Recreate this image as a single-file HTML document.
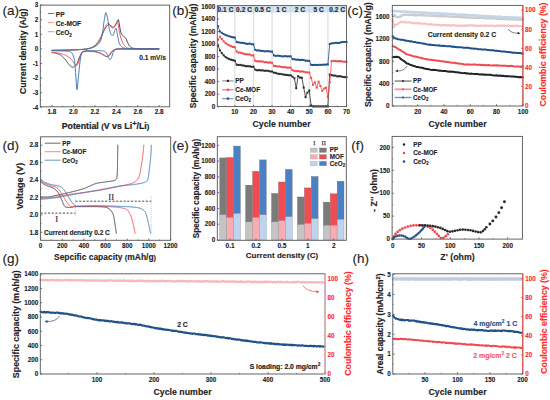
<!DOCTYPE html>
<html><head><meta charset="utf-8"><style>
html,body{margin:0;padding:0;background:#fff;width:550px;height:400px;overflow:hidden}
svg{display:block;font-family:"Liberation Sans", sans-serif}
</style></head><body>
<svg width="550" height="400" viewBox="0 0 550 400">
<rect width="550" height="400" fill="#fefefe"/>
<text x="2.6" y="14.6" font-size="13.5" text-anchor="start" font-weight="normal" fill="#222" stroke="#222" stroke-width="0.12">(a)</text>
<path d="M52,50.36 L52.36,50.36 L52.71,50.36 L53.07,50.36 L53.43,50.36 L53.79,50.36 L54.14,50.36 L54.5,50.35 L54.86,50.35 L55.22,50.35 L55.57,50.35 L55.93,50.34 L56.29,50.34 L56.65,50.34 L57,50.34 L57.36,50.33 L57.72,50.33 L58.07,50.32 L58.43,50.32 L58.79,50.31 L59.15,50.31 L59.5,50.3 L59.86,50.3 L60.22,50.29 L60.58,50.29 L60.93,50.28 L61.29,50.27 L61.65,50.27 L62.01,50.26 L62.36,50.25 L62.72,50.25 L63.08,50.24 L63.43,50.23 L63.79,50.22 L64.15,50.21 L64.51,50.2 L64.86,50.2 L65.22,50.19 L65.58,50.18 L65.94,50.17 L66.29,50.16 L66.65,50.15 L67.01,50.14 L67.37,50.13 L67.72,50.12 L68.08,50.1 L68.44,50.09 L68.79,50.08 L69.15,50.07 L69.51,50.06 L69.87,50.04 L70.22,50.03 L70.58,50.02 L70.94,50 L71.3,49.99 L71.65,49.98 L72.01,49.96 L72.37,49.95 L72.73,49.93 L73.08,49.92 L73.44,49.9 L73.8,49.89 L74.15,49.87 L74.51,49.86 L74.87,49.84 L75.23,49.83 L75.58,49.81 L75.94,49.79 L76.3,49.78 L76.66,49.76 L77.01,49.74 L77.37,49.72 L77.73,49.71 L78.09,49.69 L78.44,49.67 L78.8,49.65 L79.16,49.63 L79.51,49.61 L79.87,49.59 L80.23,49.57 L80.59,49.55 L80.94,49.53 L81.3,49.51 L81.66,49.49 L82.02,49.47 L82.37,49.45 L82.73,49.43 L83.09,49.4 L83.45,49.38 L83.8,49.36 L84.16,49.34 L84.52,49.31 L84.87,49.28 L85.23,49.24 L85.59,49.2 L85.95,49.16 L86.3,49.11 L86.66,49.05 L87.02,48.99 L87.38,48.92 L87.73,48.86 L88.09,48.78 L88.45,48.71 L88.81,48.63 L89.16,48.55 L89.52,48.46 L89.88,48.37 L90.23,48.27 L90.59,48.15 L90.95,48.03 L91.31,47.89 L91.66,47.75 L92.02,47.59 L92.38,47.42 L92.74,47.25 L93.09,47.06 L93.45,46.86 L93.81,46.66 L94.17,46.44 L94.52,46.22 L94.88,45.98 L95.24,45.72 L95.59,45.44 L95.95,45.12 L96.31,44.77 L96.67,44.39 L97.02,43.99 L97.38,43.56 L97.74,43.11 L98.1,42.64 L98.45,42.15 L98.81,41.63 L99.17,41.1 L99.53,40.55 L99.88,39.99 L100.24,39.41 L100.6,38.77 L100.95,38.02 L101.31,37.19 L101.67,36.31 L102.03,35.39 L102.38,34.45 L102.74,33.52 L103.1,32.63 L103.46,31.78 L103.81,31 L104.17,30.31 L104.53,29.62 L104.89,28.95 L105.24,28.3 L105.6,27.69 L105.96,27.14 L106.31,26.66 L106.67,26.27 L107.03,25.92 L107.39,25.58 L107.74,25.26 L108.1,24.98 L108.46,24.75 L108.82,24.59 L109.17,24.52 L109.53,24.58 L109.89,24.78 L110.25,25.09 L110.6,25.46 L110.96,25.83 L111.32,26.14 L111.67,26.39 L112.03,26.63 L112.39,26.88 L112.75,27.1 L113.1,27.29 L113.46,27.41 L113.82,27.43 L114.18,27.25 L114.53,26.86 L114.89,26.32 L115.25,25.67 L115.61,24.99 L115.96,24.33 L116.32,23.67 L116.68,22.79 L117.03,21.82 L117.39,20.9 L117.75,20.15 L118.11,19.74 L118.46,19.98 L118.82,21.45 L119.18,23.62 L119.54,25.87 L119.89,27.68 L120.25,29.51 L120.61,31.3 L120.97,32.78 L121.32,33.71 L121.68,34.31 L122.04,34.79 L122.39,35.2 L122.75,35.55 L123.11,35.88 L123.47,36.22 L123.82,36.5 L124.18,36.74 L124.54,36.98 L124.9,37.23 L125.25,37.53 L125.61,37.91 L125.97,38.45 L126.33,39.22 L126.68,40.12 L127.04,41.06 L127.4,41.94 L127.75,42.71 L128.11,43.49 L128.47,44.27 L128.83,44.99 L129.18,45.59 L129.54,46.01 L129.9,46.34 L130.26,46.65 L130.61,46.94 L130.97,47.2 L131.33,47.44 L131.69,47.65 L132.04,47.84 L132.4,48 L132.76,48.13 L133.11,48.24 L133.47,48.32 L133.83,48.38 L134.19,48.43 L134.54,48.49 L134.9,48.54 L135.26,48.58 L135.62,48.62 L135.97,48.66 L136.33,48.69 L136.69,48.71 L137.05,48.73 L137.4,48.75 L137.76,48.75 L138.12,48.76 L138.47,48.77 L138.83,48.77 L139.19,48.78 L139.55,48.78 L139.9,48.79 L140.26,48.79 L140.62,48.8 L140.98,48.8 L141.33,48.8 L141.69,48.81 L142.05,48.81 L142.41,48.82 L142.76,48.82 L143.12,48.82 L143.48,48.83 L143.83,48.83 L144.19,48.84 L144.55,48.84 L144.91,48.84 L145.26,48.85 L145.62,48.85 L145.98,48.85 L146.34,48.85 L146.69,48.86 L147.05,48.86 L147.41,48.86 L147.77,48.86 L148.12,48.87 L148.48,48.87 L148.84,48.87 L149.19,48.87 L149.55,48.88 L149.91,48.88 L150.27,48.88 L150.62,48.88 L150.98,48.88 L151.34,48.88 L151.7,48.89 L152.05,48.89 L152.41,48.89 L152.77,48.89 L153.13,48.89 L153.48,48.89 L153.84,48.89 L154.2,48.89 L154.55,48.89 L154.91,48.9 L155.27,48.9 L155.63,48.9 L155.98,48.9 L156.34,48.9 L156.7,48.9 L157.06,48.9 L157.41,48.9 L157.77,48.9 L158.13,48.9 L158.49,48.9 L158.84,48.9 L159.2,48.9 L159.2,48.9 L158.84,48.9 L158.49,48.9 L158.13,48.9 L157.77,48.9 L157.41,48.9 L157.06,48.9 L156.7,48.9 L156.34,48.9 L155.98,48.9 L155.63,48.9 L155.27,48.9 L154.91,48.9 L154.55,48.9 L154.2,48.9 L153.84,48.9 L153.48,48.9 L153.13,48.9 L152.77,48.9 L152.41,48.9 L152.05,48.9 L151.7,48.9 L151.34,48.9 L150.98,48.9 L150.62,48.9 L150.27,48.9 L149.91,48.9 L149.55,48.9 L149.19,48.9 L148.84,48.9 L148.48,48.9 L148.12,48.9 L147.77,48.9 L147.41,48.9 L147.05,48.9 L146.69,48.9 L146.34,48.9 L145.98,48.9 L145.62,48.9 L145.26,48.9 L144.91,48.9 L144.55,48.9 L144.19,48.9 L143.83,48.9 L143.48,48.9 L143.12,48.9 L142.76,48.9 L142.41,48.9 L142.05,48.9 L141.69,48.9 L141.33,48.9 L140.98,48.9 L140.62,48.9 L140.26,48.9 L139.9,48.9 L139.55,48.9 L139.19,48.9 L138.83,48.9 L138.47,48.9 L138.12,48.9 L137.76,48.9 L137.4,48.9 L137.05,48.9 L136.69,48.9 L136.33,48.9 L135.97,48.9 L135.62,48.9 L135.26,48.9 L134.9,48.9 L134.54,48.9 L134.19,48.9 L133.83,48.9 L133.47,48.9 L133.11,48.9 L132.76,48.9 L132.4,48.9 L132.04,48.9 L131.69,48.9 L131.33,48.9 L130.97,48.9 L130.61,48.9 L130.26,48.9 L129.9,48.9 L129.54,48.9 L129.18,48.9 L128.83,48.9 L128.47,48.9 L128.11,48.9 L127.75,48.9 L127.4,48.9 L127.04,48.9 L126.68,48.9 L126.33,48.9 L125.97,48.9 L125.61,48.9 L125.25,48.9 L124.9,48.9 L124.54,48.9 L124.18,48.9 L123.82,48.9 L123.47,48.9 L123.11,48.9 L122.75,48.9 L122.39,48.9 L122.04,48.9 L121.68,48.9 L121.32,48.9 L120.97,48.9 L120.61,48.91 L120.25,48.92 L119.89,48.93 L119.54,48.94 L119.18,48.95 L118.82,48.97 L118.46,48.98 L118.11,49 L117.75,49.02 L117.39,49.05 L117.03,49.08 L116.68,49.14 L116.32,49.23 L115.96,49.33 L115.61,49.45 L115.25,49.59 L114.89,49.74 L114.53,49.9 L114.18,50.07 L113.82,50.27 L113.46,50.53 L113.1,50.84 L112.75,51.19 L112.39,51.56 L112.03,51.95 L111.67,52.35 L111.32,52.76 L110.96,53.27 L110.6,53.83 L110.25,54.39 L109.89,54.9 L109.53,55.32 L109.17,55.6 L108.82,55.86 L108.46,56.1 L108.1,56.31 L107.74,56.48 L107.39,56.59 L107.03,56.64 L106.67,56.62 L106.31,56.55 L105.96,56.44 L105.6,56.29 L105.24,56.11 L104.89,55.91 L104.53,55.7 L104.17,55.47 L103.81,55.24 L103.46,55.01 L103.1,54.79 L102.74,54.58 L102.38,54.39 L102.03,54.2 L101.67,54 L101.31,53.79 L100.95,53.58 L100.6,53.38 L100.24,53.19 L99.88,53 L99.53,52.84 L99.17,52.7 L98.81,52.57 L98.45,52.44 L98.1,52.32 L97.74,52.21 L97.38,52.1 L97.02,52 L96.67,51.9 L96.31,51.81 L95.95,51.73 L95.59,51.65 L95.24,51.59 L94.88,51.53 L94.52,51.47 L94.17,51.42 L93.81,51.37 L93.45,51.32 L93.09,51.27 L92.74,51.22 L92.38,51.18 L92.02,51.14 L91.66,51.1 L91.31,51.06 L90.95,51.03 L90.59,51 L90.23,50.98 L89.88,50.96 L89.52,50.95 L89.16,50.94 L88.81,50.94 L88.45,50.95 L88.09,50.96 L87.73,50.97 L87.38,50.98 L87.02,51 L86.66,51.03 L86.3,51.06 L85.95,51.09 L85.59,51.12 L85.23,51.17 L84.87,51.21 L84.52,51.26 L84.16,51.32 L83.8,51.37 L83.45,51.44 L83.09,51.51 L82.73,51.62 L82.37,51.91 L82.02,52.33 L81.66,52.87 L81.3,53.5 L80.94,54.18 L80.59,54.88 L80.23,55.58 L79.87,56.26 L79.51,57.03 L79.16,57.92 L78.8,58.89 L78.44,59.89 L78.09,60.89 L77.73,61.85 L77.37,62.73 L77.01,63.49 L76.66,64.09 L76.3,64.54 L75.94,64.98 L75.58,65.41 L75.23,65.82 L74.87,66.19 L74.51,66.53 L74.15,66.81 L73.8,67.04 L73.44,67.2 L73.08,67.29 L72.73,67.29 L72.37,67.21 L72.01,67.07 L71.65,66.87 L71.3,66.62 L70.94,66.34 L70.58,66.02 L70.22,65.69 L69.87,65.35 L69.51,65 L69.15,64.67 L68.79,64.31 L68.44,63.89 L68.08,63.42 L67.72,62.92 L67.37,62.4 L67.01,61.86 L66.65,61.34 L66.29,60.83 L65.94,60.34 L65.58,59.9 L65.22,59.51 L64.86,59.12 L64.51,58.73 L64.15,58.33 L63.79,57.95 L63.43,57.56 L63.08,57.19 L62.72,56.82 L62.36,56.47 L62.01,56.14 L61.65,55.82 L61.29,55.52 L60.93,55.25 L60.58,55.01 L60.22,54.79 L59.86,54.6 L59.5,54.45 L59.15,54.31 L58.79,54.18 L58.43,54.05 L58.07,53.93 L57.72,53.8 L57.36,53.69 L57,53.57 L56.65,53.46 L56.29,53.36 L55.93,53.26 L55.57,53.17 L55.22,53.09 L54.86,53.01 L54.5,52.94 L54.14,52.88 L53.79,52.82 L53.43,52.78 L53.07,52.74 L52.71,52.72 L52.36,52.7 L52,52.7" fill="none" stroke="#3a3a3a" stroke-width="0.95" stroke-linejoin="round" stroke-linecap="round" />
<path d="M52,50.36 L52.36,50.36 L52.71,50.36 L53.07,50.36 L53.43,50.36 L53.79,50.36 L54.14,50.36 L54.5,50.35 L54.86,50.35 L55.22,50.35 L55.57,50.35 L55.93,50.35 L56.29,50.34 L56.65,50.34 L57,50.34 L57.36,50.33 L57.72,50.33 L58.07,50.33 L58.43,50.32 L58.79,50.32 L59.15,50.31 L59.5,50.31 L59.86,50.3 L60.22,50.3 L60.58,50.29 L60.93,50.28 L61.29,50.28 L61.65,50.27 L62.01,50.27 L62.36,50.26 L62.72,50.25 L63.08,50.24 L63.43,50.24 L63.79,50.23 L64.15,50.22 L64.51,50.21 L64.86,50.2 L65.22,50.19 L65.58,50.18 L65.94,50.18 L66.29,50.17 L66.65,50.16 L67.01,50.15 L67.37,50.13 L67.72,50.12 L68.08,50.11 L68.44,50.1 L68.79,50.09 L69.15,50.08 L69.51,50.07 L69.87,50.05 L70.22,50.04 L70.58,50.03 L70.94,50.02 L71.3,50 L71.65,49.99 L72.01,49.97 L72.37,49.96 L72.73,49.95 L73.08,49.93 L73.44,49.92 L73.8,49.9 L74.15,49.88 L74.51,49.87 L74.87,49.85 L75.23,49.84 L75.58,49.82 L75.94,49.8 L76.3,49.79 L76.66,49.77 L77.01,49.75 L77.37,49.73 L77.73,49.71 L78.09,49.7 L78.44,49.68 L78.8,49.66 L79.16,49.64 L79.51,49.62 L79.87,49.6 L80.23,49.58 L80.59,49.56 L80.94,49.54 L81.3,49.52 L81.66,49.5 L82.02,49.47 L82.37,49.45 L82.73,49.43 L83.09,49.41 L83.45,49.38 L83.8,49.36 L84.16,49.34 L84.52,49.31 L84.87,49.28 L85.23,49.24 L85.59,49.19 L85.95,49.13 L86.3,49.07 L86.66,49.01 L87.02,48.94 L87.38,48.86 L87.73,48.78 L88.09,48.7 L88.45,48.61 L88.81,48.51 L89.16,48.42 L89.52,48.32 L89.88,48.21 L90.23,48.08 L90.59,47.94 L90.95,47.78 L91.31,47.61 L91.66,47.43 L92.02,47.23 L92.38,47.03 L92.74,46.8 L93.09,46.57 L93.45,46.33 L93.81,46.07 L94.17,45.81 L94.52,45.53 L94.88,45.25 L95.24,44.94 L95.59,44.6 L95.95,44.23 L96.31,43.83 L96.67,43.39 L97.02,42.93 L97.38,42.45 L97.74,41.94 L98.1,41.42 L98.45,40.87 L98.81,40.31 L99.17,39.74 L99.53,39.15 L99.88,38.55 L100.24,37.95 L100.6,37.31 L100.95,36.61 L101.31,35.87 L101.67,35.09 L102.03,34.28 L102.38,33.45 L102.74,32.61 L103.1,31.78 L103.46,30.96 L103.81,30.16 L104.17,29.38 L104.53,28.55 L104.89,27.7 L105.24,26.88 L105.6,26.13 L105.96,25.5 L106.31,25.01 L106.67,24.54 L107.03,24.1 L107.39,23.7 L107.74,23.37 L108.1,23.15 L108.46,23.06 L108.82,23.21 L109.17,23.68 L109.53,24.35 L109.89,25.13 L110.25,25.9 L110.6,26.56 L110.96,27 L111.32,27.3 L111.67,27.58 L112.03,27.83 L112.39,28.02 L112.75,28.14 L113.1,28.15 L113.46,27.9 L113.82,27.4 L114.18,26.75 L114.53,26.05 L114.89,25.37 L115.25,24.81 L115.61,24.3 L115.96,23.75 L116.32,23.2 L116.68,22.73 L117.03,22.37 L117.39,22.19 L117.75,22.47 L118.11,23.74 L118.46,25.71 L118.82,28.05 L119.18,30.45 L119.54,32.57 L119.89,34.14 L120.25,35.52 L120.61,36.81 L120.97,38.01 L121.32,39.13 L121.68,40.14 L122.04,41.09 L122.39,42 L122.75,42.83 L123.11,43.57 L123.47,44.18 L123.82,44.69 L124.18,45.18 L124.54,45.65 L124.9,46.09 L125.25,46.5 L125.61,46.87 L125.97,47.19 L126.33,47.47 L126.68,47.68 L127.04,47.84 L127.4,47.95 L127.75,48.05 L128.11,48.15 L128.47,48.23 L128.83,48.32 L129.18,48.39 L129.54,48.46 L129.9,48.52 L130.26,48.58 L130.61,48.63 L130.97,48.67 L131.33,48.7 L131.69,48.73 L132.04,48.75 L132.4,48.75 L132.76,48.76 L133.11,48.76 L133.47,48.77 L133.83,48.77 L134.19,48.78 L134.54,48.78 L134.9,48.79 L135.26,48.79 L135.62,48.79 L135.97,48.8 L136.33,48.8 L136.69,48.8 L137.05,48.81 L137.4,48.81 L137.76,48.81 L138.12,48.82 L138.47,48.82 L138.83,48.82 L139.19,48.83 L139.55,48.83 L139.9,48.83 L140.26,48.84 L140.62,48.84 L140.98,48.84 L141.33,48.84 L141.69,48.85 L142.05,48.85 L142.41,48.85 L142.76,48.85 L143.12,48.86 L143.48,48.86 L143.83,48.86 L144.19,48.86 L144.55,48.87 L144.91,48.87 L145.26,48.87 L145.62,48.87 L145.98,48.87 L146.34,48.87 L146.69,48.88 L147.05,48.88 L147.41,48.88 L147.77,48.88 L148.12,48.88 L148.48,48.88 L148.84,48.88 L149.19,48.89 L149.55,48.89 L149.91,48.89 L150.27,48.89 L150.62,48.89 L150.98,48.89 L151.34,48.89 L151.7,48.89 L152.05,48.89 L152.41,48.89 L152.77,48.89 L153.13,48.9 L153.48,48.9 L153.84,48.9 L154.2,48.9 L154.55,48.9 L154.91,48.9 L155.27,48.9 L155.63,48.9 L155.98,48.9 L156.34,48.9 L156.7,48.9 L157.06,48.9 L157.41,48.9 L157.77,48.9 L158.13,48.9 L158.49,48.9 L158.84,48.9 L159.2,48.9 L159.2,48.9 L158.84,48.9 L158.49,48.9 L158.13,48.9 L157.77,48.9 L157.41,48.9 L157.06,48.9 L156.7,48.9 L156.34,48.9 L155.98,48.9 L155.63,48.9 L155.27,48.9 L154.91,48.9 L154.55,48.9 L154.2,48.9 L153.84,48.9 L153.48,48.9 L153.13,48.9 L152.77,48.9 L152.41,48.9 L152.05,48.9 L151.7,48.9 L151.34,48.9 L150.98,48.9 L150.62,48.9 L150.27,48.9 L149.91,48.9 L149.55,48.9 L149.19,48.9 L148.84,48.9 L148.48,48.9 L148.12,48.9 L147.77,48.9 L147.41,48.9 L147.05,48.9 L146.69,48.9 L146.34,48.9 L145.98,48.9 L145.62,48.9 L145.26,48.9 L144.91,48.9 L144.55,48.9 L144.19,48.9 L143.83,48.9 L143.48,48.9 L143.12,48.9 L142.76,48.9 L142.41,48.9 L142.05,48.9 L141.69,48.9 L141.33,48.9 L140.98,48.9 L140.62,48.9 L140.26,48.9 L139.9,48.9 L139.55,48.9 L139.19,48.9 L138.83,48.9 L138.47,48.9 L138.12,48.9 L137.76,48.9 L137.4,48.9 L137.05,48.9 L136.69,48.9 L136.33,48.9 L135.97,48.9 L135.62,48.9 L135.26,48.9 L134.9,48.9 L134.54,48.9 L134.19,48.9 L133.83,48.9 L133.47,48.9 L133.11,48.9 L132.76,48.9 L132.4,48.9 L132.04,48.9 L131.69,48.9 L131.33,48.9 L130.97,48.9 L130.61,48.9 L130.26,48.9 L129.9,48.9 L129.54,48.9 L129.18,48.9 L128.83,48.9 L128.47,48.9 L128.11,48.9 L127.75,48.9 L127.4,48.9 L127.04,48.9 L126.68,48.9 L126.33,48.9 L125.97,48.9 L125.61,48.9 L125.25,48.9 L124.9,48.9 L124.54,48.9 L124.18,48.9 L123.82,48.9 L123.47,48.9 L123.11,48.9 L122.75,48.9 L122.39,48.9 L122.04,48.9 L121.68,48.9 L121.32,48.9 L120.97,48.9 L120.61,48.9 L120.25,48.9 L119.89,48.9 L119.54,48.9 L119.18,48.9 L118.82,48.9 L118.46,48.9 L118.11,48.9 L117.75,48.9 L117.39,48.9 L117.03,48.91 L116.68,48.95 L116.32,49.01 L115.96,49.08 L115.61,49.17 L115.25,49.27 L114.89,49.39 L114.53,49.51 L114.18,49.63 L113.82,49.78 L113.46,49.96 L113.1,50.18 L112.75,50.44 L112.39,50.72 L112.03,51.03 L111.67,51.36 L111.32,51.72 L110.96,52.22 L110.6,52.8 L110.25,53.42 L109.89,54.02 L109.53,54.53 L109.17,54.93 L108.82,55.33 L108.46,55.71 L108.1,56.07 L107.74,56.36 L107.39,56.55 L107.03,56.64 L106.67,56.61 L106.31,56.51 L105.96,56.35 L105.6,56.16 L105.24,55.94 L104.89,55.71 L104.53,55.48 L104.17,55.27 L103.81,55.09 L103.46,54.9 L103.1,54.71 L102.74,54.51 L102.38,54.31 L102.03,54.12 L101.67,53.93 L101.31,53.75 L100.95,53.57 L100.6,53.42 L100.24,53.28 L99.88,53.15 L99.53,53.02 L99.17,52.9 L98.81,52.77 L98.45,52.65 L98.1,52.53 L97.74,52.42 L97.38,52.32 L97.02,52.22 L96.67,52.13 L96.31,52.05 L95.95,51.97 L95.59,51.91 L95.24,51.86 L94.88,51.82 L94.52,51.79 L94.17,51.76 L93.81,51.73 L93.45,51.7 L93.09,51.67 L92.74,51.64 L92.38,51.62 L92.02,51.59 L91.66,51.57 L91.31,51.54 L90.95,51.52 L90.59,51.5 L90.23,51.49 L89.88,51.47 L89.52,51.45 L89.16,51.44 L88.81,51.43 L88.45,51.41 L88.09,51.4 L87.73,51.4 L87.38,51.39 L87.02,51.39 L86.66,51.38 L86.3,51.38 L85.95,51.39 L85.59,51.43 L85.23,51.48 L84.87,51.56 L84.52,51.65 L84.16,51.77 L83.8,51.9 L83.45,52.05 L83.09,52.22 L82.73,52.41 L82.37,52.61 L82.02,52.88 L81.66,53.4 L81.3,54.13 L80.94,55.02 L80.59,55.99 L80.23,56.98 L79.87,57.96 L79.51,59.13 L79.16,60.44 L78.8,61.72 L78.44,62.8 L78.09,63.57 L77.73,64.29 L77.37,64.94 L77.01,65.43 L76.66,65.67 L76.3,65.65 L75.94,65.46 L75.58,65.17 L75.23,64.84 L74.87,64.48 L74.51,63.99 L74.15,63.4 L73.8,62.76 L73.44,62.13 L73.08,61.56 L72.73,61.08 L72.37,60.64 L72.01,60.21 L71.65,59.8 L71.3,59.41 L70.94,59.05 L70.58,58.71 L70.22,58.39 L69.87,58.09 L69.51,57.8 L69.15,57.52 L68.79,57.24 L68.44,56.98 L68.08,56.72 L67.72,56.48 L67.37,56.24 L67.01,56.02 L66.65,55.81 L66.29,55.61 L65.94,55.43 L65.58,55.26 L65.22,55.1 L64.86,54.95 L64.51,54.8 L64.15,54.66 L63.79,54.52 L63.43,54.39 L63.08,54.26 L62.72,54.14 L62.36,54.02 L62.01,53.91 L61.65,53.8 L61.29,53.7 L60.93,53.6 L60.58,53.52 L60.22,53.43 L59.86,53.35 L59.5,53.28 L59.15,53.21 L58.79,53.14 L58.43,53.07 L58.07,53.01 L57.72,52.94 L57.36,52.88 L57,52.82 L56.65,52.76 L56.29,52.7 L55.93,52.64 L55.57,52.59 L55.22,52.54 L54.86,52.49 L54.5,52.45 L54.14,52.41 L53.79,52.37 L53.43,52.34 L53.07,52.31 L52.71,52.29 L52.36,52.27 L52,52.26" fill="none" stroke="#f04a4f" stroke-width="0.95" stroke-linejoin="round" stroke-linecap="round" />
<path d="M52,50.36 L52.36,50.36 L52.71,50.35 L53.07,50.35 L53.43,50.34 L53.79,50.34 L54.14,50.34 L54.5,50.33 L54.86,50.32 L55.22,50.32 L55.57,50.31 L55.93,50.31 L56.29,50.3 L56.65,50.29 L57,50.29 L57.36,50.28 L57.72,50.27 L58.07,50.26 L58.43,50.26 L58.79,50.25 L59.15,50.24 L59.5,50.23 L59.86,50.22 L60.22,50.21 L60.58,50.2 L60.93,50.19 L61.29,50.19 L61.65,50.18 L62.01,50.17 L62.36,50.16 L62.72,50.14 L63.08,50.13 L63.43,50.12 L63.79,50.11 L64.15,50.1 L64.51,50.09 L64.86,50.08 L65.22,50.07 L65.58,50.06 L65.94,50.04 L66.29,50.03 L66.65,50.02 L67.01,50.01 L67.37,50 L67.72,49.98 L68.08,49.97 L68.44,49.96 L68.79,49.95 L69.15,49.93 L69.51,49.92 L69.87,49.91 L70.22,49.9 L70.58,49.88 L70.94,49.87 L71.3,49.86 L71.65,49.84 L72.01,49.83 L72.37,49.82 L72.73,49.8 L73.08,49.79 L73.44,49.78 L73.8,49.76 L74.15,49.75 L74.51,49.74 L74.87,49.72 L75.23,49.71 L75.58,49.69 L75.94,49.68 L76.3,49.66 L76.66,49.65 L77.01,49.63 L77.37,49.62 L77.73,49.6 L78.09,49.58 L78.44,49.57 L78.8,49.55 L79.16,49.53 L79.51,49.51 L79.87,49.49 L80.23,49.47 L80.59,49.45 L80.94,49.43 L81.3,49.41 L81.66,49.38 L82.02,49.36 L82.37,49.33 L82.73,49.31 L83.09,49.28 L83.45,49.25 L83.8,49.22 L84.16,49.19 L84.52,49.16 L84.87,49.12 L85.23,49.08 L85.59,49.03 L85.95,48.98 L86.3,48.93 L86.66,48.87 L87.02,48.81 L87.38,48.74 L87.73,48.68 L88.09,48.61 L88.45,48.54 L88.81,48.46 L89.16,48.39 L89.52,48.32 L89.88,48.24 L90.23,48.16 L90.59,48.08 L90.95,48 L91.31,47.91 L91.66,47.82 L92.02,47.73 L92.38,47.63 L92.74,47.52 L93.09,47.4 L93.45,47.28 L93.81,47.15 L94.17,47.02 L94.52,46.87 L94.88,46.71 L95.24,46.54 L95.59,46.35 L95.95,46.15 L96.31,45.93 L96.67,45.69 L97.02,45.42 L97.38,45.12 L97.74,44.8 L98.1,44.45 L98.45,44.07 L98.81,43.65 L99.17,43.2 L99.53,42.71 L99.88,42.17 L100.24,41.6 L100.6,40.83 L100.95,39.75 L101.31,38.41 L101.67,36.86 L102.03,35.17 L102.38,33.39 L102.74,31.38 L103.1,28.82 L103.46,25.97 L103.81,23.12 L104.17,20.57 L104.53,18.41 L104.89,16.13 L105.24,14.1 L105.6,12.79 L105.96,12.61 L106.31,13.28 L106.67,14.48 L107.03,16 L107.39,17.62 L107.74,19.29 L108.1,21.48 L108.46,23.95 L108.82,26.37 L109.17,28.41 L109.53,29.87 L109.89,31.19 L110.25,32.43 L110.6,33.5 L110.96,34.35 L111.32,34.89 L111.67,35.12 L112.03,35.27 L112.39,35.38 L112.75,35.45 L113.1,35.43 L113.46,34.81 L113.82,33.67 L114.18,32.34 L114.53,31.12 L114.89,30.22 L115.25,29.3 L115.61,28.53 L115.96,28.17 L116.32,28.73 L116.68,30.32 L117.03,32.37 L117.39,34.3 L117.75,36.17 L118.11,38.24 L118.46,40.23 L118.82,41.87 L119.18,42.97 L119.54,43.85 L119.89,44.59 L120.25,45.2 L120.61,45.69 L120.97,46.09 L121.32,46.45 L121.68,46.77 L122.04,47.04 L122.39,47.26 L122.75,47.44 L123.11,47.59 L123.47,47.74 L123.82,47.88 L124.18,48.01 L124.54,48.13 L124.9,48.24 L125.25,48.34 L125.61,48.43 L125.97,48.5 L126.33,48.55 L126.68,48.59 L127.04,48.61 L127.4,48.62 L127.75,48.62 L128.11,48.63 L128.47,48.64 L128.83,48.65 L129.18,48.65 L129.54,48.66 L129.9,48.67 L130.26,48.68 L130.61,48.68 L130.97,48.69 L131.33,48.7 L131.69,48.7 L132.04,48.71 L132.4,48.72 L132.76,48.72 L133.11,48.73 L133.47,48.73 L133.83,48.74 L134.19,48.74 L134.54,48.75 L134.9,48.76 L135.26,48.76 L135.62,48.77 L135.97,48.77 L136.33,48.78 L136.69,48.78 L137.05,48.78 L137.4,48.79 L137.76,48.79 L138.12,48.8 L138.47,48.8 L138.83,48.81 L139.19,48.81 L139.55,48.81 L139.9,48.82 L140.26,48.82 L140.62,48.82 L140.98,48.83 L141.33,48.83 L141.69,48.83 L142.05,48.84 L142.41,48.84 L142.76,48.84 L143.12,48.85 L143.48,48.85 L143.83,48.85 L144.19,48.85 L144.55,48.86 L144.91,48.86 L145.26,48.86 L145.62,48.86 L145.98,48.87 L146.34,48.87 L146.69,48.87 L147.05,48.87 L147.41,48.87 L147.77,48.88 L148.12,48.88 L148.48,48.88 L148.84,48.88 L149.19,48.88 L149.55,48.88 L149.91,48.89 L150.27,48.89 L150.62,48.89 L150.98,48.89 L151.34,48.89 L151.7,48.89 L152.05,48.89 L152.41,48.89 L152.77,48.89 L153.13,48.89 L153.48,48.89 L153.84,48.9 L154.2,48.9 L154.55,48.9 L154.91,48.9 L155.27,48.9 L155.63,48.9 L155.98,48.9 L156.34,48.9 L156.7,48.9 L157.06,48.9 L157.41,48.9 L157.77,48.9 L158.13,48.9 L158.49,48.9 L158.84,48.9 L159.2,48.9 L159.2,48.9 L158.84,48.9 L158.49,48.9 L158.13,48.9 L157.77,48.9 L157.41,48.9 L157.06,48.9 L156.7,48.9 L156.34,48.9 L155.98,48.9 L155.63,48.9 L155.27,48.9 L154.91,48.9 L154.55,48.9 L154.2,48.9 L153.84,48.9 L153.48,48.9 L153.13,48.9 L152.77,48.9 L152.41,48.9 L152.05,48.9 L151.7,48.9 L151.34,48.9 L150.98,48.9 L150.62,48.9 L150.27,48.9 L149.91,48.9 L149.55,48.9 L149.19,48.9 L148.84,48.9 L148.48,48.9 L148.12,48.9 L147.77,48.9 L147.41,48.9 L147.05,48.9 L146.69,48.9 L146.34,48.9 L145.98,48.9 L145.62,48.9 L145.26,48.9 L144.91,48.9 L144.55,48.9 L144.19,48.9 L143.83,48.9 L143.48,48.9 L143.12,48.9 L142.76,48.9 L142.41,48.9 L142.05,48.9 L141.69,48.9 L141.33,48.9 L140.98,48.9 L140.62,48.9 L140.26,48.9 L139.9,48.9 L139.55,48.9 L139.19,48.9 L138.83,48.9 L138.47,48.9 L138.12,48.9 L137.76,48.9 L137.4,48.9 L137.05,48.9 L136.69,48.9 L136.33,48.9 L135.97,48.9 L135.62,48.9 L135.26,48.9 L134.9,48.9 L134.54,48.9 L134.19,48.9 L133.83,48.9 L133.47,48.9 L133.11,48.9 L132.76,48.9 L132.4,48.9 L132.04,48.9 L131.69,48.9 L131.33,48.9 L130.97,48.9 L130.61,48.9 L130.26,48.9 L129.9,48.9 L129.54,48.9 L129.18,48.9 L128.83,48.9 L128.47,48.9 L128.11,48.9 L127.75,48.9 L127.4,48.9 L127.04,48.9 L126.68,48.9 L126.33,48.9 L125.97,48.9 L125.61,48.9 L125.25,48.9 L124.9,48.9 L124.54,48.9 L124.18,48.9 L123.82,48.9 L123.47,48.9 L123.11,48.9 L122.75,48.9 L122.39,48.9 L122.04,48.9 L121.68,48.9 L121.32,48.9 L120.97,48.9 L120.61,48.9 L120.25,48.91 L119.89,48.91 L119.54,48.92 L119.18,48.92 L118.82,48.93 L118.46,48.94 L118.11,48.95 L117.75,48.96 L117.39,48.97 L117.03,48.99 L116.68,49.01 L116.32,49.03 L115.96,49.05 L115.61,49.2 L115.25,49.5 L114.89,49.87 L114.53,50.27 L114.18,50.76 L113.82,51.34 L113.46,52.01 L113.1,52.75 L112.75,53.65 L112.39,54.86 L112.03,56.15 L111.67,57.26 L111.32,58 L110.96,58.68 L110.6,59.25 L110.25,59.62 L109.89,59.69 L109.53,59.38 L109.17,58.8 L108.82,58.04 L108.46,57.23 L108.1,56.47 L107.74,55.8 L107.39,55.07 L107.03,54.3 L106.67,53.54 L106.31,52.84 L105.96,52.28 L105.6,51.89 L105.24,51.68 L104.89,51.5 L104.53,51.33 L104.17,51.19 L103.81,51.06 L103.46,50.96 L103.1,50.88 L102.74,50.83 L102.38,50.8 L102.03,50.78 L101.67,50.77 L101.31,50.76 L100.95,50.74 L100.6,50.73 L100.24,50.72 L99.88,50.71 L99.53,50.7 L99.17,50.7 L98.81,50.69 L98.45,50.68 L98.1,50.68 L97.74,50.67 L97.38,50.67 L97.02,50.66 L96.67,50.66 L96.31,50.66 L95.95,50.65 L95.59,50.65 L95.24,50.65 L94.88,50.65 L94.52,50.65 L94.17,50.65 L93.81,50.66 L93.45,50.66 L93.09,50.66 L92.74,50.67 L92.38,50.67 L92.02,50.68 L91.66,50.69 L91.31,50.7 L90.95,50.71 L90.59,50.72 L90.23,50.73 L89.88,50.75 L89.52,50.76 L89.16,50.78 L88.81,50.8 L88.45,50.82 L88.09,50.85 L87.73,50.87 L87.38,50.9 L87.02,50.93 L86.66,50.96 L86.3,50.99 L85.95,51.02 L85.59,51.06 L85.23,51.1 L84.87,51.14 L84.52,51.18 L84.16,51.23 L83.8,51.28 L83.45,51.33 L83.09,51.38 L82.73,51.53 L82.37,51.86 L82.02,52.33 L81.66,52.94 L81.3,53.76 L80.94,55.39 L80.59,57.65 L80.23,60.22 L79.87,62.84 L79.51,65.86 L79.16,69.27 L78.8,72.87 L78.44,76.41 L78.09,79.93 L77.73,84.17 L77.37,87.94 L77.01,89.76 L76.66,87.87 L76.3,82.8 L75.94,77.08 L75.58,72.5 L75.23,67.79 L74.87,63.53 L74.51,60.58 L74.15,58.75 L73.8,57.26 L73.44,56.06 L73.08,55.12 L72.73,54.39 L72.37,53.73 L72.01,53.15 L71.65,52.68 L71.3,52.32 L70.94,52.1 L70.58,51.95 L70.22,51.82 L69.87,51.7 L69.51,51.61 L69.15,51.53 L68.79,51.47 L68.44,51.42 L68.08,51.38 L67.72,51.35 L67.37,51.33 L67.01,51.3 L66.65,51.28 L66.29,51.25 L65.94,51.23 L65.58,51.21 L65.22,51.18 L64.86,51.16 L64.51,51.14 L64.15,51.12 L63.79,51.1 L63.43,51.08 L63.08,51.07 L62.72,51.05 L62.36,51.03 L62.01,51.01 L61.65,51 L61.29,50.98 L60.93,50.97 L60.58,50.96 L60.22,50.94 L59.86,50.93 L59.5,50.92 L59.15,50.91 L58.79,50.9 L58.43,50.89 L58.07,50.88 L57.72,50.87 L57.36,50.86 L57,50.85 L56.65,50.84 L56.29,50.84 L55.93,50.83 L55.57,50.82 L55.22,50.82 L54.86,50.81 L54.5,50.81 L54.14,50.81 L53.79,50.8 L53.43,50.8 L53.07,50.8 L52.71,50.8 L52.36,50.8 L52,50.8" fill="none" stroke="#3a78b5" stroke-width="0.95" stroke-linejoin="round" stroke-linecap="round" />
<rect x="40.3" y="5.1" width="129.4" height="101.7" fill="none" stroke="#555" stroke-width="0.9"/>
<line x1="52" y1="106.8" x2="52" y2="105" stroke="#555" stroke-width="0.8"/>
<text x="52" y="113.9" font-size="6.3" text-anchor="middle" font-weight="bold" fill="#222" stroke="#222" stroke-width="0.1" >1.8</text>
<line x1="73.44" y1="106.8" x2="73.44" y2="105" stroke="#555" stroke-width="0.8"/>
<text x="73.44" y="113.9" font-size="6.3" text-anchor="middle" font-weight="bold" fill="#222" stroke="#222" stroke-width="0.1" >2.0</text>
<line x1="94.88" y1="106.8" x2="94.88" y2="105" stroke="#555" stroke-width="0.8"/>
<text x="94.88" y="113.9" font-size="6.3" text-anchor="middle" font-weight="bold" fill="#222" stroke="#222" stroke-width="0.1" >2.2</text>
<line x1="116.32" y1="106.8" x2="116.32" y2="105" stroke="#555" stroke-width="0.8"/>
<text x="116.32" y="113.9" font-size="6.3" text-anchor="middle" font-weight="bold" fill="#222" stroke="#222" stroke-width="0.1" >2.4</text>
<line x1="137.76" y1="106.8" x2="137.76" y2="105" stroke="#555" stroke-width="0.8"/>
<text x="137.76" y="113.9" font-size="6.3" text-anchor="middle" font-weight="bold" fill="#222" stroke="#222" stroke-width="0.1" >2.6</text>
<line x1="159.2" y1="106.8" x2="159.2" y2="105" stroke="#555" stroke-width="0.8"/>
<text x="159.2" y="113.9" font-size="6.3" text-anchor="middle" font-weight="bold" fill="#222" stroke="#222" stroke-width="0.1" >2.8</text>
<line x1="62.72" y1="106.8" x2="62.72" y2="105.7" stroke="#555" stroke-width="0.6"/>
<line x1="84.16" y1="106.8" x2="84.16" y2="105.7" stroke="#555" stroke-width="0.6"/>
<line x1="105.6" y1="106.8" x2="105.6" y2="105.7" stroke="#555" stroke-width="0.6"/>
<line x1="127.04" y1="106.8" x2="127.04" y2="105.7" stroke="#555" stroke-width="0.6"/>
<line x1="148.48" y1="106.8" x2="148.48" y2="105.7" stroke="#555" stroke-width="0.6"/>
<line x1="40.3" y1="5.1" x2="42.1" y2="5.1" stroke="#555" stroke-width="0.8"/>
<text x="38.3" y="7.37" font-size="6.3" text-anchor="end" font-weight="bold" fill="#222" stroke="#222" stroke-width="0.1" >3</text>
<line x1="40.3" y1="19.7" x2="42.1" y2="19.7" stroke="#555" stroke-width="0.8"/>
<text x="38.3" y="21.97" font-size="6.3" text-anchor="end" font-weight="bold" fill="#222" stroke="#222" stroke-width="0.1" >2</text>
<line x1="40.3" y1="34.3" x2="42.1" y2="34.3" stroke="#555" stroke-width="0.8"/>
<text x="38.3" y="36.57" font-size="6.3" text-anchor="end" font-weight="bold" fill="#222" stroke="#222" stroke-width="0.1" >1</text>
<line x1="40.3" y1="48.9" x2="42.1" y2="48.9" stroke="#555" stroke-width="0.8"/>
<text x="38.3" y="51.17" font-size="6.3" text-anchor="end" font-weight="bold" fill="#222" stroke="#222" stroke-width="0.1" >0</text>
<line x1="40.3" y1="63.5" x2="42.1" y2="63.5" stroke="#555" stroke-width="0.8"/>
<text x="38.3" y="65.77" font-size="6.3" text-anchor="end" font-weight="bold" fill="#222" stroke="#222" stroke-width="0.1" >-1</text>
<line x1="40.3" y1="78.1" x2="42.1" y2="78.1" stroke="#555" stroke-width="0.8"/>
<text x="38.3" y="80.37" font-size="6.3" text-anchor="end" font-weight="bold" fill="#222" stroke="#222" stroke-width="0.1" >-2</text>
<line x1="40.3" y1="92.7" x2="42.1" y2="92.7" stroke="#555" stroke-width="0.8"/>
<text x="38.3" y="94.97" font-size="6.3" text-anchor="end" font-weight="bold" fill="#222" stroke="#222" stroke-width="0.1" >-3</text>
<line x1="40.3" y1="107.3" x2="42.1" y2="107.3" stroke="#555" stroke-width="0.8"/>
<text x="38.3" y="109.57" font-size="6.3" text-anchor="end" font-weight="bold" fill="#222" stroke="#222" stroke-width="0.1" >-4</text>
<line x1="40.3" y1="12.4" x2="41.4" y2="12.4" stroke="#555" stroke-width="0.6"/>
<line x1="40.3" y1="27" x2="41.4" y2="27" stroke="#555" stroke-width="0.6"/>
<line x1="40.3" y1="41.6" x2="41.4" y2="41.6" stroke="#555" stroke-width="0.6"/>
<line x1="40.3" y1="56.2" x2="41.4" y2="56.2" stroke="#555" stroke-width="0.6"/>
<line x1="40.3" y1="70.8" x2="41.4" y2="70.8" stroke="#555" stroke-width="0.6"/>
<line x1="40.3" y1="85.4" x2="41.4" y2="85.4" stroke="#555" stroke-width="0.6"/>
<line x1="40.3" y1="100" x2="41.4" y2="100" stroke="#555" stroke-width="0.6"/>
<text transform="translate(25.7,51.3) rotate(-90)" font-size="8.6" text-anchor="middle" font-weight="bold" fill="#222" stroke="#222" stroke-width="0.12">Current density (A/g)</text>
<text x="105.5" y="128.8" font-size="8.8" text-anchor="middle" font-weight="bold" fill="#222" stroke="#222" stroke-width="0.2">Potential <tspan font-size="7.6">(</tspan>V vs Li<tspan font-size="7.5" dy="-3">+</tspan><tspan dy="3">/Li</tspan><tspan font-size="7.6">)</tspan></text>
<path d="M48.3,13.5 L53.8,13.5" fill="none" stroke="#555" stroke-width="0.8" stroke-linejoin="round" stroke-linecap="round" />
<text x="55.8" y="16.8" font-size="6.6" text-anchor="start" font-weight="bold" fill="#222" stroke="#222" stroke-width="0.1" >PP</text>
<path d="M48.3,22.6 L53.8,22.6" fill="none" stroke="#f77" stroke-width="0.8" stroke-linejoin="round" stroke-linecap="round" />
<text x="55.8" y="25.9" font-size="6.6" text-anchor="start" font-weight="bold" fill="#222" stroke="#222" stroke-width="0.1" >Ce-MOF</text>
<path d="M48.3,31.7 L53.8,31.7" fill="none" stroke="#7a9cc0" stroke-width="0.8" stroke-linejoin="round" stroke-linecap="round" />
<text x="55.8" y="35" font-size="6.6" text-anchor="start" font-weight="bold" fill="#222" stroke="#222" stroke-width="0.1" >CeO<tspan font-size="70%" dy="1.5">2</tspan></text>
<text x="166" y="59.8" font-size="6.6" text-anchor="end" font-weight="bold" fill="#222" stroke="#222" stroke-width="0.1" >0.1 mV/s</text>
<text x="172.2" y="14.6" font-size="13.5" text-anchor="start" font-weight="normal" fill="#222" stroke="#222" stroke-width="0.12">(b)</text>
<rect x="217.3" y="5.6" width="129.2" height="7.0" fill="#d3e5f2"/>
<line x1="234.81" y1="5.6" x2="234.81" y2="106.6" stroke="#d0d0d0" stroke-width="0.8"/>
<line x1="253.43" y1="5.6" x2="253.43" y2="106.6" stroke="#d0d0d0" stroke-width="0.8"/>
<line x1="272.04" y1="5.6" x2="272.04" y2="106.6" stroke="#d0d0d0" stroke-width="0.8"/>
<line x1="290.66" y1="5.6" x2="290.66" y2="106.6" stroke="#d0d0d0" stroke-width="0.8"/>
<line x1="309.27" y1="5.6" x2="309.27" y2="106.6" stroke="#d0d0d0" stroke-width="0.8"/>
<line x1="327.89" y1="5.6" x2="327.89" y2="106.6" stroke="#d0d0d0" stroke-width="0.8"/>
<text x="225.51" y="12" font-size="6.4" text-anchor="middle" font-weight="bold" fill="#2a2a2a" stroke="#2a2a2a" stroke-width="0.2" letter-spacing="0.15">0.1 C</text>
<text x="244.12" y="12" font-size="6.4" text-anchor="middle" font-weight="bold" fill="#2a2a2a" stroke="#2a2a2a" stroke-width="0.2" letter-spacing="0.15">0.2 C</text>
<text x="262.74" y="12" font-size="6.4" text-anchor="middle" font-weight="bold" fill="#2a2a2a" stroke="#2a2a2a" stroke-width="0.2" letter-spacing="0.15">0.5 C</text>
<text x="281.35" y="12" font-size="6.4" text-anchor="middle" font-weight="bold" fill="#2a2a2a" stroke="#2a2a2a" stroke-width="0.2" letter-spacing="0.15">1 C</text>
<text x="299.96" y="12" font-size="6.4" text-anchor="middle" font-weight="bold" fill="#2a2a2a" stroke="#2a2a2a" stroke-width="0.2" letter-spacing="0.15">2 C</text>
<text x="318.58" y="12" font-size="6.4" text-anchor="middle" font-weight="bold" fill="#2a2a2a" stroke="#2a2a2a" stroke-width="0.2" letter-spacing="0.15">5 C</text>
<text x="337.19" y="12" font-size="6.4" text-anchor="middle" font-weight="bold" fill="#2a2a2a" stroke="#2a2a2a" stroke-width="0.2" letter-spacing="0.15">0.2 C</text>
<path d="M218.06,45.7 L219.92,50.34 L221.78,53.16 L223.65,55.35 L225.51,56.91 L227.37,58.17 L229.23,59.11 L231.09,59.73 L232.95,60.23 L234.81,60.73 L236.68,64.66 L238.54,65 L240.4,64.87 L242.26,65.41 L244.12,65.64 L245.98,66.21 L247.84,66.17 L249.71,66.28 L251.57,66.84 L253.43,66.67 L255.29,69.67 L257.15,70.29 L259.01,70.12 L260.87,70.4 L262.74,70.42 L264.6,70.78 L266.46,70.71 L268.32,70.83 L270.18,71.42 L272.04,71.53 L273.9,72.65 L275.77,72.92 L277.63,73.7 L279.49,73.88 L281.35,74.07 L283.21,74.51 L285.07,74.74 L286.93,75.03 L288.8,75.23 L290.66,75.33 L292.52,76.64 L294.38,78.21 L296.24,88.23 L298.1,76.2 L299.96,77.58 L301.83,77.7 L303.69,87.54 L305.55,97.18 L307.41,92.67 L309.27,90.48 L311.13,105.51 L312.99,106.39 L314.86,106.39 L316.72,106.39 L318.58,106.39 L320.44,106.39 L322.3,106.39 L324.16,106.39 L326.02,106.39 L327.89,106.39 L329.75,74.51 L331.61,75.2 L333.47,75.55 L335.33,75.61 L337.19,76.34 L339.05,76.25 L340.92,76.39 L342.78,76.88 L344.64,77.16 L346.5,77.01" fill="none" stroke="#2b2b2b" stroke-width="0.8" stroke-linejoin="round" stroke-linecap="round" />
<rect x="217.06" y="44.7" width="2" height="2" fill="#2b2b2b"/>
<rect x="218.92" y="49.34" width="2" height="2" fill="#2b2b2b"/>
<rect x="220.78" y="52.16" width="2" height="2" fill="#2b2b2b"/>
<rect x="222.65" y="54.35" width="2" height="2" fill="#2b2b2b"/>
<rect x="224.51" y="55.91" width="2" height="2" fill="#2b2b2b"/>
<rect x="226.37" y="57.17" width="2" height="2" fill="#2b2b2b"/>
<rect x="228.23" y="58.11" width="2" height="2" fill="#2b2b2b"/>
<rect x="230.09" y="58.73" width="2" height="2" fill="#2b2b2b"/>
<rect x="231.95" y="59.23" width="2" height="2" fill="#2b2b2b"/>
<rect x="233.81" y="59.73" width="2" height="2" fill="#2b2b2b"/>
<rect x="235.68" y="63.66" width="2" height="2" fill="#2b2b2b"/>
<rect x="237.54" y="64" width="2" height="2" fill="#2b2b2b"/>
<rect x="239.4" y="63.87" width="2" height="2" fill="#2b2b2b"/>
<rect x="241.26" y="64.41" width="2" height="2" fill="#2b2b2b"/>
<rect x="243.12" y="64.64" width="2" height="2" fill="#2b2b2b"/>
<rect x="244.98" y="65.21" width="2" height="2" fill="#2b2b2b"/>
<rect x="246.84" y="65.17" width="2" height="2" fill="#2b2b2b"/>
<rect x="248.71" y="65.28" width="2" height="2" fill="#2b2b2b"/>
<rect x="250.57" y="65.84" width="2" height="2" fill="#2b2b2b"/>
<rect x="252.43" y="65.67" width="2" height="2" fill="#2b2b2b"/>
<rect x="254.29" y="68.67" width="2" height="2" fill="#2b2b2b"/>
<rect x="256.15" y="69.29" width="2" height="2" fill="#2b2b2b"/>
<rect x="258.01" y="69.12" width="2" height="2" fill="#2b2b2b"/>
<rect x="259.87" y="69.4" width="2" height="2" fill="#2b2b2b"/>
<rect x="261.74" y="69.42" width="2" height="2" fill="#2b2b2b"/>
<rect x="263.6" y="69.78" width="2" height="2" fill="#2b2b2b"/>
<rect x="265.46" y="69.71" width="2" height="2" fill="#2b2b2b"/>
<rect x="267.32" y="69.83" width="2" height="2" fill="#2b2b2b"/>
<rect x="269.18" y="70.42" width="2" height="2" fill="#2b2b2b"/>
<rect x="271.04" y="70.53" width="2" height="2" fill="#2b2b2b"/>
<rect x="272.9" y="71.65" width="2" height="2" fill="#2b2b2b"/>
<rect x="274.77" y="71.92" width="2" height="2" fill="#2b2b2b"/>
<rect x="276.63" y="72.7" width="2" height="2" fill="#2b2b2b"/>
<rect x="278.49" y="72.88" width="2" height="2" fill="#2b2b2b"/>
<rect x="280.35" y="73.07" width="2" height="2" fill="#2b2b2b"/>
<rect x="282.21" y="73.51" width="2" height="2" fill="#2b2b2b"/>
<rect x="284.07" y="73.74" width="2" height="2" fill="#2b2b2b"/>
<rect x="285.93" y="74.03" width="2" height="2" fill="#2b2b2b"/>
<rect x="287.8" y="74.23" width="2" height="2" fill="#2b2b2b"/>
<rect x="289.66" y="74.33" width="2" height="2" fill="#2b2b2b"/>
<rect x="291.52" y="75.64" width="2" height="2" fill="#2b2b2b"/>
<rect x="293.38" y="77.21" width="2" height="2" fill="#2b2b2b"/>
<rect x="295.24" y="87.23" width="2" height="2" fill="#2b2b2b"/>
<rect x="297.1" y="75.2" width="2" height="2" fill="#2b2b2b"/>
<rect x="298.96" y="76.58" width="2" height="2" fill="#2b2b2b"/>
<rect x="300.83" y="76.7" width="2" height="2" fill="#2b2b2b"/>
<rect x="302.69" y="86.54" width="2" height="2" fill="#2b2b2b"/>
<rect x="304.55" y="96.18" width="2" height="2" fill="#2b2b2b"/>
<rect x="306.41" y="91.67" width="2" height="2" fill="#2b2b2b"/>
<rect x="308.27" y="89.48" width="2" height="2" fill="#2b2b2b"/>
<rect x="310.13" y="104.51" width="2" height="2" fill="#2b2b2b"/>
<rect x="311.99" y="105.39" width="2" height="2" fill="#2b2b2b"/>
<rect x="313.86" y="105.39" width="2" height="2" fill="#2b2b2b"/>
<rect x="315.72" y="105.39" width="2" height="2" fill="#2b2b2b"/>
<rect x="317.58" y="105.39" width="2" height="2" fill="#2b2b2b"/>
<rect x="319.44" y="105.39" width="2" height="2" fill="#2b2b2b"/>
<rect x="321.3" y="105.39" width="2" height="2" fill="#2b2b2b"/>
<rect x="323.16" y="105.39" width="2" height="2" fill="#2b2b2b"/>
<rect x="325.02" y="105.39" width="2" height="2" fill="#2b2b2b"/>
<rect x="326.89" y="105.39" width="2" height="2" fill="#2b2b2b"/>
<rect x="328.75" y="73.51" width="2" height="2" fill="#2b2b2b"/>
<rect x="330.61" y="74.2" width="2" height="2" fill="#2b2b2b"/>
<rect x="332.47" y="74.55" width="2" height="2" fill="#2b2b2b"/>
<rect x="334.33" y="74.61" width="2" height="2" fill="#2b2b2b"/>
<rect x="336.19" y="75.34" width="2" height="2" fill="#2b2b2b"/>
<rect x="338.05" y="75.25" width="2" height="2" fill="#2b2b2b"/>
<rect x="339.92" y="75.39" width="2" height="2" fill="#2b2b2b"/>
<rect x="341.78" y="75.88" width="2" height="2" fill="#2b2b2b"/>
<rect x="343.64" y="76.16" width="2" height="2" fill="#2b2b2b"/>
<rect x="345.5" y="76.01" width="2" height="2" fill="#2b2b2b"/>
<path d="M218.06,39.75 L219.92,36.75 L221.78,39.06 L223.65,41.26 L225.51,43.14 L227.37,44.39 L229.23,45.33 L231.09,46.27 L232.95,46.89 L234.81,47.21 L236.68,51.58 L238.54,52.55 L240.4,52.65 L242.26,53.26 L244.12,53.85 L245.98,54.38 L247.84,54.26 L249.71,54.53 L251.57,55.45 L253.43,55.35 L255.29,60.79 L257.15,61.3 L259.01,61.46 L260.87,61.4 L262.74,61.55 L264.6,62.27 L266.46,62.11 L268.32,62.66 L270.18,62.42 L272.04,62.84 L273.9,65.88 L275.77,66.07 L277.63,66.55 L279.49,66.4 L281.35,66.99 L283.21,67.28 L285.07,67.1 L286.93,67.59 L288.8,67.62 L290.66,67.62 L292.52,70.18 L294.38,70.87 L296.24,71.23 L298.1,70.98 L299.96,71.58 L301.83,71.41 L303.69,71.68 L305.55,72.22 L307.41,72.39 L309.27,72.56 L311.13,77.89 L312.99,84.78 L314.86,82.4 L316.72,87.66 L318.58,81.65 L320.44,86.03 L322.3,90.86 L324.16,88.54 L326.02,87.66 L327.89,97.18 L329.75,82.4 L331.61,61.17 L333.47,60.83 L335.33,61.05 L337.19,61.21 L339.05,61.29 L340.92,61.21 L342.78,61.59 L344.64,61.74 L346.5,61.66" fill="none" stroke="#f04a4f" stroke-width="0.8" stroke-linejoin="round" stroke-linecap="round" />
<rect x="217.06" y="38.75" width="2" height="2" fill="#f04a4f"/>
<rect x="218.92" y="35.75" width="2" height="2" fill="#f04a4f"/>
<rect x="220.78" y="38.06" width="2" height="2" fill="#f04a4f"/>
<rect x="222.65" y="40.26" width="2" height="2" fill="#f04a4f"/>
<rect x="224.51" y="42.14" width="2" height="2" fill="#f04a4f"/>
<rect x="226.37" y="43.39" width="2" height="2" fill="#f04a4f"/>
<rect x="228.23" y="44.33" width="2" height="2" fill="#f04a4f"/>
<rect x="230.09" y="45.27" width="2" height="2" fill="#f04a4f"/>
<rect x="231.95" y="45.89" width="2" height="2" fill="#f04a4f"/>
<rect x="233.81" y="46.21" width="2" height="2" fill="#f04a4f"/>
<rect x="235.68" y="50.58" width="2" height="2" fill="#f04a4f"/>
<rect x="237.54" y="51.55" width="2" height="2" fill="#f04a4f"/>
<rect x="239.4" y="51.65" width="2" height="2" fill="#f04a4f"/>
<rect x="241.26" y="52.26" width="2" height="2" fill="#f04a4f"/>
<rect x="243.12" y="52.85" width="2" height="2" fill="#f04a4f"/>
<rect x="244.98" y="53.38" width="2" height="2" fill="#f04a4f"/>
<rect x="246.84" y="53.26" width="2" height="2" fill="#f04a4f"/>
<rect x="248.71" y="53.53" width="2" height="2" fill="#f04a4f"/>
<rect x="250.57" y="54.45" width="2" height="2" fill="#f04a4f"/>
<rect x="252.43" y="54.35" width="2" height="2" fill="#f04a4f"/>
<rect x="254.29" y="59.79" width="2" height="2" fill="#f04a4f"/>
<rect x="256.15" y="60.3" width="2" height="2" fill="#f04a4f"/>
<rect x="258.01" y="60.46" width="2" height="2" fill="#f04a4f"/>
<rect x="259.87" y="60.4" width="2" height="2" fill="#f04a4f"/>
<rect x="261.74" y="60.55" width="2" height="2" fill="#f04a4f"/>
<rect x="263.6" y="61.27" width="2" height="2" fill="#f04a4f"/>
<rect x="265.46" y="61.11" width="2" height="2" fill="#f04a4f"/>
<rect x="267.32" y="61.66" width="2" height="2" fill="#f04a4f"/>
<rect x="269.18" y="61.42" width="2" height="2" fill="#f04a4f"/>
<rect x="271.04" y="61.84" width="2" height="2" fill="#f04a4f"/>
<rect x="272.9" y="64.88" width="2" height="2" fill="#f04a4f"/>
<rect x="274.77" y="65.07" width="2" height="2" fill="#f04a4f"/>
<rect x="276.63" y="65.55" width="2" height="2" fill="#f04a4f"/>
<rect x="278.49" y="65.4" width="2" height="2" fill="#f04a4f"/>
<rect x="280.35" y="65.99" width="2" height="2" fill="#f04a4f"/>
<rect x="282.21" y="66.28" width="2" height="2" fill="#f04a4f"/>
<rect x="284.07" y="66.1" width="2" height="2" fill="#f04a4f"/>
<rect x="285.93" y="66.59" width="2" height="2" fill="#f04a4f"/>
<rect x="287.8" y="66.62" width="2" height="2" fill="#f04a4f"/>
<rect x="289.66" y="66.62" width="2" height="2" fill="#f04a4f"/>
<rect x="291.52" y="69.18" width="2" height="2" fill="#f04a4f"/>
<rect x="293.38" y="69.87" width="2" height="2" fill="#f04a4f"/>
<rect x="295.24" y="70.23" width="2" height="2" fill="#f04a4f"/>
<rect x="297.1" y="69.98" width="2" height="2" fill="#f04a4f"/>
<rect x="298.96" y="70.58" width="2" height="2" fill="#f04a4f"/>
<rect x="300.83" y="70.41" width="2" height="2" fill="#f04a4f"/>
<rect x="302.69" y="70.68" width="2" height="2" fill="#f04a4f"/>
<rect x="304.55" y="71.22" width="2" height="2" fill="#f04a4f"/>
<rect x="306.41" y="71.39" width="2" height="2" fill="#f04a4f"/>
<rect x="308.27" y="71.56" width="2" height="2" fill="#f04a4f"/>
<rect x="310.13" y="76.89" width="2" height="2" fill="#f04a4f"/>
<rect x="311.99" y="83.78" width="2" height="2" fill="#f04a4f"/>
<rect x="313.86" y="81.4" width="2" height="2" fill="#f04a4f"/>
<rect x="315.72" y="86.66" width="2" height="2" fill="#f04a4f"/>
<rect x="317.58" y="80.65" width="2" height="2" fill="#f04a4f"/>
<rect x="319.44" y="85.03" width="2" height="2" fill="#f04a4f"/>
<rect x="321.3" y="89.86" width="2" height="2" fill="#f04a4f"/>
<rect x="323.16" y="87.54" width="2" height="2" fill="#f04a4f"/>
<rect x="325.02" y="86.66" width="2" height="2" fill="#f04a4f"/>
<rect x="326.89" y="96.18" width="2" height="2" fill="#f04a4f"/>
<rect x="328.75" y="81.4" width="2" height="2" fill="#f04a4f"/>
<rect x="330.61" y="60.17" width="2" height="2" fill="#f04a4f"/>
<rect x="332.47" y="59.83" width="2" height="2" fill="#f04a4f"/>
<rect x="334.33" y="60.05" width="2" height="2" fill="#f04a4f"/>
<rect x="336.19" y="60.21" width="2" height="2" fill="#f04a4f"/>
<rect x="338.05" y="60.29" width="2" height="2" fill="#f04a4f"/>
<rect x="339.92" y="60.21" width="2" height="2" fill="#f04a4f"/>
<rect x="341.78" y="60.59" width="2" height="2" fill="#f04a4f"/>
<rect x="343.64" y="60.74" width="2" height="2" fill="#f04a4f"/>
<rect x="345.5" y="60.66" width="2" height="2" fill="#f04a4f"/>
<path d="M218.06,26.29 L219.92,31.49 L221.78,32.8 L223.65,34.06 L225.51,34.99 L227.37,35.62 L229.23,36.25 L231.09,36.87 L232.95,37.31 L234.81,37.5 L236.68,42.17 L238.54,42.36 L240.4,42.75 L242.26,42.85 L244.12,43.08 L245.98,43.65 L247.84,43.9 L249.71,43.59 L251.57,44.15 L253.43,44.37 L255.29,49.9 L257.15,50.49 L259.01,50.45 L260.87,50.85 L262.74,50.91 L264.6,51.37 L266.46,51.21 L268.32,51.21 L270.18,51.57 L272.04,51.56 L273.9,55.37 L275.77,55.94 L277.63,55.65 L279.49,55.88 L281.35,56.19 L283.21,56.47 L285.07,56.06 L286.93,56.41 L288.8,56.36 L290.66,56.36 L292.52,59.1 L294.38,59.21 L296.24,59.73 L298.1,59.64 L299.96,60.02 L301.83,59.86 L303.69,60.03 L305.55,60.66 L307.41,60.77 L309.27,60.85 L311.13,64.76 L312.99,65.02 L314.86,64.84 L316.72,65 L318.58,64.82 L320.44,64.85 L322.3,64.83 L324.16,64.64 L326.02,64.6 L327.89,64.36 L329.75,43.9 L331.61,43.4 L333.47,43.19 L335.33,42.87 L337.19,42.86 L339.05,42.97 L340.92,42.34 L342.78,42.08 L344.64,41.94 L346.5,41.97" fill="none" stroke="#1f5289" stroke-width="0.8" stroke-linejoin="round" stroke-linecap="round" />
<rect x="217.06" y="25.29" width="2" height="2" fill="#1f5289"/>
<rect x="218.92" y="30.49" width="2" height="2" fill="#1f5289"/>
<rect x="220.78" y="31.8" width="2" height="2" fill="#1f5289"/>
<rect x="222.65" y="33.06" width="2" height="2" fill="#1f5289"/>
<rect x="224.51" y="33.99" width="2" height="2" fill="#1f5289"/>
<rect x="226.37" y="34.62" width="2" height="2" fill="#1f5289"/>
<rect x="228.23" y="35.25" width="2" height="2" fill="#1f5289"/>
<rect x="230.09" y="35.87" width="2" height="2" fill="#1f5289"/>
<rect x="231.95" y="36.31" width="2" height="2" fill="#1f5289"/>
<rect x="233.81" y="36.5" width="2" height="2" fill="#1f5289"/>
<rect x="235.68" y="41.17" width="2" height="2" fill="#1f5289"/>
<rect x="237.54" y="41.36" width="2" height="2" fill="#1f5289"/>
<rect x="239.4" y="41.75" width="2" height="2" fill="#1f5289"/>
<rect x="241.26" y="41.85" width="2" height="2" fill="#1f5289"/>
<rect x="243.12" y="42.08" width="2" height="2" fill="#1f5289"/>
<rect x="244.98" y="42.65" width="2" height="2" fill="#1f5289"/>
<rect x="246.84" y="42.9" width="2" height="2" fill="#1f5289"/>
<rect x="248.71" y="42.59" width="2" height="2" fill="#1f5289"/>
<rect x="250.57" y="43.15" width="2" height="2" fill="#1f5289"/>
<rect x="252.43" y="43.37" width="2" height="2" fill="#1f5289"/>
<rect x="254.29" y="48.9" width="2" height="2" fill="#1f5289"/>
<rect x="256.15" y="49.49" width="2" height="2" fill="#1f5289"/>
<rect x="258.01" y="49.45" width="2" height="2" fill="#1f5289"/>
<rect x="259.87" y="49.85" width="2" height="2" fill="#1f5289"/>
<rect x="261.74" y="49.91" width="2" height="2" fill="#1f5289"/>
<rect x="263.6" y="50.37" width="2" height="2" fill="#1f5289"/>
<rect x="265.46" y="50.21" width="2" height="2" fill="#1f5289"/>
<rect x="267.32" y="50.21" width="2" height="2" fill="#1f5289"/>
<rect x="269.18" y="50.57" width="2" height="2" fill="#1f5289"/>
<rect x="271.04" y="50.56" width="2" height="2" fill="#1f5289"/>
<rect x="272.9" y="54.37" width="2" height="2" fill="#1f5289"/>
<rect x="274.77" y="54.94" width="2" height="2" fill="#1f5289"/>
<rect x="276.63" y="54.65" width="2" height="2" fill="#1f5289"/>
<rect x="278.49" y="54.88" width="2" height="2" fill="#1f5289"/>
<rect x="280.35" y="55.19" width="2" height="2" fill="#1f5289"/>
<rect x="282.21" y="55.47" width="2" height="2" fill="#1f5289"/>
<rect x="284.07" y="55.06" width="2" height="2" fill="#1f5289"/>
<rect x="285.93" y="55.41" width="2" height="2" fill="#1f5289"/>
<rect x="287.8" y="55.36" width="2" height="2" fill="#1f5289"/>
<rect x="289.66" y="55.36" width="2" height="2" fill="#1f5289"/>
<rect x="291.52" y="58.1" width="2" height="2" fill="#1f5289"/>
<rect x="293.38" y="58.21" width="2" height="2" fill="#1f5289"/>
<rect x="295.24" y="58.73" width="2" height="2" fill="#1f5289"/>
<rect x="297.1" y="58.64" width="2" height="2" fill="#1f5289"/>
<rect x="298.96" y="59.02" width="2" height="2" fill="#1f5289"/>
<rect x="300.83" y="58.86" width="2" height="2" fill="#1f5289"/>
<rect x="302.69" y="59.03" width="2" height="2" fill="#1f5289"/>
<rect x="304.55" y="59.66" width="2" height="2" fill="#1f5289"/>
<rect x="306.41" y="59.77" width="2" height="2" fill="#1f5289"/>
<rect x="308.27" y="59.85" width="2" height="2" fill="#1f5289"/>
<rect x="310.13" y="63.76" width="2" height="2" fill="#1f5289"/>
<rect x="311.99" y="64.02" width="2" height="2" fill="#1f5289"/>
<rect x="313.86" y="63.84" width="2" height="2" fill="#1f5289"/>
<rect x="315.72" y="64" width="2" height="2" fill="#1f5289"/>
<rect x="317.58" y="63.82" width="2" height="2" fill="#1f5289"/>
<rect x="319.44" y="63.85" width="2" height="2" fill="#1f5289"/>
<rect x="321.3" y="63.83" width="2" height="2" fill="#1f5289"/>
<rect x="323.16" y="63.64" width="2" height="2" fill="#1f5289"/>
<rect x="325.02" y="63.6" width="2" height="2" fill="#1f5289"/>
<rect x="326.89" y="63.36" width="2" height="2" fill="#1f5289"/>
<rect x="328.75" y="42.9" width="2" height="2" fill="#1f5289"/>
<rect x="330.61" y="42.4" width="2" height="2" fill="#1f5289"/>
<rect x="332.47" y="42.19" width="2" height="2" fill="#1f5289"/>
<rect x="334.33" y="41.87" width="2" height="2" fill="#1f5289"/>
<rect x="336.19" y="41.86" width="2" height="2" fill="#1f5289"/>
<rect x="338.05" y="41.97" width="2" height="2" fill="#1f5289"/>
<rect x="339.92" y="41.34" width="2" height="2" fill="#1f5289"/>
<rect x="341.78" y="41.08" width="2" height="2" fill="#1f5289"/>
<rect x="343.64" y="40.94" width="2" height="2" fill="#1f5289"/>
<rect x="345.5" y="40.97" width="2" height="2" fill="#1f5289"/>
<rect x="217.3" y="5.6" width="129.2" height="101" fill="none" stroke="#555" stroke-width="0.9"/>
<line x1="234.81" y1="106.6" x2="234.81" y2="104.8" stroke="#555" stroke-width="0.8"/>
<text x="234.81" y="114" font-size="6.3" text-anchor="middle" font-weight="bold" fill="#222" stroke="#222" stroke-width="0.1" >10</text>
<line x1="253.43" y1="106.6" x2="253.43" y2="104.8" stroke="#555" stroke-width="0.8"/>
<text x="253.43" y="114" font-size="6.3" text-anchor="middle" font-weight="bold" fill="#222" stroke="#222" stroke-width="0.1" >20</text>
<line x1="272.04" y1="106.6" x2="272.04" y2="104.8" stroke="#555" stroke-width="0.8"/>
<text x="272.04" y="114" font-size="6.3" text-anchor="middle" font-weight="bold" fill="#222" stroke="#222" stroke-width="0.1" >30</text>
<line x1="290.66" y1="106.6" x2="290.66" y2="104.8" stroke="#555" stroke-width="0.8"/>
<text x="290.66" y="114" font-size="6.3" text-anchor="middle" font-weight="bold" fill="#222" stroke="#222" stroke-width="0.1" >40</text>
<line x1="309.27" y1="106.6" x2="309.27" y2="104.8" stroke="#555" stroke-width="0.8"/>
<text x="309.27" y="114" font-size="6.3" text-anchor="middle" font-weight="bold" fill="#222" stroke="#222" stroke-width="0.1" >50</text>
<line x1="327.89" y1="106.6" x2="327.89" y2="104.8" stroke="#555" stroke-width="0.8"/>
<text x="327.89" y="114" font-size="6.3" text-anchor="middle" font-weight="bold" fill="#222" stroke="#222" stroke-width="0.1" >60</text>
<line x1="346.5" y1="106.6" x2="346.5" y2="104.8" stroke="#555" stroke-width="0.8"/>
<text x="346.5" y="114" font-size="6.3" text-anchor="middle" font-weight="bold" fill="#222" stroke="#222" stroke-width="0.1" >70</text>
<line x1="225.51" y1="106.6" x2="225.51" y2="105.5" stroke="#555" stroke-width="0.6"/>
<line x1="244.12" y1="106.6" x2="244.12" y2="105.5" stroke="#555" stroke-width="0.6"/>
<line x1="262.74" y1="106.6" x2="262.74" y2="105.5" stroke="#555" stroke-width="0.6"/>
<line x1="281.35" y1="106.6" x2="281.35" y2="105.5" stroke="#555" stroke-width="0.6"/>
<line x1="299.96" y1="106.6" x2="299.96" y2="105.5" stroke="#555" stroke-width="0.6"/>
<line x1="318.58" y1="106.6" x2="318.58" y2="105.5" stroke="#555" stroke-width="0.6"/>
<line x1="337.19" y1="106.6" x2="337.19" y2="105.5" stroke="#555" stroke-width="0.6"/>
<line x1="217.3" y1="106.7" x2="219.1" y2="106.7" stroke="#555" stroke-width="0.8"/>
<text x="215.3" y="108.97" font-size="6.3" text-anchor="end" font-weight="bold" fill="#222" stroke="#222" stroke-width="0.1" >0</text>
<line x1="217.3" y1="94.17" x2="219.1" y2="94.17" stroke="#555" stroke-width="0.8"/>
<text x="215.3" y="96.44" font-size="6.3" text-anchor="end" font-weight="bold" fill="#222" stroke="#222" stroke-width="0.1" >200</text>
<line x1="217.3" y1="81.65" x2="219.1" y2="81.65" stroke="#555" stroke-width="0.8"/>
<text x="215.3" y="83.92" font-size="6.3" text-anchor="end" font-weight="bold" fill="#222" stroke="#222" stroke-width="0.1" >400</text>
<line x1="217.3" y1="69.12" x2="219.1" y2="69.12" stroke="#555" stroke-width="0.8"/>
<text x="215.3" y="71.39" font-size="6.3" text-anchor="end" font-weight="bold" fill="#222" stroke="#222" stroke-width="0.1" >600</text>
<line x1="217.3" y1="56.6" x2="219.1" y2="56.6" stroke="#555" stroke-width="0.8"/>
<text x="215.3" y="58.87" font-size="6.3" text-anchor="end" font-weight="bold" fill="#222" stroke="#222" stroke-width="0.1" >800</text>
<line x1="217.3" y1="44.08" x2="219.1" y2="44.08" stroke="#555" stroke-width="0.8"/>
<text x="215.3" y="46.34" font-size="6.3" text-anchor="end" font-weight="bold" fill="#222" stroke="#222" stroke-width="0.1" >1000</text>
<line x1="217.3" y1="31.55" x2="219.1" y2="31.55" stroke="#555" stroke-width="0.8"/>
<text x="215.3" y="33.82" font-size="6.3" text-anchor="end" font-weight="bold" fill="#222" stroke="#222" stroke-width="0.1" >1200</text>
<line x1="217.3" y1="19.03" x2="219.1" y2="19.03" stroke="#555" stroke-width="0.8"/>
<text x="215.3" y="21.29" font-size="6.3" text-anchor="end" font-weight="bold" fill="#222" stroke="#222" stroke-width="0.1" >1400</text>
<line x1="217.3" y1="6.5" x2="219.1" y2="6.5" stroke="#555" stroke-width="0.8"/>
<text x="215.3" y="8.77" font-size="6.3" text-anchor="end" font-weight="bold" fill="#222" stroke="#222" stroke-width="0.1" >1600</text>
<text transform="translate(196.3,56) rotate(-90)" font-size="8.6" text-anchor="middle" font-weight="bold" fill="#222" stroke="#222" stroke-width="0.12">Specific capacity (mAh/g)</text>
<text x="281.5" y="127.2" font-size="8.8" text-anchor="middle" font-weight="bold" fill="#222" stroke="#222" stroke-width="0.1" >Cycle number</text>
<path d="M222.6,80.9 L233,80.9" fill="none" stroke="#9a9a9a" stroke-width="1.3" stroke-linejoin="round" stroke-linecap="round" />
<rect x="226.8" y="79.8" width="2.2" height="2.2" fill="#2b2b2b"/>
<text x="235.2" y="83.1" font-size="6.5" text-anchor="start" font-weight="bold" fill="#222" stroke="#222" stroke-width="0.1" >PP</text>
<path d="M222.6,89.75 L233,89.75" fill="none" stroke="#f98a8e" stroke-width="1.3" stroke-linejoin="round" stroke-linecap="round" />
<rect x="226.8" y="88.65" width="2.2" height="2.2" fill="#f04a4f"/>
<text x="235.2" y="91.95" font-size="6.5" text-anchor="start" font-weight="bold" fill="#222" stroke="#222" stroke-width="0.1" >Ce-MOF</text>
<path d="M222.6,98.6 L233,98.6" fill="none" stroke="#7d9fc4" stroke-width="1.3" stroke-linejoin="round" stroke-linecap="round" />
<rect x="226.8" y="97.5" width="2.2" height="2.2" fill="#1f5289"/>
<text x="235.2" y="100.8" font-size="6.5" text-anchor="start" font-weight="bold" fill="#222" stroke="#222" stroke-width="0.1" >CeO<tspan font-size="70%" dy="1.5">2</tspan></text>
<text x="347.3" y="14.6" font-size="13.5" text-anchor="start" font-weight="normal" fill="#222" stroke="#222" stroke-width="0.12">(c)</text>
<path d="M392.71,19.46 L394.03,26.66 L395.34,25.04 L396.66,24.43 L397.97,24 L399.29,22.95 L400.6,22.06 L401.92,21.68 L403.23,22.09 L404.55,21.88 L405.86,22.52 L407.18,22.5 L408.5,22.37 L409.81,22.3 L411.12,22.74 L412.44,23.03 L413.75,23.22 L415.07,23.01 L416.38,23.38 L417.7,23.02 L419.01,23.11 L420.33,23.72 L421.64,23.76 L422.96,23.46 L424.27,23.7 L425.59,23.69 L426.9,24.15 L428.22,24.42 L429.53,24.41 L430.85,24.14 L432.16,24.65 L433.48,24.7 L434.79,24.76 L436.11,24.86 L437.42,24.98 L438.74,24.7 L440.05,25.4 L441.37,25.62 L442.69,25.02 L444,25.17 L445.31,25.1 L446.63,25.53 L447.94,25.14 L449.26,25.17 L450.57,25.72 L451.89,25.32 L453.2,25.26 L454.52,25.4 L455.83,25.52 L457.15,25.7 L458.46,25.67 L459.78,25.77 L461.09,25.9 L462.41,25.51 L463.72,25.75 L465.04,25.35 L466.35,25.95 L467.67,25.3 L468.98,25.47 L470.3,25.3 L471.62,25.33 L472.93,25.33 L474.25,25.59 L475.56,26.03 L476.88,25.48 L478.19,25.92 L479.5,25.83 L480.82,25.56 L482.13,25.68 L483.45,25.77 L484.76,25.38 L486.08,25.63 L487.39,25.85 L488.71,25.92 L490.02,25.47 L491.34,25.77 L492.65,25.54 L493.97,25.88 L495.28,26.01 L496.6,25.76 L497.91,25.55 L499.23,26.05 L500.54,25.58 L501.86,25.49 L503.17,25.59 L504.49,25.58 L505.8,26.21 L507.12,25.75 L508.43,25.58 L509.75,26.2 L511.06,26.04 L512.38,26.05 L513.69,25.86 L515.01,25.95 L516.32,25.92 L517.64,25.7 L518.95,26.3 L520.27,26.26 L521.59,26.22 L522.9,26.23" fill="none" stroke="#f7c0c4" stroke-width="2.2" stroke-linejoin="round" stroke-linecap="round" />
<path d="M392.71,14.76 L394.03,14.96 L395.34,15.85 L396.66,17 L397.97,17.16 L399.29,17.01 L400.6,16.34 L401.92,15.6 L403.23,14.94 L404.55,14.73 L405.86,14.76 L407.18,14.86 L408.5,14.84 L409.81,15 L411.12,14.85 L412.44,14.83 L413.75,15.05 L415.07,15.25 L416.38,15.26 L417.7,15.22 L419.01,15.17 L420.33,15.14 L421.64,15.39 L422.96,15.25 L424.27,15.39 L425.59,15.54 L426.9,15.62 L428.22,15.62 L429.53,15.58 L430.85,15.77 L432.16,15.7 L433.48,15.87 L434.79,16.03 L436.11,15.95 L437.42,15.93 L438.74,16.28 L440.05,16.17 L441.37,16.23 L442.69,16.07 L444,16.1 L445.31,16.42 L446.63,16.23 L447.94,16.34 L449.26,16.65 L450.57,16.61 L451.89,16.83 L453.2,16.56 L454.52,16.69 L455.83,16.64 L457.15,16.74 L458.46,16.86 L459.78,16.88 L461.09,17.02 L462.41,17.3 L463.72,17.12 L465.04,17.46 L466.35,17.45 L467.67,17.21 L468.98,17.61 L470.3,17.65 L471.62,17.7 L472.93,17.38 L474.25,17.78 L475.56,17.91 L476.88,17.57 L478.19,17.97 L479.5,17.69 L480.82,17.83 L482.13,17.81 L483.45,17.81 L484.76,18.04 L486.08,17.99 L487.39,18.42 L488.71,18.12 L490.02,18.3 L491.34,18.26 L492.65,18.61 L493.97,18.36 L495.28,18.33 L496.6,18.8 L497.91,18.74 L499.23,18.68 L500.54,18.61 L501.86,18.95 L503.17,19.03 L504.49,19.06 L505.8,18.94 L507.12,18.93 L508.43,19.16 L509.75,19.23 L511.06,19.27 L512.38,19.35 L513.69,19.38 L515.01,19.6 L516.32,19.45 L517.64,19.29 L518.95,19.61 L520.27,19.51 L521.59,19.84 L522.9,19.65" fill="none" stroke="#cccccc" stroke-width="2.4" stroke-linejoin="round" stroke-linecap="round" />
<path d="M392.71,10.91 L394.03,11.02 L395.34,11.17 L396.66,11.26 L397.97,11.25 L399.29,11.2 L400.6,11.63 L401.92,11.73 L403.23,11.49 L404.55,11.48 L405.86,11.74 L407.18,11.85 L408.5,11.79 L409.81,12.11 L411.12,12.15 L412.44,12.25 L413.75,12.14 L415.07,12.34 L416.38,12.45 L417.7,12.3 L419.01,12.25 L420.33,12.63 L421.64,12.51 L422.96,12.72 L424.27,12.58 L425.59,12.78 L426.9,13.01 L428.22,13.1 L429.53,13.27 L430.85,13.12 L432.16,13.24 L433.48,13.41 L434.79,13.39 L436.11,13.48 L437.42,13.34 L438.74,13.71 L440.05,13.38 L441.37,13.69 L442.69,13.71 L444,13.84 L445.31,13.74 L446.63,13.81 L447.94,14.01 L449.26,14.12 L450.57,14.08 L451.89,14.08 L453.2,14.37 L454.52,14.29 L455.83,14.25 L457.15,14.56 L458.46,14.74 L459.78,14.81 L461.09,14.65 L462.41,14.74 L463.72,14.68 L465.04,14.8 L466.35,15.16 L467.67,15.26 L468.98,15.3 L470.3,15.41 L471.62,15.23 L472.93,15.23 L474.25,15.28 L475.56,15.66 L476.88,15.44 L478.19,15.77 L479.5,15.79 L480.82,15.72 L482.13,16.1 L483.45,16.17 L484.76,15.88 L486.08,16.21 L487.39,16.25 L488.71,16.22 L490.02,16.25 L491.34,16.64 L492.65,16.55 L493.97,16.57 L495.28,16.62 L496.6,16.83 L497.91,16.72 L499.23,16.61 L500.54,16.95 L501.86,16.95 L503.17,17.23 L504.49,17.22 L505.8,17.11 L507.12,17.44 L508.43,17.15 L509.75,17.21 L511.06,17.67 L512.38,17.34 L513.69,17.68 L515.01,17.56 L516.32,17.64 L517.64,17.93 L518.95,17.82 L520.27,17.9 L521.59,17.9 L522.9,18.23" fill="none" stroke="#c3d6e8" stroke-width="2.6" stroke-linejoin="round" stroke-linecap="round" />
<path d="M392.71,36.06 L394.03,37.82 L395.34,38.28 L396.66,38.68 L397.97,39.2 L399.29,39.37 L400.6,39.71 L401.92,39.78 L403.23,40.03 L404.55,40.31 L405.86,40.71 L407.18,40.73 L408.5,40.96 L409.81,41.39 L411.12,41.3 L412.44,41.64 L413.75,42.1 L415.07,41.97 L416.38,42.55 L417.7,42.7 L419.01,42.75 L420.33,43.04 L421.64,43.28 L422.96,43.47 L424.27,43.78 L425.59,44.08 L426.9,44.37 L428.22,44.64 L429.53,44.58 L430.85,44.68 L432.16,44.89 L433.48,44.91 L434.79,45.19 L436.11,45.34 L437.42,45.4 L438.74,45.3 L440.05,45.78 L441.37,45.69 L442.69,45.91 L444,45.79 L445.31,46.09 L446.63,46.21 L447.94,46.29 L449.26,46.34 L450.57,46.35 L451.89,46.65 L453.2,46.54 L454.52,46.98 L455.83,47.02 L457.15,47.21 L458.46,47.32 L459.78,47.13 L461.09,47.26 L462.41,47.62 L463.72,47.73 L465.04,47.74 L466.35,47.72 L467.67,47.82 L468.98,47.99 L470.3,48.19 L471.62,48.52 L472.93,48.54 L474.25,48.76 L475.56,48.75 L476.88,48.86 L478.19,49.16 L479.5,49.27 L480.82,49.16 L482.13,49.63 L483.45,49.42 L484.76,49.51 L486.08,49.62 L487.39,50 L488.71,50.06 L490.02,50.18 L491.34,50.29 L492.65,50.26 L493.97,50.53 L495.28,50.83 L496.6,50.71 L497.91,51.01 L499.23,51.09 L500.54,51.17 L501.86,51.63 L503.17,51.41 L504.49,51.6 L505.8,51.8 L507.12,51.92 L508.43,52.08 L509.75,52.33 L511.06,52.32 L512.38,52.67 L513.69,52.59 L515.01,52.66 L516.32,52.88 L517.64,52.96 L518.95,52.92 L520.27,53.08 L521.59,53.55 L522.9,53.39" fill="none" stroke="#1f5289" stroke-width="2.0" stroke-linejoin="round" stroke-linecap="round" />
<path d="M392.71,45.91 L394.03,46.67 L395.34,47.04 L396.66,47.96 L397.97,48.89 L399.29,49.55 L400.6,50.21 L401.92,51.31 L403.23,51.89 L404.55,52.79 L405.86,53.87 L407.18,54.37 L408.5,54.84 L409.81,55.06 L411.12,55.52 L412.44,55.87 L413.75,56.41 L415.07,56.57 L416.38,56.78 L417.7,57.08 L419.01,57.54 L420.33,57.67 L421.64,58.06 L422.96,58.5 L424.27,58.8 L425.59,59.05 L426.9,59.27 L428.22,59.55 L429.53,59.67 L430.85,59.75 L432.16,59.99 L433.48,60.21 L434.79,60.28 L436.11,60.6 L437.42,60.69 L438.74,60.73 L440.05,61.06 L441.37,61.33 L442.69,61.17 L444,61.42 L445.31,61.75 L446.63,61.91 L447.94,62.01 L449.26,62.15 L450.57,62.48 L451.89,62.75 L453.2,62.82 L454.52,62.73 L455.83,63.19 L457.15,63.21 L458.46,63.5 L459.78,63.66 L461.09,63.85 L462.41,63.91 L463.72,64.18 L465.04,64.41 L466.35,64.43 L467.67,64.46 L468.98,64.37 L470.3,64.61 L471.62,64.68 L472.93,64.55 L474.25,64.62 L475.56,64.54 L476.88,64.88 L478.19,64.78 L479.5,64.84 L480.82,65.06 L482.13,64.69 L483.45,65.08 L484.76,65.19 L486.08,65.07 L487.39,65.26 L488.71,65.11 L490.02,65.29 L491.34,65.44 L492.65,65.52 L493.97,65.28 L495.28,65.53 L496.6,65.36 L497.91,65.55 L499.23,65.4 L500.54,65.73 L501.86,65.81 L503.17,65.86 L504.49,65.66 L505.8,65.8 L507.12,65.98 L508.43,66.15 L509.75,65.94 L511.06,65.86 L512.38,66.08 L513.69,66.4 L515.01,66.44 L516.32,66.47 L517.64,66.49 L518.95,66.6 L520.27,66.65 L521.59,66.43 L522.9,66.37" fill="none" stroke="#f04a4f" stroke-width="2.0" stroke-linejoin="round" stroke-linecap="round" />
<path d="M392.71,57.29 L394.03,56.85 L395.34,56.98 L396.66,56.74 L397.97,57.02 L399.29,57.35 L400.6,58.82 L401.92,59.76 L403.23,60.57 L404.55,61.37 L405.86,62.71 L407.18,63.57 L408.5,63.82 L409.81,64.65 L411.12,65.04 L412.44,65.56 L413.75,65.91 L415.07,66.3 L416.38,66.92 L417.7,66.94 L419.01,67.22 L420.33,67.44 L421.64,67.85 L422.96,67.95 L424.27,68.48 L425.59,68.73 L426.9,69.09 L428.22,69.12 L429.53,69.53 L430.85,69.76 L432.16,69.94 L433.48,69.83 L434.79,70.02 L436.11,70.11 L437.42,70.39 L438.74,70.48 L440.05,70.77 L441.37,70.65 L442.69,71.1 L444,71.04 L445.31,71.04 L446.63,71.22 L447.94,71.61 L449.26,71.69 L450.57,71.55 L451.89,71.78 L453.2,71.81 L454.52,71.95 L455.83,72.27 L457.15,72.21 L458.46,72.42 L459.78,72.74 L461.09,72.86 L462.41,73.13 L463.72,73.12 L465.04,73 L466.35,73.48 L467.67,73.36 L468.98,73.66 L470.3,73.77 L471.62,73.61 L472.93,73.88 L474.25,74.06 L475.56,74.11 L476.88,73.98 L478.19,74.1 L479.5,74.45 L480.82,74.44 L482.13,74.21 L483.45,74.63 L484.76,74.57 L486.08,74.73 L487.39,74.66 L488.71,74.83 L490.02,74.84 L491.34,75.05 L492.65,75.3 L493.97,75.39 L495.28,75.53 L496.6,75.29 L497.91,75.7 L499.23,75.83 L500.54,75.51 L501.86,75.94 L503.17,75.72 L504.49,76.18 L505.8,76.1 L507.12,76.3 L508.43,76.12 L509.75,76.31 L511.06,76.39 L512.38,76.43 L513.69,76.48 L515.01,76.8 L516.32,76.78 L517.64,76.95 L518.95,77.19 L520.27,76.96 L521.59,77.16 L522.9,77.15" fill="none" stroke="#222" stroke-width="2.0" stroke-linejoin="round" stroke-linecap="round" />
<rect x="392.3" y="5.4" width="130.6" height="100.6" fill="none" stroke="#555" stroke-width="0.9"/>
<line x1="522.9" y1="5.4" x2="522.9" y2="106.0" stroke="#ff4a4a" stroke-width="0.9"/>
<line x1="417.7" y1="106" x2="417.7" y2="104.2" stroke="#555" stroke-width="0.8"/>
<text x="417.7" y="113.9" font-size="6.3" text-anchor="middle" font-weight="bold" fill="#222" stroke="#222" stroke-width="0.1" >20</text>
<line x1="444" y1="106" x2="444" y2="104.2" stroke="#555" stroke-width="0.8"/>
<text x="444" y="113.9" font-size="6.3" text-anchor="middle" font-weight="bold" fill="#222" stroke="#222" stroke-width="0.1" >40</text>
<line x1="470.3" y1="106" x2="470.3" y2="104.2" stroke="#555" stroke-width="0.8"/>
<text x="470.3" y="113.9" font-size="6.3" text-anchor="middle" font-weight="bold" fill="#222" stroke="#222" stroke-width="0.1" >60</text>
<line x1="496.6" y1="106" x2="496.6" y2="104.2" stroke="#555" stroke-width="0.8"/>
<text x="496.6" y="113.9" font-size="6.3" text-anchor="middle" font-weight="bold" fill="#222" stroke="#222" stroke-width="0.1" >80</text>
<line x1="522.9" y1="106" x2="522.9" y2="104.2" stroke="#555" stroke-width="0.8"/>
<text x="522.9" y="113.9" font-size="6.3" text-anchor="middle" font-weight="bold" fill="#222" stroke="#222" stroke-width="0.1" >100</text>
<line x1="404.55" y1="106" x2="404.55" y2="104.9" stroke="#555" stroke-width="0.6"/>
<line x1="430.85" y1="106" x2="430.85" y2="104.9" stroke="#555" stroke-width="0.6"/>
<line x1="457.15" y1="106" x2="457.15" y2="104.9" stroke="#555" stroke-width="0.6"/>
<line x1="483.45" y1="106" x2="483.45" y2="104.9" stroke="#555" stroke-width="0.6"/>
<line x1="509.75" y1="106" x2="509.75" y2="104.9" stroke="#555" stroke-width="0.6"/>
<line x1="392.3" y1="106.1" x2="394.1" y2="106.1" stroke="#555" stroke-width="0.8"/>
<text x="389.5" y="108.37" font-size="6.3" text-anchor="end" font-weight="bold" fill="#222" stroke="#222" stroke-width="0.1" >0</text>
<line x1="392.3" y1="83.72" x2="394.1" y2="83.72" stroke="#555" stroke-width="0.8"/>
<text x="389.5" y="85.99" font-size="6.3" text-anchor="end" font-weight="bold" fill="#222" stroke="#222" stroke-width="0.1" >400</text>
<line x1="392.3" y1="61.35" x2="394.1" y2="61.35" stroke="#555" stroke-width="0.8"/>
<text x="389.5" y="63.62" font-size="6.3" text-anchor="end" font-weight="bold" fill="#222" stroke="#222" stroke-width="0.1" >800</text>
<line x1="392.3" y1="38.97" x2="394.1" y2="38.97" stroke="#555" stroke-width="0.8"/>
<text x="389.5" y="41.24" font-size="6.3" text-anchor="end" font-weight="bold" fill="#222" stroke="#222" stroke-width="0.1" >1200</text>
<line x1="392.3" y1="16.6" x2="394.1" y2="16.6" stroke="#555" stroke-width="0.8"/>
<text x="389.5" y="18.87" font-size="6.3" text-anchor="end" font-weight="bold" fill="#222" stroke="#222" stroke-width="0.1" >1600</text>
<line x1="392.3" y1="94.91" x2="393.4" y2="94.91" stroke="#555" stroke-width="0.6"/>
<line x1="392.3" y1="72.54" x2="393.4" y2="72.54" stroke="#555" stroke-width="0.6"/>
<line x1="392.3" y1="50.16" x2="393.4" y2="50.16" stroke="#555" stroke-width="0.6"/>
<line x1="392.3" y1="27.79" x2="393.4" y2="27.79" stroke="#555" stroke-width="0.6"/>
<line x1="522.9" y1="105.6" x2="521.1" y2="105.6" stroke="#ff3030" stroke-width="0.8"/>
<text x="525" y="107.87" font-size="6.3" text-anchor="start" font-weight="bold" fill="#ff2a2a" stroke="#ff2a2a" stroke-width="0.1" >0</text>
<line x1="522.9" y1="86.52" x2="521.1" y2="86.52" stroke="#ff3030" stroke-width="0.8"/>
<text x="525" y="88.79" font-size="6.3" text-anchor="start" font-weight="bold" fill="#ff2a2a" stroke="#ff2a2a" stroke-width="0.1" >20</text>
<line x1="522.9" y1="67.44" x2="521.1" y2="67.44" stroke="#ff3030" stroke-width="0.8"/>
<text x="525" y="69.71" font-size="6.3" text-anchor="start" font-weight="bold" fill="#ff2a2a" stroke="#ff2a2a" stroke-width="0.1" >40</text>
<line x1="522.9" y1="48.36" x2="521.1" y2="48.36" stroke="#ff3030" stroke-width="0.8"/>
<text x="525" y="50.63" font-size="6.3" text-anchor="start" font-weight="bold" fill="#ff2a2a" stroke="#ff2a2a" stroke-width="0.1" >60</text>
<line x1="522.9" y1="29.28" x2="521.1" y2="29.28" stroke="#ff3030" stroke-width="0.8"/>
<text x="525" y="31.55" font-size="6.3" text-anchor="start" font-weight="bold" fill="#ff2a2a" stroke="#ff2a2a" stroke-width="0.1" >80</text>
<line x1="522.9" y1="10.2" x2="521.1" y2="10.2" stroke="#ff3030" stroke-width="0.8"/>
<text x="525" y="12.47" font-size="6.3" text-anchor="start" font-weight="bold" fill="#ff2a2a" stroke="#ff2a2a" stroke-width="0.1" >100</text>
<line x1="522.9" y1="96.06" x2="521.8" y2="96.06" stroke="#ff3030" stroke-width="0.6"/>
<line x1="522.9" y1="76.98" x2="521.8" y2="76.98" stroke="#ff3030" stroke-width="0.6"/>
<line x1="522.9" y1="57.9" x2="521.8" y2="57.9" stroke="#ff3030" stroke-width="0.6"/>
<line x1="522.9" y1="38.82" x2="521.8" y2="38.82" stroke="#ff3030" stroke-width="0.6"/>
<line x1="522.9" y1="19.74" x2="521.8" y2="19.74" stroke="#ff3030" stroke-width="0.6"/>
<text transform="translate(370.8,54.8) rotate(-90)" font-size="8.6" text-anchor="middle" font-weight="bold" fill="#222" stroke="#222" stroke-width="0.12">Specific capacity (mAh/g)</text>
<text transform="translate(546.3,54.5) rotate(-90)" font-size="8.75" text-anchor="middle" font-weight="bold" fill="#ff2a2a" stroke="#ff2a2a" stroke-width="0.12">Coulombic efficiency (%)</text>
<text x="457.5" y="127.2" font-size="8.8" text-anchor="middle" font-weight="bold" fill="#222" stroke="#222" stroke-width="0.1" >Cycle number</text>
<text x="462" y="37.3" font-size="6.8" text-anchor="middle" font-weight="bold" fill="#222" stroke="#222" stroke-width="0.1" >Current density 0.2 C</text>
<path d="M508,29 Q511,33.5 519,33.3" fill="none" stroke="#333" stroke-width="0.6"/><path d="M520.5,33.3 L517.5,31.8 L517.8,34.6 Z" fill="#333"/>
<path d="M407,66 Q404,71.5 396.5,71" fill="none" stroke="#333" stroke-width="0.6"/><path d="M395,71 L398,69.6 L398,72.3 Z" fill="#333"/>
<path d="M395.2,81.1 L410.9,81.1" fill="none" stroke="#cfcfcf" stroke-width="2.0" stroke-linejoin="round" stroke-linecap="round" />
<path d="M395.2,81.1 L410.9,81.1" fill="none" stroke="#222" stroke-width="0.5" stroke-linejoin="round" stroke-linecap="round" />
<circle cx="403" cy="81.1" r="1.0" fill="#222"/>
<text x="413" y="83.4" font-size="6.3" text-anchor="start" font-weight="bold" fill="#222" stroke="#222" stroke-width="0.1" >PP</text>
<path d="M395.2,89.3 L410.9,89.3" fill="none" stroke="#f6c3c6" stroke-width="2.0" stroke-linejoin="round" stroke-linecap="round" />
<path d="M395.2,89.3 L410.9,89.3" fill="none" stroke="#f04a4f" stroke-width="0.5" stroke-linejoin="round" stroke-linecap="round" />
<circle cx="403" cy="89.3" r="1.0" fill="#f04a4f"/>
<text x="413" y="91.6" font-size="6.3" text-anchor="start" font-weight="bold" fill="#222" stroke="#222" stroke-width="0.1" >Ce-MOF</text>
<path d="M395.2,97.5 L410.9,97.5" fill="none" stroke="#c7d7e6" stroke-width="2.0" stroke-linejoin="round" stroke-linecap="round" />
<path d="M395.2,97.5 L410.9,97.5" fill="none" stroke="#1f5289" stroke-width="0.5" stroke-linejoin="round" stroke-linecap="round" />
<circle cx="403" cy="97.5" r="1.0" fill="#1f5289"/>
<text x="413" y="99.8" font-size="6.3" text-anchor="start" font-weight="bold" fill="#222" stroke="#222" stroke-width="0.1" >CeO<tspan font-size="70%" dy="1.5">2</tspan></text>
<text x="2.6" y="149.8" font-size="13.5" text-anchor="start" font-weight="normal" fill="#222" stroke="#222" stroke-width="0.12">(d)</text>
<line x1="40.6" y1="213.14" x2="75.45" y2="213.14" stroke="#333" stroke-width="0.85" stroke-dasharray="2.2,1.5"/>
<line x1="75.45" y1="201.21" x2="151.26" y2="201.21" stroke="#333" stroke-width="0.85" stroke-dasharray="2.2,1.5"/>
<line x1="75.45" y1="197.5" x2="75.45" y2="217" stroke="#9ab" stroke-width="0.7" stroke-dasharray="0.8,1.2"/>
<line x1="151.26" y1="196" x2="151.26" y2="234" stroke="#9ab" stroke-width="0.7" stroke-dasharray="0.8,1.2"/>
<text x="56.64" y="221.5" font-size="8.8" text-anchor="middle" font-weight="normal" fill="#333" font-family="Liberation Serif, serif" stroke="#333" stroke-width="0.2">I</text>
<text x="111.3" y="199.6" font-size="8.8" text-anchor="middle" font-weight="normal" fill="#333" font-family="Liberation Serif, serif" stroke="#333" stroke-width="0.2">II</text>
<path d="M40.6,181.87 L40.82,182.03 L41.04,182.18 L41.26,182.34 L41.48,182.5 L41.7,182.65 L41.92,182.8 L42.14,182.96 L42.36,183.11 L42.59,183.26 L42.81,183.4 L43.04,183.55 L43.26,183.69 L43.49,183.84 L43.72,183.98 L43.95,184.12 L44.18,184.25 L44.41,184.39 L44.64,184.52 L44.87,184.65 L45.1,184.78 L45.33,184.91 L45.57,185.03 L45.81,185.15 L46.05,185.27 L46.29,185.38 L46.53,185.49 L46.78,185.6 L47.03,185.7 L47.28,185.81 L47.54,185.91 L47.79,186.01 L48.05,186.1 L48.3,186.2 L48.56,186.29 L48.82,186.38 L49.08,186.48 L49.34,186.57 L49.6,186.66 L49.85,186.75 L50.11,186.84 L50.37,186.94 L50.63,187.03 L50.88,187.13 L51.13,187.22 L51.39,187.32 L51.64,187.42 L51.88,187.52 L52.13,187.62 L52.37,187.73 L52.61,187.84 L52.85,187.95 L53.09,188.06 L53.32,188.18 L53.54,188.31 L53.77,188.43 L53.99,188.56 L54.2,188.7 L54.41,188.84 L54.63,188.98 L54.84,189.14 L55.04,189.3 L55.25,189.47 L55.46,189.65 L55.66,189.83 L55.86,190.01 L56.06,190.2 L56.26,190.39 L56.45,190.59 L56.64,190.79 L56.83,191 L57.01,191.2 L57.19,191.41 L57.36,191.62 L57.53,191.83 L57.69,192.04 L57.85,192.25 L58,192.46 L58.15,192.67 L58.3,192.89 L58.44,193.11 L58.57,193.33 L58.71,193.55 L58.84,193.78 L58.96,194.01 L59.09,194.25 L59.21,194.48 L59.33,194.72 L59.45,194.96 L59.57,195.2 L59.68,195.45 L59.8,195.69 L59.91,195.94 L60.02,196.18 L60.13,196.43 L60.24,196.68 L60.35,196.93 L60.46,197.18 L60.57,197.43 L60.68,197.68 L60.79,197.93 L60.9,198.18 L61.01,198.42 L61.13,198.67 L61.24,198.92 L61.36,199.16 L61.48,199.4 L61.6,199.64 L61.72,199.88 L61.84,200.12 L61.96,200.37 L62.08,200.63 L62.19,200.9 L62.31,201.17 L62.42,201.45 L62.53,201.73 L62.65,202.02 L62.76,202.31 L62.87,202.6 L62.98,202.89 L63.09,203.18 L63.2,203.47 L63.31,203.75 L63.43,204.03 L63.55,204.31 L63.67,204.57 L63.79,204.83 L63.91,205.08 L64.04,205.32 L64.17,205.55 L64.31,205.76 L64.45,205.97 L64.59,206.15 L64.74,206.32 L64.89,206.47 L65.05,206.61 L65.22,206.72 L65.39,206.82 L65.57,206.89 L65.77,206.95 L65.99,207.02 L66.22,207.08 L66.48,207.14 L66.74,207.2 L67.02,207.25 L67.3,207.3 L67.59,207.35 L67.88,207.38 L68.17,207.42 L68.46,207.44 L68.75,207.46 L69.03,207.47 L69.3,207.48 L69.56,207.47 L69.83,207.46 L70.09,207.44 L70.36,207.41 L70.62,207.38 L70.89,207.34 L71.15,207.3 L71.42,207.26 L71.68,207.21 L71.95,207.16 L72.21,207.11 L72.48,207.06 L72.74,207.01 L73.01,206.95 L73.27,206.9 L73.54,206.85 L73.8,206.81 L74.07,206.76 L74.34,206.72 L74.6,206.69 L74.87,206.66 L75.13,206.64 L75.4,206.62 L75.67,206.61 L75.93,206.61 L76.2,206.61 L76.47,206.61 L76.73,206.61 L77,206.61 L77.27,206.61 L77.53,206.61 L77.8,206.61 L78.07,206.61 L78.33,206.61 L78.6,206.61 L78.87,206.61 L79.14,206.61 L79.4,206.61 L79.67,206.61 L79.94,206.61 L80.21,206.61 L80.47,206.61 L80.74,206.61 L81.01,206.61 L81.28,206.61 L81.54,206.61 L81.81,206.61 L82.08,206.61 L82.35,206.61 L82.62,206.61 L82.88,206.61 L83.15,206.61 L83.42,206.61 L83.69,206.61 L83.96,206.61 L84.22,206.61 L84.49,206.61 L84.76,206.61 L85.03,206.61 L85.3,206.61 L85.56,206.61 L85.83,206.61 L86.1,206.61 L86.37,206.61 L86.64,206.61 L86.91,206.61 L87.17,206.61 L87.44,206.61 L87.71,206.61 L87.98,206.61 L88.25,206.61 L88.51,206.61 L88.78,206.61 L89.05,206.61 L89.32,206.61 L89.59,206.61 L89.86,206.61 L90.12,206.61 L90.39,206.61 L90.66,206.61 L90.93,206.61 L91.2,206.61 L91.46,206.61 L91.73,206.61 L92,206.61 L92.27,206.61 L92.54,206.61 L92.8,206.61 L93.07,206.61 L93.34,206.61 L93.61,206.61 L93.87,206.61 L94.14,206.61 L94.41,206.61 L94.68,206.61 L94.95,206.61 L95.22,206.61 L95.49,206.61 L95.76,206.62 L96.03,206.62 L96.3,206.62 L96.58,206.63 L96.85,206.63 L97.12,206.64 L97.39,206.65 L97.67,206.65 L97.94,206.66 L98.21,206.67 L98.48,206.68 L98.76,206.69 L99.03,206.7 L99.3,206.71 L99.57,206.72 L99.84,206.73 L100.11,206.74 L100.38,206.75 L100.65,206.77 L100.92,206.78 L101.19,206.8 L101.46,206.81 L101.72,206.82 L101.99,206.84 L102.25,206.86 L102.52,206.87 L102.78,206.89 L103.04,206.91 L103.3,206.93 L103.56,206.95 L103.82,206.97 L104.08,206.99 L104.33,207.01 L104.59,207.03 L104.84,207.05 L105.09,207.08 L105.35,207.13 L105.61,207.19 L105.87,207.26 L106.13,207.34 L106.4,207.43 L106.66,207.53 L106.92,207.64 L107.18,207.75 L107.44,207.88 L107.69,208.01 L107.94,208.15 L108.19,208.29 L108.43,208.43 L108.67,208.58 L108.9,208.74 L109.12,208.89 L109.34,209.05 L109.55,209.2 L109.75,209.36 L109.94,209.52 L110.12,209.67 L110.3,209.84 L110.47,210.01 L110.65,210.19 L110.82,210.38 L110.99,210.58 L111.16,210.79 L111.32,211.01 L111.48,211.23 L111.64,211.46 L111.8,211.7 L111.95,211.94 L112.09,212.18 L112.24,212.43 L112.37,212.68 L112.5,212.93 L112.63,213.18 L112.75,213.43 L112.86,213.69 L112.97,213.94 L113.07,214.19 L113.16,214.44 L113.24,214.69 L113.32,214.94 L113.39,215.18 L113.46,215.43 L113.53,215.68 L113.59,215.93 L113.66,216.18 L113.72,216.44 L113.77,216.7 L113.83,216.95 L113.88,217.21 L113.94,217.48 L113.99,217.74 L114.04,218 L114.08,218.27 L114.13,218.53 L114.18,218.8 L114.22,219.07 L114.26,219.34 L114.31,219.6 L114.35,219.87 L114.39,220.14 L114.43,220.41 L114.47,220.68 L114.51,220.95 L114.55,221.22 L114.59,221.49 L114.63,221.76 L114.67,222.03 L114.71,222.3 L114.75,222.57 L114.79,222.83 L114.83,223.1 L114.87,223.37 L114.91,223.63 L114.96,223.9 L115,224.16 L115.04,224.42 L115.08,224.69 L115.13,224.95 L115.17,225.22 L115.21,225.48 L115.25,225.75 L115.29,226.01 L115.33,226.27 L115.37,226.54 L115.41,226.8 L115.45,227.07 L115.49,227.33 L115.53,227.6 L115.57,227.86 L115.61,228.13 L115.65,228.39 L115.69,228.66 L115.73,228.92 L115.76,229.19 L115.8,229.45 L115.84,229.72 L115.88,229.98 L115.91,230.25 L115.95,230.51 L115.99,230.78 L116.02,231.05 L116.06,231.31 L116.09,231.58 L116.13,231.84 L116.16,232.11 L116.2,232.37 L116.23,232.64 L116.26,232.91 L116.3,233.17" fill="none" stroke="#3a3a3a" stroke-width="0.95" stroke-linejoin="round" stroke-linecap="round" />
<path d="M40.6,196.94 L40.88,196.95 L41.17,196.96 L41.45,196.97 L41.73,196.98 L42.01,196.98 L42.3,196.99 L42.58,197 L42.86,197 L43.14,197.01 L43.43,197.01 L43.71,197.01 L43.99,197.02 L44.27,197.02 L44.55,197.02 L44.83,197.02 L45.11,197.02 L45.39,197.02 L45.68,197.02 L45.96,197.02 L46.24,197.02 L46.52,197.02 L46.8,197.02 L47.07,197.02 L47.35,197.02 L47.63,197.01 L47.91,197 L48.19,196.98 L48.47,196.95 L48.75,196.93 L49.03,196.9 L49.3,196.86 L49.58,196.82 L49.86,196.78 L50.14,196.73 L50.41,196.68 L50.69,196.63 L50.97,196.58 L51.25,196.52 L51.52,196.46 L51.8,196.4 L52.08,196.34 L52.35,196.27 L52.63,196.21 L52.91,196.14 L53.18,196.08 L53.46,196.01 L53.73,195.94 L54.01,195.88 L54.29,195.81 L54.56,195.74 L54.84,195.68 L55.11,195.61 L55.39,195.55 L55.67,195.49 L55.94,195.43 L56.22,195.37 L56.49,195.31 L56.77,195.26 L57.05,195.2 L57.32,195.15 L57.6,195.09 L57.87,195.03 L58.15,194.98 L58.43,194.92 L58.7,194.86 L58.98,194.81 L59.25,194.75 L59.53,194.69 L59.8,194.64 L60.08,194.58 L60.36,194.52 L60.63,194.46 L60.91,194.4 L61.18,194.34 L61.46,194.28 L61.73,194.22 L62.01,194.16 L62.28,194.1 L62.56,194.04 L62.83,193.98 L63.11,193.92 L63.38,193.86 L63.66,193.8 L63.93,193.74 L64.21,193.67 L64.48,193.61 L64.76,193.55 L65.03,193.49 L65.31,193.42 L65.58,193.36 L65.85,193.3 L66.13,193.23 L66.4,193.17 L66.68,193.11 L66.95,193.04 L67.23,192.98 L67.5,192.91 L67.77,192.85 L68.05,192.78 L68.32,192.72 L68.6,192.65 L68.87,192.59 L69.14,192.52 L69.42,192.46 L69.69,192.39 L69.96,192.32 L70.24,192.26 L70.51,192.19 L70.79,192.13 L71.06,192.06 L71.33,191.99 L71.61,191.93 L71.88,191.86 L72.16,191.79 L72.43,191.73 L72.7,191.66 L72.98,191.59 L73.25,191.53 L73.52,191.46 L73.8,191.39 L74.07,191.32 L74.35,191.25 L74.62,191.19 L74.89,191.12 L75.17,191.05 L75.44,190.98 L75.71,190.91 L75.99,190.84 L76.26,190.77 L76.53,190.7 L76.81,190.63 L77.08,190.55 L77.35,190.48 L77.62,190.41 L77.9,190.34 L78.17,190.26 L78.44,190.19 L78.71,190.12 L78.98,190.04 L79.26,189.97 L79.53,189.89 L79.8,189.82 L80.07,189.74 L80.34,189.66 L80.61,189.58 L80.88,189.51 L81.15,189.43 L81.42,189.35 L81.69,189.27 L81.96,189.19 L82.22,189.1 L82.49,189.02 L82.76,188.94 L83.03,188.86 L83.3,188.77 L83.56,188.69 L83.83,188.6 L84.09,188.51 L84.36,188.41 L84.62,188.32 L84.89,188.22 L85.15,188.12 L85.41,188.01 L85.68,187.91 L85.94,187.8 L86.2,187.69 L86.46,187.58 L86.72,187.47 L86.98,187.35 L87.24,187.24 L87.5,187.12 L87.76,187 L88.02,186.89 L88.28,186.77 L88.54,186.65 L88.8,186.53 L89.06,186.41 L89.32,186.29 L89.58,186.17 L89.83,186.04 L90.09,185.92 L90.35,185.8 L90.61,185.68 L90.87,185.56 L91.13,185.45 L91.39,185.33 L91.64,185.21 L91.9,185.09 L92.16,184.98 L92.42,184.87 L92.68,184.75 L92.94,184.64 L93.2,184.53 L93.46,184.43 L93.72,184.32 L93.99,184.22 L94.25,184.12 L94.51,184.02 L94.77,183.92 L95.04,183.83 L95.3,183.74 L95.57,183.65 L95.83,183.57 L96.1,183.48 L96.36,183.41 L96.63,183.33 L96.9,183.26 L97.16,183.19 L97.43,183.13 L97.7,183.07 L97.97,183.01 L98.24,182.96 L98.52,182.91 L98.79,182.86 L99.06,182.81 L99.34,182.77 L99.62,182.72 L99.89,182.68 L100.17,182.64 L100.45,182.6 L100.73,182.56 L101.01,182.52 L101.28,182.49 L101.56,182.45 L101.85,182.42 L102.13,182.38 L102.41,182.35 L102.69,182.32 L102.97,182.28 L103.25,182.25 L103.53,182.22 L103.81,182.19 L104.1,182.15 L104.38,182.12 L104.66,182.08 L104.94,182.05 L105.22,182.01 L105.5,181.98 L105.78,181.94 L106.06,181.9 L106.34,181.86 L106.62,181.82 L106.9,181.78 L107.18,181.74 L107.46,181.7 L107.75,181.66 L108.03,181.62 L108.32,181.58 L108.61,181.55 L108.9,181.51 L109.2,181.47 L109.49,181.44 L109.78,181.4 L110.07,181.36 L110.36,181.33 L110.65,181.29 L110.94,181.25 L111.23,181.2 L111.51,181.16 L111.79,181.11 L112.07,181.06 L112.35,181.01 L112.62,180.96 L112.89,180.9 L113.15,180.84 L113.41,180.77 L113.66,180.7 L113.91,180.63 L114.15,180.55 L114.38,180.47 L114.63,180.37 L114.88,180.24 L115.14,180.09 L115.4,179.91 L115.65,179.72 L115.89,179.51 L116.12,179.29 L116.31,179.06 L116.48,178.83 L116.61,178.6 L116.71,178.37 L116.76,178.15 L116.81,177.91 L116.85,177.67 L116.89,177.42 L116.93,177.17 L116.97,176.91 L117.01,176.64 L117.04,176.36 L117.07,176.08 L117.1,175.8 L117.13,175.51 L117.16,175.22 L117.18,174.92 L117.21,174.63 L117.23,174.33 L117.25,174.03 L117.26,173.73 L117.28,173.43 L117.3,173.13 L117.31,172.83 L117.32,172.54 L117.33,172.24 L117.35,171.95 L117.36,171.67 L117.36,171.38 L117.37,171.1 L117.38,170.82 L117.39,170.54 L117.4,170.26 L117.4,169.98 L117.41,169.7 L117.42,169.41 L117.42,169.13 L117.43,168.85 L117.43,168.57 L117.44,168.29 L117.45,168.01 L117.45,167.73 L117.46,167.44 L117.46,167.16 L117.47,166.88 L117.47,166.6 L117.47,166.32 L117.48,166.04 L117.48,165.76 L117.49,165.47 L117.49,165.19 L117.49,164.91 L117.5,164.63 L117.5,164.35 L117.5,164.07 L117.51,163.78 L117.51,163.5 L117.51,163.22 L117.52,162.94 L117.52,162.66 L117.52,162.37 L117.53,162.09 L117.53,161.81 L117.53,161.53 L117.54,161.25 L117.54,160.97 L117.55,160.68 L117.55,160.4 L117.55,160.12 L117.56,159.84 L117.56,159.56 L117.56,159.28 L117.57,158.99 L117.57,158.71 L117.58,158.43 L117.58,158.15 L117.59,157.87 L117.59,157.59 L117.6,157.31 L117.6,157.02 L117.6,156.74 L117.61,156.46 L117.61,156.18 L117.62,155.9 L117.62,155.62 L117.63,155.33 L117.63,155.05 L117.64,154.77 L117.64,154.49 L117.65,154.21 L117.65,153.93 L117.66,153.65 L117.66,153.36 L117.66,153.08 L117.67,152.8 L117.67,152.52 L117.68,152.24 L117.68,151.96 L117.69,151.68 L117.69,151.39 L117.7,151.11 L117.7,150.83 L117.71,150.55 L117.71,150.27 L117.72,149.99 L117.72,149.7 L117.72,149.42 L117.73,149.14 L117.73,148.86 L117.74,148.58 L117.74,148.3 L117.75,148.02 L117.75,147.73 L117.76,147.45 L117.76,147.17 L117.77,146.89 L117.77,146.61 L117.78,146.33 L117.78,146.04 L117.78,145.76 L117.79,145.48 L117.79,145.2" fill="none" stroke="#3a3a3a" stroke-width="0.95" stroke-linejoin="round" stroke-linecap="round" />
<path d="M40.6,181.26 L40.87,181.4 L41.15,181.54 L41.42,181.69 L41.7,181.83 L41.98,181.96 L42.25,182.1 L42.53,182.24 L42.81,182.37 L43.09,182.51 L43.37,182.64 L43.65,182.77 L43.92,182.9 L44.2,183.03 L44.49,183.16 L44.77,183.29 L45.05,183.41 L45.33,183.54 L45.61,183.66 L45.89,183.78 L46.18,183.9 L46.46,184.02 L46.74,184.14 L47.03,184.26 L47.31,184.38 L47.6,184.49 L47.88,184.61 L48.17,184.72 L48.45,184.83 L48.74,184.94 L49.03,185.05 L49.31,185.16 L49.6,185.27 L49.89,185.38 L50.17,185.48 L50.46,185.59 L50.75,185.69 L51.05,185.78 L51.35,185.88 L51.66,185.96 L51.97,186.05 L52.28,186.13 L52.6,186.21 L52.91,186.29 L53.23,186.36 L53.54,186.44 L53.86,186.52 L54.17,186.6 L54.47,186.68 L54.77,186.76 L55.07,186.85 L55.35,186.94 L55.63,187.04 L55.91,187.14 L56.17,187.25 L56.42,187.36 L56.66,187.48 L56.89,187.61 L57.11,187.76 L57.33,187.91 L57.54,188.08 L57.75,188.26 L57.95,188.45 L58.15,188.65 L58.35,188.86 L58.54,189.08 L58.73,189.31 L58.92,189.55 L59.1,189.79 L59.29,190.04 L59.46,190.3 L59.64,190.56 L59.82,190.83 L59.99,191.1 L60.16,191.38 L60.33,191.66 L60.5,191.94 L60.66,192.23 L60.83,192.52 L60.99,192.81 L61.16,193.1 L61.32,193.39 L61.49,193.67 L61.65,193.96 L61.82,194.25 L61.98,194.53 L62.15,194.81 L62.31,195.09 L62.48,195.36 L62.65,195.63 L62.82,195.9 L62.99,196.16 L63.17,196.41 L63.34,196.67 L63.51,196.92 L63.68,197.18 L63.84,197.44 L64.01,197.71 L64.17,197.97 L64.33,198.23 L64.49,198.5 L64.65,198.76 L64.82,199.03 L64.98,199.3 L65.14,199.56 L65.3,199.83 L65.46,200.09 L65.62,200.36 L65.78,200.62 L65.95,200.88 L66.11,201.14 L66.28,201.4 L66.45,201.66 L66.62,201.91 L66.79,202.17 L66.96,202.42 L67.14,202.66 L67.32,202.91 L67.51,203.15 L67.69,203.39 L67.88,203.63 L68.08,203.86 L68.27,204.12 L68.47,204.39 L68.67,204.67 L68.88,204.95 L69.09,205.24 L69.3,205.52 L69.52,205.79 L69.74,206.04 L69.96,206.27 L70.19,206.47 L70.43,206.63 L70.67,206.76 L70.92,206.84 L71.17,206.87 L71.43,206.86 L71.71,206.84 L71.99,206.8 L72.29,206.75 L72.59,206.7 L72.9,206.64 L73.21,206.57 L73.53,206.51 L73.85,206.45 L74.17,206.39 L74.49,206.34 L74.81,206.3 L75.12,206.27 L75.43,206.26 L75.74,206.25 L76.04,206.25 L76.35,206.25 L76.66,206.24 L76.96,206.24 L77.27,206.24 L77.58,206.24 L77.88,206.23 L78.19,206.23 L78.5,206.23 L78.8,206.22 L79.11,206.22 L79.42,206.22 L79.72,206.22 L80.03,206.21 L80.34,206.21 L80.65,206.21 L80.95,206.21 L81.26,206.21 L81.57,206.2 L81.88,206.2 L82.18,206.2 L82.49,206.2 L82.8,206.2 L83.11,206.2 L83.42,206.19 L83.72,206.19 L84.03,206.19 L84.34,206.19 L84.65,206.19 L84.96,206.19 L85.26,206.19 L85.57,206.18 L85.88,206.18 L86.19,206.18 L86.5,206.18 L86.81,206.18 L87.11,206.18 L87.42,206.18 L87.73,206.18 L88.04,206.18 L88.35,206.18 L88.66,206.18 L88.96,206.17 L89.27,206.17 L89.58,206.17 L89.89,206.17 L90.2,206.17 L90.5,206.17 L90.81,206.17 L91.12,206.17 L91.43,206.17 L91.74,206.17 L92.05,206.17 L92.35,206.17 L92.66,206.17 L92.97,206.17 L93.28,206.17 L93.58,206.17 L93.89,206.17 L94.2,206.17 L94.51,206.17 L94.81,206.17 L95.12,206.17 L95.43,206.17 L95.74,206.18 L96.05,206.18 L96.35,206.18 L96.66,206.19 L96.97,206.19 L97.28,206.19 L97.59,206.2 L97.9,206.2 L98.2,206.21 L98.51,206.21 L98.82,206.22 L99.13,206.23 L99.44,206.23 L99.75,206.24 L100.05,206.25 L100.36,206.26 L100.67,206.26 L100.98,206.27 L101.29,206.28 L101.6,206.29 L101.91,206.3 L102.21,206.31 L102.52,206.32 L102.83,206.33 L103.14,206.35 L103.45,206.36 L103.76,206.37 L104.06,206.38 L104.37,206.39 L104.68,206.41 L104.99,206.42 L105.3,206.43 L105.61,206.45 L105.91,206.46 L106.22,206.48 L106.53,206.49 L106.84,206.51 L107.14,206.52 L107.45,206.54 L107.76,206.55 L108.07,206.57 L108.38,206.59 L108.68,206.6 L108.99,206.62 L109.3,206.64 L109.6,206.65 L109.91,206.67 L110.22,206.69 L110.52,206.71 L110.83,206.73 L111.14,206.75 L111.44,206.77 L111.75,206.79 L112.06,206.81 L112.36,206.83 L112.67,206.85 L112.97,206.87 L113.28,206.89 L113.58,206.91 L113.89,206.93 L114.19,206.95 L114.5,206.97 L114.8,206.99 L115.11,207.02 L115.41,207.04 L115.72,207.06 L116.03,207.09 L116.34,207.11 L116.65,207.14 L116.97,207.18 L117.29,207.21 L117.62,207.25 L117.94,207.28 L118.26,207.32 L118.59,207.37 L118.92,207.41 L119.24,207.46 L119.57,207.51 L119.9,207.56 L120.22,207.61 L120.55,207.67 L120.87,207.72 L121.19,207.78 L121.51,207.85 L121.82,207.91 L122.13,207.98 L122.44,208.05 L122.75,208.12 L123.05,208.19 L123.35,208.27 L123.64,208.35 L123.93,208.43 L124.21,208.51 L124.49,208.6 L124.76,208.69 L125.02,208.78 L125.28,208.87 L125.53,208.96 L125.77,209.06 L126,209.16 L126.23,209.27 L126.46,209.39 L126.68,209.53 L126.9,209.7 L127.12,209.88 L127.33,210.08 L127.54,210.29 L127.75,210.52 L127.96,210.76 L128.16,211.02 L128.36,211.28 L128.55,211.55 L128.74,211.83 L128.92,212.11 L129.1,212.4 L129.28,212.69 L129.45,212.99 L129.61,213.28 L129.77,213.58 L129.92,213.87 L130.06,214.15 L130.2,214.44 L130.33,214.71 L130.46,214.98 L130.58,215.25 L130.69,215.52 L130.81,215.8 L130.92,216.08 L131.03,216.36 L131.13,216.64 L131.24,216.93 L131.34,217.22 L131.44,217.51 L131.53,217.8 L131.63,218.1 L131.72,218.39 L131.81,218.69 L131.9,218.99 L131.98,219.29 L132.07,219.59 L132.15,219.89 L132.23,220.2 L132.31,220.5 L132.39,220.8 L132.47,221.11 L132.55,221.41 L132.62,221.71 L132.7,222.02 L132.77,222.32 L132.85,222.62 L132.92,222.92 L132.99,223.22 L133.07,223.52 L133.14,223.82 L133.21,224.12 L133.28,224.41 L133.35,224.71 L133.42,225.01 L133.49,225.31 L133.56,225.61 L133.63,225.91 L133.7,226.21 L133.76,226.51 L133.83,226.81 L133.89,227.11 L133.96,227.41 L134.02,227.71 L134.08,228.01 L134.15,228.31 L134.21,228.62 L134.27,228.92 L134.33,229.22 L134.39,229.52 L134.44,229.83 L134.5,230.13 L134.56,230.43 L134.61,230.73 L134.66,231.04 L134.72,231.34 L134.77,231.65 L134.82,231.95 L134.87,232.26 L134.91,232.56 L134.96,232.87 L135.01,233.17" fill="none" stroke="#f04a4f" stroke-width="0.95" stroke-linejoin="round" stroke-linecap="round" />
<path d="M40.6,198.33 L40.94,198.31 L41.27,198.3 L41.61,198.28 L41.95,198.26 L42.29,198.24 L42.62,198.22 L42.96,198.2 L43.3,198.17 L43.63,198.15 L43.97,198.13 L44.3,198.1 L44.64,198.08 L44.98,198.05 L45.31,198.02 L45.65,198 L45.99,197.97 L46.32,197.94 L46.66,197.91 L46.99,197.88 L47.33,197.85 L47.66,197.82 L48,197.79 L48.33,197.76 L48.67,197.73 L49,197.69 L49.34,197.66 L49.67,197.63 L50.01,197.59 L50.34,197.56 L50.68,197.53 L51.01,197.49 L51.35,197.45 L51.68,197.42 L52.01,197.38 L52.35,197.34 L52.68,197.3 L53.02,197.25 L53.35,197.21 L53.68,197.16 L54.01,197.11 L54.35,197.07 L54.68,197.02 L55.01,196.96 L55.35,196.91 L55.68,196.86 L56.01,196.8 L56.34,196.75 L56.67,196.69 L57.01,196.63 L57.34,196.58 L57.67,196.52 L58,196.46 L58.33,196.4 L58.67,196.34 L59,196.27 L59.33,196.21 L59.66,196.15 L59.99,196.09 L60.32,196.03 L60.65,195.96 L60.99,195.9 L61.32,195.83 L61.65,195.77 L61.98,195.71 L62.31,195.64 L62.64,195.58 L62.98,195.52 L63.31,195.45 L63.64,195.39 L63.97,195.33 L64.3,195.26 L64.63,195.2 L64.96,195.14 L65.3,195.08 L65.63,195.02 L65.96,194.96 L66.29,194.9 L66.62,194.84 L66.96,194.78 L67.29,194.73 L67.62,194.67 L67.95,194.62 L68.29,194.56 L68.62,194.51 L68.95,194.46 L69.29,194.41 L69.62,194.36 L69.95,194.31 L70.28,194.26 L70.62,194.21 L70.95,194.16 L71.28,194.11 L71.62,194.07 L71.95,194.02 L72.29,193.97 L72.62,193.93 L72.95,193.88 L73.29,193.84 L73.62,193.79 L73.96,193.75 L74.29,193.7 L74.62,193.66 L74.96,193.61 L75.29,193.57 L75.63,193.53 L75.96,193.48 L76.3,193.44 L76.63,193.4 L76.96,193.36 L77.3,193.31 L77.63,193.27 L77.97,193.23 L78.3,193.19 L78.64,193.15 L78.97,193.11 L79.31,193.07 L79.64,193.02 L79.98,192.98 L80.31,192.94 L80.65,192.9 L80.98,192.86 L81.32,192.82 L81.65,192.78 L81.98,192.74 L82.32,192.7 L82.65,192.66 L82.99,192.62 L83.32,192.58 L83.66,192.54 L83.99,192.5 L84.33,192.45 L84.66,192.41 L85,192.37 L85.33,192.33 L85.67,192.29 L86,192.25 L86.34,192.21 L86.67,192.17 L87.01,192.13 L87.34,192.08 L87.67,192.04 L88.01,192 L88.34,191.96 L88.68,191.91 L89.01,191.87 L89.35,191.83 L89.68,191.78 L90.01,191.74 L90.35,191.7 L90.68,191.65 L91.02,191.61 L91.35,191.56 L91.68,191.52 L92.02,191.47 L92.35,191.43 L92.68,191.38 L93.02,191.33 L93.35,191.29 L93.68,191.24 L94.02,191.19 L94.35,191.14 L94.68,191.09 L95.02,191.05 L95.35,191 L95.68,190.95 L96.02,190.89 L96.35,190.84 L96.68,190.79 L97.01,190.74 L97.34,190.69 L97.68,190.63 L98.01,190.58 L98.34,190.53 L98.67,190.47 L99,190.41 L99.34,190.36 L99.67,190.3 L100,190.24 L100.33,190.19 L100.66,190.13 L100.99,190.07 L101.33,190.01 L101.66,189.95 L101.99,189.89 L102.32,189.83 L102.65,189.77 L102.98,189.7 L103.31,189.64 L103.64,189.58 L103.97,189.52 L104.31,189.45 L104.64,189.39 L104.97,189.32 L105.3,189.26 L105.63,189.19 L105.96,189.13 L106.29,189.06 L106.62,188.99 L106.95,188.93 L107.28,188.86 L107.61,188.79 L107.94,188.72 L108.27,188.66 L108.6,188.59 L108.93,188.52 L109.26,188.45 L109.59,188.38 L109.92,188.31 L110.25,188.24 L110.58,188.17 L110.91,188.1 L111.24,188.03 L111.57,187.96 L111.9,187.88 L112.23,187.81 L112.56,187.74 L112.89,187.67 L113.22,187.6 L113.55,187.52 L113.88,187.45 L114.21,187.38 L114.54,187.3 L114.87,187.23 L115.19,187.16 L115.52,187.08 L115.85,187.01 L116.18,186.94 L116.51,186.86 L116.84,186.79 L117.17,186.71 L117.5,186.64 L117.82,186.57 L118.15,186.49 L118.48,186.42 L118.81,186.34 L119.14,186.27 L119.47,186.19 L119.8,186.12 L120.13,186.05 L120.46,185.97 L120.79,185.9 L121.13,185.83 L121.47,185.76 L121.81,185.7 L122.15,185.63 L122.49,185.56 L122.83,185.5 L123.18,185.43 L123.52,185.36 L123.87,185.3 L124.21,185.23 L124.56,185.17 L124.9,185.1 L125.25,185.03 L125.59,184.96 L125.94,184.9 L126.28,184.83 L126.62,184.76 L126.96,184.69 L127.3,184.61 L127.64,184.54 L127.98,184.46 L128.31,184.39 L128.65,184.31 L128.98,184.23 L129.3,184.14 L129.63,184.06 L129.95,183.97 L130.27,183.88 L130.59,183.79 L130.9,183.69 L131.21,183.59 L131.52,183.49 L131.82,183.39 L132.12,183.28 L132.41,183.17 L132.7,183.06 L132.98,182.94 L133.26,182.82 L133.54,182.69 L133.81,182.56 L134.09,182.41 L134.37,182.24 L134.65,182.07 L134.93,181.87 L135.21,181.67 L135.49,181.45 L135.77,181.23 L136.05,180.99 L136.32,180.74 L136.58,180.49 L136.84,180.23 L137.09,179.97 L137.33,179.69 L137.56,179.42 L137.77,179.14 L137.98,178.86 L138.17,178.58 L138.34,178.3 L138.5,178.02 L138.64,177.75 L138.77,177.47 L138.88,177.19 L138.99,176.91 L139.1,176.62 L139.2,176.32 L139.3,176.02 L139.39,175.71 L139.48,175.4 L139.57,175.09 L139.66,174.77 L139.74,174.44 L139.82,174.11 L139.9,173.78 L139.97,173.45 L140.04,173.11 L140.11,172.77 L140.18,172.43 L140.25,172.09 L140.31,171.74 L140.38,171.4 L140.44,171.05 L140.5,170.7 L140.56,170.36 L140.61,170.01 L140.67,169.66 L140.73,169.32 L140.78,168.97 L140.84,168.63 L140.89,168.28 L140.95,167.94 L141,167.61 L141.05,167.27 L141.11,166.94 L141.16,166.61 L141.22,166.28 L141.27,165.94 L141.32,165.61 L141.38,165.28 L141.43,164.95 L141.48,164.62 L141.54,164.29 L141.59,163.95 L141.64,163.62 L141.69,163.29 L141.75,162.96 L141.8,162.62 L141.85,162.29 L141.9,161.96 L141.95,161.63 L142,161.29 L142.05,160.96 L142.1,160.63 L142.15,160.3 L142.2,159.96 L142.25,159.63 L142.29,159.3 L142.34,158.96 L142.39,158.63 L142.43,158.3 L142.48,157.96 L142.53,157.63 L142.57,157.29 L142.62,156.96 L142.66,156.63 L142.7,156.29 L142.75,155.96 L142.79,155.62 L142.83,155.29 L142.87,154.95 L142.91,154.62 L142.95,154.29 L142.99,153.95 L143.03,153.62 L143.07,153.28 L143.11,152.94 L143.15,152.61 L143.18,152.27 L143.22,151.94 L143.25,151.6 L143.29,151.27 L143.32,150.93 L143.35,150.59 L143.39,150.26 L143.42,149.92 L143.45,149.59 L143.48,149.25 L143.51,148.91 L143.54,148.58 L143.56,148.24 L143.59,147.9 L143.62,147.56 L143.64,147.23 L143.67,146.89 L143.69,146.55 L143.71,146.21 L143.73,145.88 L143.75,145.54 L143.77,145.2" fill="none" stroke="#f04a4f" stroke-width="0.95" stroke-linejoin="round" stroke-linecap="round" />
<path d="M40.6,180.04 L40.91,180.22 L41.21,180.39 L41.52,180.56 L41.83,180.73 L42.14,180.9 L42.45,181.06 L42.76,181.23 L43.08,181.39 L43.39,181.55 L43.7,181.71 L44.02,181.86 L44.33,182.01 L44.65,182.16 L44.97,182.31 L45.28,182.45 L45.6,182.59 L45.92,182.73 L46.24,182.87 L46.56,183 L46.88,183.13 L47.21,183.26 L47.53,183.39 L47.85,183.51 L48.17,183.63 L48.5,183.74 L48.83,183.86 L49.15,183.97 L49.48,184.07 L49.81,184.18 L50.13,184.28 L50.46,184.37 L50.79,184.46 L51.13,184.55 L51.46,184.63 L51.8,184.71 L52.15,184.78 L52.49,184.85 L52.84,184.91 L53.19,184.97 L53.53,185.03 L53.88,185.09 L54.24,185.15 L54.59,185.2 L54.94,185.26 L55.29,185.32 L55.63,185.38 L55.98,185.44 L56.33,185.5 L56.67,185.56 L57.01,185.63 L57.35,185.7 L57.68,185.78 L58.01,185.86 L58.34,185.95 L58.66,186.05 L58.98,186.15 L59.29,186.25 L59.6,186.38 L59.91,186.52 L60.22,186.68 L60.54,186.85 L60.84,187.03 L61.15,187.22 L61.44,187.43 L61.74,187.64 L62.02,187.86 L62.3,188.08 L62.56,188.3 L62.82,188.53 L63.06,188.75 L63.29,188.98 L63.51,189.22 L63.73,189.47 L63.94,189.73 L64.15,190 L64.35,190.27 L64.55,190.55 L64.74,190.84 L64.93,191.13 L65.12,191.42 L65.3,191.72 L65.48,192.03 L65.66,192.33 L65.84,192.64 L66.01,192.95 L66.19,193.27 L66.36,193.58 L66.54,193.89 L66.72,194.2 L66.9,194.51 L67.07,194.82 L67.26,195.12 L67.44,195.43 L67.63,195.72 L67.82,196.02 L68.01,196.3 L68.21,196.59 L68.4,196.89 L68.59,197.18 L68.78,197.48 L68.97,197.78 L69.16,198.08 L69.35,198.38 L69.54,198.68 L69.72,198.98 L69.91,199.28 L70.1,199.59 L70.29,199.89 L70.47,200.19 L70.66,200.49 L70.86,200.79 L71.05,201.09 L71.24,201.38 L71.44,201.67 L71.64,201.96 L71.84,202.24 L72.05,202.53 L72.25,202.8 L72.46,203.08 L72.68,203.34 L72.9,203.61 L73.12,203.86 L73.34,204.11 L73.57,204.36 L73.81,204.6 L74.05,204.83 L74.29,205.05 L74.55,205.29 L74.83,205.55 L75.11,205.8 L75.41,206.02 L75.72,206.18 L76.02,206.25 L76.33,206.26 L76.64,206.26 L76.96,206.25 L77.27,206.25 L77.59,206.25 L77.92,206.24 L78.24,206.24 L78.57,206.23 L78.9,206.22 L79.23,206.22 L79.57,206.21 L79.9,206.2 L80.24,206.19 L80.58,206.18 L80.92,206.17 L81.27,206.16 L81.61,206.15 L81.96,206.14 L82.31,206.13 L82.66,206.11 L83.01,206.1 L83.36,206.09 L83.72,206.08 L84.07,206.07 L84.43,206.05 L84.79,206.04 L85.14,206.03 L85.5,206.02 L85.86,206 L86.22,205.99 L86.58,205.98 L86.94,205.97 L87.3,205.95 L87.66,205.94 L88.02,205.93 L88.38,205.92 L88.74,205.91 L89.1,205.9 L89.46,205.89 L89.82,205.88 L90.18,205.87 L90.54,205.86 L90.9,205.86 L91.25,205.85 L91.61,205.84 L91.96,205.84 L92.32,205.83 L92.67,205.83 L93.02,205.83 L93.37,205.82 L93.72,205.82 L94.07,205.82 L94.42,205.82 L94.77,205.82 L95.11,205.82 L95.46,205.82 L95.81,205.82 L96.16,205.83 L96.5,205.83 L96.85,205.83 L97.2,205.83 L97.55,205.83 L97.89,205.84 L98.24,205.84 L98.59,205.84 L98.94,205.84 L99.28,205.85 L99.63,205.85 L99.98,205.85 L100.33,205.86 L100.67,205.86 L101.02,205.87 L101.37,205.87 L101.72,205.87 L102.06,205.88 L102.41,205.88 L102.76,205.89 L103.11,205.89 L103.45,205.9 L103.8,205.91 L104.15,205.91 L104.5,205.92 L104.84,205.92 L105.19,205.93 L105.54,205.94 L105.89,205.94 L106.23,205.95 L106.58,205.96 L106.93,205.97 L107.28,205.97 L107.63,205.98 L107.97,205.99 L108.32,206 L108.67,206 L109.02,206.01 L109.36,206.02 L109.71,206.03 L110.06,206.04 L110.41,206.05 L110.75,206.06 L111.1,206.07 L111.45,206.08 L111.8,206.09 L112.14,206.1 L112.49,206.11 L112.84,206.12 L113.19,206.13 L113.53,206.14 L113.88,206.15 L114.23,206.16 L114.57,206.17 L114.92,206.18 L115.27,206.19 L115.62,206.2 L115.96,206.21 L116.31,206.23 L116.66,206.24 L117.01,206.25 L117.35,206.26 L117.7,206.27 L118.05,206.29 L118.39,206.3 L118.74,206.31 L119.09,206.32 L119.44,206.34 L119.78,206.35 L120.13,206.36 L120.48,206.38 L120.82,206.39 L121.17,206.4 L121.52,206.42 L121.86,206.43 L122.21,206.44 L122.56,206.46 L122.9,206.47 L123.25,206.48 L123.6,206.5 L123.94,206.51 L124.29,206.53 L124.64,206.54 L124.98,206.56 L125.33,206.57 L125.68,206.59 L126.02,206.6 L126.37,206.62 L126.72,206.63 L127.07,206.65 L127.42,206.67 L127.77,206.68 L128.12,206.7 L128.47,206.72 L128.82,206.74 L129.18,206.76 L129.53,206.79 L129.89,206.81 L130.24,206.84 L130.6,206.86 L130.95,206.89 L131.31,206.92 L131.66,206.95 L132.01,206.98 L132.37,207.01 L132.72,207.04 L133.07,207.07 L133.42,207.11 L133.77,207.15 L134.12,207.18 L134.47,207.22 L134.81,207.26 L135.16,207.31 L135.5,207.35 L135.84,207.4 L136.18,207.44 L136.52,207.49 L136.86,207.54 L137.19,207.6 L137.52,207.65 L137.85,207.71 L138.18,207.76 L138.5,207.82 L138.82,207.88 L139.14,207.95 L139.47,208.03 L139.8,208.13 L140.14,208.24 L140.48,208.37 L140.83,208.51 L141.17,208.67 L141.51,208.83 L141.85,209.01 L142.19,209.19 L142.51,209.39 L142.83,209.59 L143.13,209.8 L143.43,210.01 L143.71,210.23 L143.97,210.46 L144.21,210.68 L144.44,210.91 L144.64,211.14 L144.82,211.37 L144.99,211.6 L145.14,211.85 L145.29,212.12 L145.43,212.39 L145.57,212.68 L145.7,212.99 L145.83,213.3 L145.95,213.62 L146.07,213.95 L146.18,214.29 L146.29,214.64 L146.4,214.99 L146.5,215.34 L146.6,215.7 L146.7,216.06 L146.79,216.42 L146.88,216.78 L146.98,217.15 L147.07,217.51 L147.16,217.86 L147.25,218.22 L147.34,218.57 L147.43,218.91 L147.52,219.25 L147.61,219.58 L147.7,219.92 L147.79,220.25 L147.87,220.59 L147.95,220.93 L148.03,221.26 L148.11,221.6 L148.19,221.94 L148.27,222.28 L148.35,222.62 L148.42,222.96 L148.5,223.3 L148.57,223.64 L148.65,223.98 L148.72,224.32 L148.79,224.66 L148.86,225 L148.94,225.34 L149.01,225.68 L149.08,226.02 L149.15,226.36 L149.23,226.7 L149.3,227.04 L149.37,227.38 L149.44,227.72 L149.51,228.06 L149.58,228.4 L149.65,228.74 L149.72,229.08 L149.79,229.42 L149.86,229.76 L149.92,230.1 L149.99,230.44 L150.06,230.78 L150.12,231.12 L150.19,231.46 L150.25,231.8 L150.32,232.15 L150.38,232.49 L150.45,232.83 L150.51,233.17" fill="none" stroke="#3a78b5" stroke-width="0.95" stroke-linejoin="round" stroke-linecap="round" />
<path d="M40.6,199.2 L40.96,199.18 L41.32,199.16 L41.69,199.14 L42.05,199.12 L42.41,199.1 L42.77,199.08 L43.13,199.06 L43.49,199.03 L43.85,199.01 L44.21,198.98 L44.58,198.95 L44.94,198.92 L45.3,198.9 L45.66,198.87 L46.02,198.84 L46.38,198.81 L46.74,198.78 L47.1,198.74 L47.46,198.71 L47.82,198.68 L48.18,198.65 L48.54,198.61 L48.9,198.58 L49.26,198.54 L49.62,198.5 L49.98,198.47 L50.34,198.43 L50.69,198.39 L51.05,198.36 L51.41,198.32 L51.77,198.28 L52.13,198.24 L52.49,198.19 L52.85,198.15 L53.2,198.1 L53.56,198.06 L53.92,198.01 L54.28,197.96 L54.63,197.91 L54.99,197.85 L55.35,197.8 L55.71,197.74 L56.06,197.69 L56.42,197.63 L56.78,197.57 L57.13,197.51 L57.49,197.45 L57.85,197.39 L58.2,197.33 L58.56,197.27 L58.92,197.21 L59.27,197.14 L59.63,197.08 L59.98,197.01 L60.34,196.95 L60.7,196.88 L61.05,196.82 L61.41,196.75 L61.76,196.68 L62.12,196.61 L62.48,196.55 L62.83,196.48 L63.19,196.41 L63.54,196.34 L63.9,196.28 L64.26,196.21 L64.61,196.14 L64.97,196.07 L65.32,196 L65.68,195.94 L66.03,195.87 L66.39,195.8 L66.75,195.74 L67.1,195.67 L67.46,195.61 L67.81,195.54 L68.17,195.48 L68.53,195.41 L68.88,195.35 L69.24,195.29 L69.59,195.22 L69.95,195.16 L70.31,195.1 L70.66,195.03 L71.02,194.97 L71.37,194.91 L71.73,194.85 L72.09,194.78 L72.44,194.72 L72.8,194.66 L73.16,194.59 L73.51,194.53 L73.87,194.47 L74.22,194.4 L74.58,194.34 L74.93,194.27 L75.29,194.21 L75.65,194.15 L76,194.08 L76.36,194.02 L76.71,193.95 L77.07,193.89 L77.43,193.82 L77.78,193.76 L78.14,193.7 L78.49,193.63 L78.85,193.57 L79.2,193.5 L79.56,193.44 L79.92,193.37 L80.27,193.31 L80.63,193.24 L80.98,193.18 L81.34,193.11 L81.7,193.05 L82.05,192.98 L82.41,192.92 L82.76,192.85 L83.12,192.79 L83.47,192.72 L83.83,192.66 L84.19,192.59 L84.54,192.52 L84.9,192.46 L85.25,192.39 L85.61,192.33 L85.96,192.26 L86.32,192.2 L86.67,192.13 L87.03,192.07 L87.39,192 L87.74,191.94 L88.1,191.87 L88.45,191.81 L88.81,191.74 L89.16,191.67 L89.52,191.61 L89.88,191.54 L90.23,191.48 L90.59,191.41 L90.94,191.35 L91.3,191.28 L91.65,191.22 L92.01,191.15 L92.37,191.09 L92.72,191.02 L93.08,190.96 L93.43,190.89 L93.79,190.83 L94.14,190.76 L94.5,190.7 L94.86,190.63 L95.21,190.57 L95.57,190.5 L95.92,190.44 L96.28,190.37 L96.63,190.31 L96.99,190.24 L97.35,190.18 L97.7,190.11 L98.06,190.05 L98.41,189.98 L98.77,189.92 L99.13,189.85 L99.48,189.79 L99.84,189.72 L100.19,189.66 L100.55,189.59 L100.9,189.52 L101.26,189.46 L101.61,189.39 L101.97,189.32 L102.33,189.26 L102.68,189.19 L103.04,189.12 L103.39,189.05 L103.75,188.99 L104.1,188.92 L104.46,188.85 L104.81,188.78 L105.17,188.71 L105.52,188.65 L105.88,188.58 L106.23,188.51 L106.59,188.44 L106.95,188.38 L107.3,188.31 L107.66,188.24 L108.01,188.17 L108.37,188.11 L108.72,188.04 L109.08,187.97 L109.43,187.91 L109.79,187.84 L110.15,187.77 L110.5,187.71 L110.86,187.64 L111.21,187.58 L111.57,187.51 L111.92,187.45 L112.28,187.38 L112.64,187.32 L112.99,187.25 L113.35,187.19 L113.7,187.13 L114.06,187.06 L114.42,187 L114.77,186.94 L115.13,186.88 L115.48,186.82 L115.84,186.76 L116.2,186.7 L116.55,186.64 L116.91,186.58 L117.27,186.52 L117.62,186.46 L117.98,186.41 L118.34,186.35 L118.69,186.29 L119.05,186.24 L119.41,186.18 L119.77,186.13 L120.12,186.08 L120.48,186.03 L120.84,185.98 L121.2,185.93 L121.56,185.88 L121.92,185.83 L122.28,185.78 L122.63,185.74 L122.99,185.7 L123.35,185.65 L123.71,185.61 L124.07,185.57 L124.43,185.53 L124.8,185.48 L125.16,185.44 L125.52,185.4 L125.88,185.36 L126.24,185.33 L126.6,185.29 L126.96,185.25 L127.32,185.21 L127.68,185.17 L128.04,185.13 L128.41,185.1 L128.77,185.06 L129.13,185.02 L129.49,184.98 L129.85,184.94 L130.21,184.9 L130.57,184.86 L130.93,184.82 L131.29,184.78 L131.65,184.74 L132.01,184.7 L132.37,184.66 L132.73,184.62 L133.09,184.58 L133.45,184.53 L133.81,184.49 L134.17,184.44 L134.53,184.4 L134.88,184.35 L135.24,184.3 L135.6,184.25 L135.96,184.2 L136.31,184.15 L136.67,184.1 L137.02,184.04 L137.38,183.99 L137.74,183.93 L138.09,183.87 L138.44,183.81 L138.8,183.75 L139.15,183.69 L139.5,183.62 L139.86,183.56 L140.21,183.49 L140.57,183.42 L140.93,183.35 L141.29,183.27 L141.66,183.19 L142.03,183.11 L142.4,183.03 L142.77,182.94 L143.13,182.84 L143.49,182.74 L143.84,182.64 L144.19,182.52 L144.53,182.41 L144.86,182.28 L145.18,182.15 L145.49,182 L145.78,181.85 L146.07,181.69 L146.36,181.48 L146.65,181.23 L146.92,180.95 L147.16,180.65 L147.37,180.34 L147.52,180.04 L147.63,179.74 L147.74,179.43 L147.84,179.11 L147.93,178.79 L148.02,178.46 L148.11,178.12 L148.19,177.77 L148.26,177.42 L148.33,177.06 L148.4,176.7 L148.47,176.34 L148.53,175.97 L148.58,175.6 L148.64,175.22 L148.69,174.85 L148.74,174.48 L148.79,174.1 L148.84,173.72 L148.88,173.35 L148.93,172.98 L148.97,172.61 L149.01,172.24 L149.06,171.87 L149.1,171.51 L149.14,171.15 L149.19,170.79 L149.23,170.44 L149.27,170.08 L149.32,169.72 L149.36,169.36 L149.4,169 L149.44,168.65 L149.49,168.29 L149.53,167.93 L149.57,167.57 L149.61,167.21 L149.66,166.86 L149.7,166.5 L149.74,166.14 L149.78,165.78 L149.82,165.42 L149.86,165.06 L149.9,164.7 L149.94,164.35 L149.98,163.99 L150.02,163.63 L150.06,163.27 L150.1,162.91 L150.14,162.55 L150.18,162.19 L150.22,161.83 L150.25,161.47 L150.29,161.11 L150.33,160.75 L150.36,160.39 L150.4,160.03 L150.43,159.67 L150.47,159.31 L150.5,158.95 L150.53,158.59 L150.57,158.23 L150.6,157.87 L150.63,157.51 L150.66,157.15 L150.69,156.79 L150.72,156.43 L150.75,156.07 L150.78,155.71 L150.81,155.35 L150.84,154.99 L150.86,154.63 L150.89,154.26 L150.91,153.9 L150.94,153.54 L150.96,153.18 L150.98,152.82 L151.01,152.46 L151.03,152.1 L151.05,151.73 L151.07,151.37 L151.09,151.01 L151.1,150.65 L151.12,150.28 L151.14,149.92 L151.15,149.56 L151.17,149.2 L151.18,148.83 L151.19,148.47 L151.2,148.11 L151.21,147.75 L151.22,147.38 L151.23,147.02 L151.24,146.66 L151.25,146.29 L151.25,145.93 L151.26,145.56 L151.26,145.2" fill="none" stroke="#3a78b5" stroke-width="0.95" stroke-linejoin="round" stroke-linecap="round" />
<rect x="40.6" y="136.8" width="130.1" height="103.5" fill="none" stroke="#555" stroke-width="0.9"/>
<line x1="40.6" y1="240.3" x2="40.6" y2="238.5" stroke="#555" stroke-width="0.8"/>
<text x="40.6" y="247.8" font-size="6.3" text-anchor="middle" font-weight="bold" fill="#222" stroke="#222" stroke-width="0.1" >0</text>
<line x1="62.25" y1="240.3" x2="62.25" y2="238.5" stroke="#555" stroke-width="0.8"/>
<text x="62.25" y="247.8" font-size="6.3" text-anchor="middle" font-weight="bold" fill="#222" stroke="#222" stroke-width="0.1" >200</text>
<line x1="83.9" y1="240.3" x2="83.9" y2="238.5" stroke="#555" stroke-width="0.8"/>
<text x="83.9" y="247.8" font-size="6.3" text-anchor="middle" font-weight="bold" fill="#222" stroke="#222" stroke-width="0.1" >400</text>
<line x1="105.55" y1="240.3" x2="105.55" y2="238.5" stroke="#555" stroke-width="0.8"/>
<text x="105.55" y="247.8" font-size="6.3" text-anchor="middle" font-weight="bold" fill="#222" stroke="#222" stroke-width="0.1" >600</text>
<line x1="127.2" y1="240.3" x2="127.2" y2="238.5" stroke="#555" stroke-width="0.8"/>
<text x="127.2" y="247.8" font-size="6.3" text-anchor="middle" font-weight="bold" fill="#222" stroke="#222" stroke-width="0.1" >800</text>
<line x1="148.85" y1="240.3" x2="148.85" y2="238.5" stroke="#555" stroke-width="0.8"/>
<text x="148.85" y="247.8" font-size="6.3" text-anchor="middle" font-weight="bold" fill="#222" stroke="#222" stroke-width="0.1" >1000</text>
<line x1="170.5" y1="240.3" x2="170.5" y2="238.5" stroke="#555" stroke-width="0.8"/>
<text x="170.5" y="247.8" font-size="6.3" text-anchor="middle" font-weight="bold" fill="#222" stroke="#222" stroke-width="0.1" >1200</text>
<line x1="51.42" y1="240.3" x2="51.42" y2="239.2" stroke="#555" stroke-width="0.6"/>
<line x1="73.08" y1="240.3" x2="73.08" y2="239.2" stroke="#555" stroke-width="0.6"/>
<line x1="94.73" y1="240.3" x2="94.73" y2="239.2" stroke="#555" stroke-width="0.6"/>
<line x1="116.38" y1="240.3" x2="116.38" y2="239.2" stroke="#555" stroke-width="0.6"/>
<line x1="138.03" y1="240.3" x2="138.03" y2="239.2" stroke="#555" stroke-width="0.6"/>
<line x1="159.68" y1="240.3" x2="159.68" y2="239.2" stroke="#555" stroke-width="0.6"/>
<line x1="40.6" y1="232.3" x2="42.4" y2="232.3" stroke="#555" stroke-width="0.8"/>
<text x="38.3" y="234.57" font-size="6.3" text-anchor="end" font-weight="bold" fill="#222" stroke="#222" stroke-width="0.1" >1.8</text>
<line x1="40.6" y1="214.88" x2="42.4" y2="214.88" stroke="#555" stroke-width="0.8"/>
<text x="38.3" y="217.15" font-size="6.3" text-anchor="end" font-weight="bold" fill="#222" stroke="#222" stroke-width="0.1" >2.0</text>
<line x1="40.6" y1="197.46" x2="42.4" y2="197.46" stroke="#555" stroke-width="0.8"/>
<text x="38.3" y="199.73" font-size="6.3" text-anchor="end" font-weight="bold" fill="#222" stroke="#222" stroke-width="0.1" >2.2</text>
<line x1="40.6" y1="180.04" x2="42.4" y2="180.04" stroke="#555" stroke-width="0.8"/>
<text x="38.3" y="182.31" font-size="6.3" text-anchor="end" font-weight="bold" fill="#222" stroke="#222" stroke-width="0.1" >2.4</text>
<line x1="40.6" y1="162.62" x2="42.4" y2="162.62" stroke="#555" stroke-width="0.8"/>
<text x="38.3" y="164.89" font-size="6.3" text-anchor="end" font-weight="bold" fill="#222" stroke="#222" stroke-width="0.1" >2.6</text>
<line x1="40.6" y1="145.2" x2="42.4" y2="145.2" stroke="#555" stroke-width="0.8"/>
<text x="38.3" y="147.47" font-size="6.3" text-anchor="end" font-weight="bold" fill="#222" stroke="#222" stroke-width="0.1" >2.8</text>
<line x1="40.6" y1="223.59" x2="41.7" y2="223.59" stroke="#555" stroke-width="0.6"/>
<line x1="40.6" y1="206.17" x2="41.7" y2="206.17" stroke="#555" stroke-width="0.6"/>
<line x1="40.6" y1="188.75" x2="41.7" y2="188.75" stroke="#555" stroke-width="0.6"/>
<line x1="40.6" y1="171.33" x2="41.7" y2="171.33" stroke="#555" stroke-width="0.6"/>
<line x1="40.6" y1="153.91" x2="41.7" y2="153.91" stroke="#555" stroke-width="0.6"/>
<text transform="translate(23,186.2) rotate(-90)" font-size="9.1" text-anchor="middle" font-weight="bold" fill="#222" stroke="#222" stroke-width="0.12">Voltage (V)</text>
<text x="105" y="260.3" font-size="8.45" text-anchor="middle" font-weight="bold" fill="#222" stroke="#222" stroke-width="0.1" >Sepcific capacity <tspan font-size="7.3">(</tspan>mAh/g<tspan font-size="7.3">)</tspan></text>
<text x="44" y="235" font-size="6.55" text-anchor="start" font-weight="bold" fill="#222" stroke="#222" stroke-width="0.1" >Current density 0.2 C</text>
<path d="M45.2,143.2 L60.2,143.2" fill="none" stroke="#444" stroke-width="0.8" stroke-linejoin="round" stroke-linecap="round" />
<text x="62.2" y="145.5" font-size="6.3" text-anchor="start" font-weight="bold" fill="#222" stroke="#222" stroke-width="0.1" >PP</text>
<path d="M45.2,151.7 L60.2,151.7" fill="none" stroke="#f9a0a5" stroke-width="1.3" stroke-linejoin="round" stroke-linecap="round" />
<text x="62.2" y="154" font-size="6.3" text-anchor="start" font-weight="bold" fill="#222" stroke="#222" stroke-width="0.1" >Ce-MOF</text>
<path d="M45.2,160.2 L60.2,160.2" fill="none" stroke="#6f95bd" stroke-width="1.0" stroke-linejoin="round" stroke-linecap="round" />
<text x="62.2" y="162.5" font-size="6.3" text-anchor="start" font-weight="bold" fill="#222" stroke="#222" stroke-width="0.1" >CeO<tspan font-size="70%" dy="1.5">2</tspan></text>
<text x="172.2" y="149.8" font-size="13.5" text-anchor="start" font-weight="normal" fill="#222" stroke="#222" stroke-width="0.12">(e)</text>
<rect x="219.7" y="157.93" width="6.8" height="56.82" fill="#7b7b7b" stroke="#666" stroke-width="0.3"/>
<rect x="219.7" y="214.75" width="6.8" height="25.25" fill="#c4c4c4" stroke="#777" stroke-width="0.3"/>
<rect x="226.65" y="157.53" width="6.8" height="59.98" fill="#f04c52" stroke="#666" stroke-width="0.3"/>
<rect x="226.65" y="217.51" width="6.8" height="22.49" fill="#f7adb3" stroke="#777" stroke-width="0.3"/>
<rect x="233.6" y="146.09" width="6.8" height="67.47" fill="#4a80c4" stroke="#666" stroke-width="0.3"/>
<rect x="233.6" y="213.56" width="6.8" height="26.44" fill="#bdd3ee" stroke="#777" stroke-width="0.3"/>
<rect x="245.6" y="185.15" width="6.8" height="36.7" fill="#7b7b7b" stroke="#666" stroke-width="0.3"/>
<rect x="245.6" y="221.85" width="6.8" height="18.15" fill="#c4c4c4" stroke="#777" stroke-width="0.3"/>
<rect x="252.55" y="171.34" width="6.8" height="46.17" fill="#f04c52" stroke="#666" stroke-width="0.3"/>
<rect x="252.55" y="217.51" width="6.8" height="22.49" fill="#f7adb3" stroke="#777" stroke-width="0.3"/>
<rect x="259.5" y="159.9" width="6.8" height="54.85" fill="#4a80c4" stroke="#666" stroke-width="0.3"/>
<rect x="259.5" y="214.75" width="6.8" height="25.25" fill="#bdd3ee" stroke="#777" stroke-width="0.3"/>
<rect x="271.5" y="193.44" width="6.8" height="28.41" fill="#7b7b7b" stroke="#666" stroke-width="0.3"/>
<rect x="271.5" y="221.85" width="6.8" height="18.15" fill="#c4c4c4" stroke="#777" stroke-width="0.3"/>
<rect x="278.45" y="182" width="6.8" height="38.67" fill="#f04c52" stroke="#666" stroke-width="0.3"/>
<rect x="278.45" y="220.67" width="6.8" height="19.33" fill="#f7adb3" stroke="#777" stroke-width="0.3"/>
<rect x="285.4" y="169.37" width="6.8" height="47.35" fill="#4a80c4" stroke="#666" stroke-width="0.3"/>
<rect x="285.4" y="216.72" width="6.8" height="23.28" fill="#bdd3ee" stroke="#777" stroke-width="0.3"/>
<rect x="297.4" y="196.99" width="6.8" height="27.62" fill="#7b7b7b" stroke="#666" stroke-width="0.3"/>
<rect x="297.4" y="224.61" width="6.8" height="15.39" fill="#c4c4c4" stroke="#777" stroke-width="0.3"/>
<rect x="304.35" y="187.91" width="6.8" height="35.51" fill="#f04c52" stroke="#666" stroke-width="0.3"/>
<rect x="304.35" y="223.43" width="6.8" height="16.57" fill="#f7adb3" stroke="#777" stroke-width="0.3"/>
<rect x="311.3" y="176.47" width="6.8" height="42.22" fill="#4a80c4" stroke="#666" stroke-width="0.3"/>
<rect x="311.3" y="218.69" width="6.8" height="21.31" fill="#bdd3ee" stroke="#777" stroke-width="0.3"/>
<rect x="323.3" y="202.12" width="6.8" height="23.28" fill="#7b7b7b" stroke="#666" stroke-width="0.3"/>
<rect x="323.3" y="225.4" width="6.8" height="14.6" fill="#c4c4c4" stroke="#777" stroke-width="0.3"/>
<rect x="330.25" y="193.83" width="6.8" height="31.57" fill="#f04c52" stroke="#666" stroke-width="0.3"/>
<rect x="330.25" y="225.4" width="6.8" height="14.6" fill="#f7adb3" stroke="#777" stroke-width="0.3"/>
<rect x="337.2" y="181.21" width="6.8" height="38.27" fill="#4a80c4" stroke="#666" stroke-width="0.3"/>
<rect x="337.2" y="219.48" width="6.8" height="20.52" fill="#bdd3ee" stroke="#777" stroke-width="0.3"/>
<rect x="217.3" y="136.7" width="129" height="103.6" fill="none" stroke="#555" stroke-width="0.9"/>
<line x1="230.1" y1="240.3" x2="230.1" y2="238.5" stroke="#555" stroke-width="0.8"/>
<text x="230.1" y="248.3" font-size="6.5" text-anchor="middle" font-weight="bold" fill="#222" stroke="#222" stroke-width="0.1" >0.1</text>
<line x1="256" y1="240.3" x2="256" y2="238.5" stroke="#555" stroke-width="0.8"/>
<text x="256" y="248.3" font-size="6.5" text-anchor="middle" font-weight="bold" fill="#222" stroke="#222" stroke-width="0.1" >0.2</text>
<line x1="281.9" y1="240.3" x2="281.9" y2="238.5" stroke="#555" stroke-width="0.8"/>
<text x="281.9" y="248.3" font-size="6.5" text-anchor="middle" font-weight="bold" fill="#222" stroke="#222" stroke-width="0.1" >0.5</text>
<line x1="307.8" y1="240.3" x2="307.8" y2="238.5" stroke="#555" stroke-width="0.8"/>
<text x="307.8" y="248.3" font-size="6.5" text-anchor="middle" font-weight="bold" fill="#222" stroke="#222" stroke-width="0.1" >1</text>
<line x1="333.7" y1="240.3" x2="333.7" y2="238.5" stroke="#555" stroke-width="0.8"/>
<text x="333.7" y="248.3" font-size="6.5" text-anchor="middle" font-weight="bold" fill="#222" stroke="#222" stroke-width="0.1" >2</text>
<line x1="217.3" y1="240" x2="219.1" y2="240" stroke="#555" stroke-width="0.8"/>
<text x="215.2" y="242.27" font-size="6.3" text-anchor="end" font-weight="bold" fill="#222" stroke="#222" stroke-width="0.1" >0</text>
<line x1="217.3" y1="224.22" x2="219.1" y2="224.22" stroke="#555" stroke-width="0.8"/>
<text x="215.2" y="226.48" font-size="6.3" text-anchor="end" font-weight="bold" fill="#222" stroke="#222" stroke-width="0.1" >200</text>
<line x1="217.3" y1="208.43" x2="219.1" y2="208.43" stroke="#555" stroke-width="0.8"/>
<text x="215.2" y="210.7" font-size="6.3" text-anchor="end" font-weight="bold" fill="#222" stroke="#222" stroke-width="0.1" >400</text>
<line x1="217.3" y1="192.65" x2="219.1" y2="192.65" stroke="#555" stroke-width="0.8"/>
<text x="215.2" y="194.92" font-size="6.3" text-anchor="end" font-weight="bold" fill="#222" stroke="#222" stroke-width="0.1" >600</text>
<line x1="217.3" y1="176.87" x2="219.1" y2="176.87" stroke="#555" stroke-width="0.8"/>
<text x="215.2" y="179.13" font-size="6.3" text-anchor="end" font-weight="bold" fill="#222" stroke="#222" stroke-width="0.1" >800</text>
<line x1="217.3" y1="161.08" x2="219.1" y2="161.08" stroke="#555" stroke-width="0.8"/>
<text x="215.2" y="163.35" font-size="6.3" text-anchor="end" font-weight="bold" fill="#222" stroke="#222" stroke-width="0.1" >1000</text>
<line x1="217.3" y1="145.3" x2="219.1" y2="145.3" stroke="#555" stroke-width="0.8"/>
<text x="215.2" y="147.57" font-size="6.3" text-anchor="end" font-weight="bold" fill="#222" stroke="#222" stroke-width="0.1" >1200</text>
<text transform="translate(199.3,188.5) rotate(-90)" font-size="8.2" text-anchor="middle" font-weight="bold" fill="#222" stroke="#222" stroke-width="0.12">Specific capacity (mAh/g)</text>
<text x="282" y="258" font-size="8.0" text-anchor="middle" font-weight="bold" fill="#222" stroke="#222" stroke-width="0.1" >Current density (C)</text>
<text x="314.4" y="144.5" font-size="6.3" text-anchor="middle" font-weight="normal" fill="#444" font-family="Liberation Serif, serif" stroke="#444" stroke-width="0.25">I</text>
<text x="323.7" y="144.5" font-size="6.3" text-anchor="middle" font-weight="normal" fill="#444" font-family="Liberation Serif, serif" stroke="#444" stroke-width="0.25">II</text>
<rect x="310.3" y="148" width="6.9" height="4.3" fill="#c4c4c4" stroke="#999" stroke-width="0.3"/>
<rect x="319.5" y="148" width="6.9" height="4.3" fill="#7b7b7b" stroke="#666" stroke-width="0.3"/>
<text x="329.8" y="152.1" font-size="6.3" text-anchor="start" font-weight="bold" fill="#222" stroke="#222" stroke-width="0.1" >PP</text>
<rect x="310.3" y="154.7" width="6.9" height="4.3" fill="#f7adb3" stroke="#999" stroke-width="0.3"/>
<rect x="319.5" y="154.7" width="6.9" height="4.3" fill="#f04c52" stroke="#666" stroke-width="0.3"/>
<text x="329.8" y="158.8" font-size="6.3" text-anchor="start" font-weight="bold" fill="#222" stroke="#222" stroke-width="0.1" >MOF</text>
<rect x="310.3" y="161.4" width="6.9" height="4.3" fill="#bdd3ee" stroke="#999" stroke-width="0.3"/>
<rect x="319.5" y="161.4" width="6.9" height="4.3" fill="#4a80c4" stroke="#666" stroke-width="0.3"/>
<text x="329.8" y="165.5" font-size="6.3" text-anchor="start" font-weight="bold" fill="#222" stroke="#222" stroke-width="0.1" >CeO<tspan font-size="70%" dy="1.5">2</tspan></text>
<text x="351.2" y="149.8" font-size="13.5" text-anchor="start" font-weight="normal" fill="#222" stroke="#222" stroke-width="0.12">(f)</text>
<circle cx="392.8" cy="239" r="1.35" fill="#f04a4f"/>
<circle cx="393.93" cy="236.33" r="1.35" fill="#f04a4f"/>
<circle cx="395.56" cy="233.94" r="1.35" fill="#f04a4f"/>
<circle cx="397.59" cy="231.88" r="1.35" fill="#f04a4f"/>
<circle cx="399.92" cy="230.15" r="1.35" fill="#f04a4f"/>
<circle cx="402.42" cy="228.69" r="1.35" fill="#f04a4f"/>
<circle cx="405.07" cy="227.51" r="1.35" fill="#f04a4f"/>
<circle cx="407.81" cy="226.56" r="1.35" fill="#f04a4f"/>
<circle cx="410.61" cy="225.81" r="1.35" fill="#f04a4f"/>
<circle cx="413.48" cy="225.45" r="1.35" fill="#f04a4f"/>
<circle cx="416.38" cy="225.31" r="1.35" fill="#f04a4f"/>
<circle cx="419.28" cy="225.26" r="1.35" fill="#f04a4f"/>
<circle cx="422.17" cy="225.48" r="1.35" fill="#f04a4f"/>
<circle cx="425.03" cy="225.96" r="1.35" fill="#f04a4f"/>
<circle cx="427.81" cy="226.76" r="1.35" fill="#f04a4f"/>
<circle cx="430.45" cy="227.96" r="1.35" fill="#f04a4f"/>
<circle cx="432.8" cy="229.64" r="1.35" fill="#f04a4f"/>
<circle cx="434.83" cy="231.71" r="1.35" fill="#f04a4f"/>
<circle cx="436.85" cy="233.79" r="1.35" fill="#f04a4f"/>
<circle cx="438.8" cy="235.94" r="1.35" fill="#f04a4f"/>
<circle cx="440.8" cy="238.02" r="1.35" fill="#f04a4f"/>
<circle cx="443.44" cy="237.96" r="1.35" fill="#f04a4f"/>
<circle cx="445.74" cy="236.21" r="1.35" fill="#f04a4f"/>
<circle cx="447.9" cy="234.27" r="1.35" fill="#f04a4f"/>
<circle cx="419.8" cy="225.26" r="1.3" fill="#2a2a2a"/>
<circle cx="422.4" cy="225.26" r="1.3" fill="#2a2a2a"/>
<circle cx="425" cy="225.27" r="1.3" fill="#2a2a2a"/>
<circle cx="427.6" cy="225.44" r="1.3" fill="#2a2a2a"/>
<circle cx="430.18" cy="225.72" r="1.3" fill="#2a2a2a"/>
<circle cx="432.75" cy="226.13" r="1.3" fill="#2a2a2a"/>
<circle cx="435.3" cy="226.62" r="1.3" fill="#2a2a2a"/>
<circle cx="437.83" cy="227.21" r="1.3" fill="#2a2a2a"/>
<circle cx="440.33" cy="227.92" r="1.3" fill="#2a2a2a"/>
<circle cx="442.74" cy="228.89" r="1.3" fill="#2a2a2a"/>
<circle cx="445.07" cy="230.05" r="1.3" fill="#2a2a2a"/>
<circle cx="447.43" cy="231.13" r="1.3" fill="#2a2a2a"/>
<circle cx="449.93" cy="231.76" r="1.3" fill="#2a2a2a"/>
<circle cx="452.49" cy="231.35" r="1.3" fill="#2a2a2a"/>
<circle cx="455.01" cy="230.72" r="1.3" fill="#2a2a2a"/>
<circle cx="457.57" cy="230.25" r="1.3" fill="#2a2a2a"/>
<circle cx="460.13" cy="229.82" r="1.3" fill="#2a2a2a"/>
<circle cx="462.72" cy="229.61" r="1.3" fill="#2a2a2a"/>
<circle cx="465.32" cy="229.72" r="1.3" fill="#2a2a2a"/>
<circle cx="467.9" cy="229.98" r="1.3" fill="#2a2a2a"/>
<circle cx="470.48" cy="230.32" r="1.3" fill="#2a2a2a"/>
<circle cx="473.02" cy="230.88" r="1.3" fill="#2a2a2a"/>
<circle cx="475.53" cy="231.55" r="1.3" fill="#2a2a2a"/>
<circle cx="478.07" cy="232.11" r="1.3" fill="#2a2a2a"/>
<circle cx="480.64" cy="232.37" r="1.3" fill="#2a2a2a"/>
<circle cx="482.9" cy="231.11" r="1.3" fill="#2a2a2a"/>
<circle cx="484.74" cy="229.27" r="1.3" fill="#2a2a2a"/>
<circle cx="486.37" cy="227.25" r="1.3" fill="#2a2a2a"/>
<circle cx="489.89" cy="223.98" r="1.45" fill="#2a2a2a"/>
<circle cx="492.76" cy="220.91" r="1.45" fill="#2a2a2a"/>
<circle cx="495.98" cy="217.02" r="1.45" fill="#2a2a2a"/>
<circle cx="498.85" cy="212.66" r="1.45" fill="#2a2a2a"/>
<circle cx="501.61" cy="207.72" r="1.45" fill="#2a2a2a"/>
<circle cx="504.43" cy="201.81" r="1.45" fill="#2a2a2a"/>
<circle cx="392.8" cy="239" r="1.2" fill="#1f5289"/>
<circle cx="394.06" cy="237.45" r="1.2" fill="#1f5289"/>
<circle cx="395.76" cy="236.42" r="1.2" fill="#1f5289"/>
<circle cx="397.66" cy="235.8" r="1.2" fill="#1f5289"/>
<circle cx="399.62" cy="235.45" r="1.2" fill="#1f5289"/>
<circle cx="401.62" cy="235.55" r="1.2" fill="#1f5289"/>
<circle cx="403.56" cy="236.03" r="1.2" fill="#1f5289"/>
<circle cx="405.38" cy="236.82" r="1.2" fill="#1f5289"/>
<circle cx="407.01" cy="237.98" r="1.2" fill="#1f5289"/>
<circle cx="408.89" cy="238.64" r="1.2" fill="#1f5289"/>
<circle cx="410.86" cy="238.78" r="1.2" fill="#1f5289"/>
<circle cx="412.51" cy="237.67" r="1.2" fill="#1f5289"/>
<circle cx="414.22" cy="236.63" r="1.2" fill="#1f5289"/>
<circle cx="415.87" cy="235.5" r="1.2" fill="#1f5289"/>
<circle cx="417.36" cy="234.17" r="1.2" fill="#1f5289"/>
<circle cx="418.84" cy="232.83" r="1.2" fill="#1f5289"/>
<circle cx="420.32" cy="231.48" r="1.2" fill="#1f5289"/>
<circle cx="421.71" cy="230.04" r="1.2" fill="#1f5289"/>
<circle cx="423.01" cy="228.52" r="1.2" fill="#1f5289"/>
<circle cx="424.2" cy="226.92" r="1.2" fill="#1f5289"/>
<rect x="392.1" y="136.4" width="130.3" height="102.7" fill="none" stroke="#555" stroke-width="0.9"/>
<line x1="392.8" y1="239.1" x2="392.8" y2="237.3" stroke="#555" stroke-width="0.8"/>
<text x="392.8" y="247.6" font-size="6.3" text-anchor="middle" font-weight="bold" fill="#222" stroke="#222" stroke-width="0.1" >0</text>
<line x1="421.52" y1="239.1" x2="421.52" y2="237.3" stroke="#555" stroke-width="0.8"/>
<text x="421.52" y="247.6" font-size="6.3" text-anchor="middle" font-weight="bold" fill="#222" stroke="#222" stroke-width="0.1" >50</text>
<line x1="450.25" y1="239.1" x2="450.25" y2="237.3" stroke="#555" stroke-width="0.8"/>
<text x="450.25" y="247.6" font-size="6.3" text-anchor="middle" font-weight="bold" fill="#222" stroke="#222" stroke-width="0.1" >100</text>
<line x1="478.98" y1="239.1" x2="478.98" y2="237.3" stroke="#555" stroke-width="0.8"/>
<text x="478.98" y="247.6" font-size="6.3" text-anchor="middle" font-weight="bold" fill="#222" stroke="#222" stroke-width="0.1" >150</text>
<line x1="507.7" y1="239.1" x2="507.7" y2="237.3" stroke="#555" stroke-width="0.8"/>
<text x="507.7" y="247.6" font-size="6.3" text-anchor="middle" font-weight="bold" fill="#222" stroke="#222" stroke-width="0.1" >200</text>
<line x1="407.16" y1="239.1" x2="407.16" y2="238" stroke="#555" stroke-width="0.6"/>
<line x1="435.89" y1="239.1" x2="435.89" y2="238" stroke="#555" stroke-width="0.6"/>
<line x1="464.61" y1="239.1" x2="464.61" y2="238" stroke="#555" stroke-width="0.6"/>
<line x1="493.34" y1="239.1" x2="493.34" y2="238" stroke="#555" stroke-width="0.6"/>
<line x1="392.1" y1="239" x2="393.9" y2="239" stroke="#555" stroke-width="0.8"/>
<text x="390" y="241.27" font-size="6.3" text-anchor="end" font-weight="bold" fill="#222" stroke="#222" stroke-width="0.1" >0</text>
<line x1="392.1" y1="216.1" x2="393.9" y2="216.1" stroke="#555" stroke-width="0.8"/>
<text x="390" y="218.37" font-size="6.3" text-anchor="end" font-weight="bold" fill="#222" stroke="#222" stroke-width="0.1" >50</text>
<line x1="392.1" y1="193.2" x2="393.9" y2="193.2" stroke="#555" stroke-width="0.8"/>
<text x="390" y="195.47" font-size="6.3" text-anchor="end" font-weight="bold" fill="#222" stroke="#222" stroke-width="0.1" >100</text>
<line x1="392.1" y1="170.3" x2="393.9" y2="170.3" stroke="#555" stroke-width="0.8"/>
<text x="390" y="172.57" font-size="6.3" text-anchor="end" font-weight="bold" fill="#222" stroke="#222" stroke-width="0.1" >150</text>
<line x1="392.1" y1="147.4" x2="393.9" y2="147.4" stroke="#555" stroke-width="0.8"/>
<text x="390" y="149.67" font-size="6.3" text-anchor="end" font-weight="bold" fill="#222" stroke="#222" stroke-width="0.1" >200</text>
<line x1="392.1" y1="227.55" x2="393.2" y2="227.55" stroke="#555" stroke-width="0.6"/>
<line x1="392.1" y1="204.65" x2="393.2" y2="204.65" stroke="#555" stroke-width="0.6"/>
<line x1="392.1" y1="181.75" x2="393.2" y2="181.75" stroke="#555" stroke-width="0.6"/>
<line x1="392.1" y1="158.85" x2="393.2" y2="158.85" stroke="#555" stroke-width="0.6"/>
<text transform="translate(377,190.5) rotate(-90)" font-size="9" text-anchor="middle" font-weight="bold" fill="#222" stroke="#222" stroke-width="0.12">- Z'' (ohm)</text>
<text x="457.5" y="259.8" font-size="8.8" text-anchor="middle" font-weight="bold" fill="#222" stroke="#222" stroke-width="0.1" >Z' (ohm)</text>
<circle cx="404" cy="144.6" r="1.25" fill="#2a2a2a"/>
<text x="413.3" y="146.9" font-size="6.3" text-anchor="start" font-weight="bold" fill="#222" stroke="#222" stroke-width="0.1" >PP</text>
<circle cx="404" cy="153.05" r="1.25" fill="#f04a4f"/>
<text x="413.3" y="155.35" font-size="6.3" text-anchor="start" font-weight="bold" fill="#222" stroke="#222" stroke-width="0.1" >Ce-MOF</text>
<circle cx="404" cy="161.5" r="1.25" fill="#1f5289"/>
<text x="413.3" y="163.8" font-size="6.3" text-anchor="start" font-weight="bold" fill="#222" stroke="#222" stroke-width="0.1" >CeO<tspan font-size="70%" dy="1.5">2</tspan></text>
<text x="2.6" y="263.2" font-size="13.5" text-anchor="start" font-weight="normal" fill="#222" stroke="#222" stroke-width="0.12">(g)</text>
<path d="M40.57,280.2 L41.71,280.01 L42.85,280.07 L43.99,279.93 L45.13,280.31 L46.27,280.16 L47.41,280.09 L48.55,280.34 L49.69,280.07 L50.83,279.98 L51.97,280.17 L53.11,280.05 L54.25,280.08 L55.39,280.32 L56.53,280.25 L57.67,279.89 L58.81,280.28 L59.95,280.23 L61.09,280.44 L62.23,280.37 L63.37,280.41 L64.51,279.98 L65.65,280.11 L66.79,280.03 L67.93,279.98 L69.07,280.2 L70.21,280.03 L71.35,280.27 L72.49,280.34 L73.63,280.05 L74.77,280.08 L75.91,280.07 L77.05,280.34 L78.19,280.19 L79.33,280.41 L80.47,280.08 L81.61,280.13 L82.75,280.5 L83.89,280.14 L85.03,280.58 L86.17,280.64 L87.31,280.29 L88.45,280.55 L89.59,280.43 L90.73,280.37 L91.87,280.72 L93.01,280.33 L94.15,280.61 L95.29,280.53 L96.43,280.59 L97.57,280.37 L98.71,280.37 L99.85,280.65 L100.99,280.76 L102.13,280.66 L103.27,280.6 L104.41,280.81 L105.55,280.77 L106.69,280.43 L107.83,280.48 L108.97,280.33 L110.11,280.34 L111.25,280.4 L112.39,280.7 L113.53,280.83 L114.67,280.76 L115.81,280.68 L116.95,280.65 L118.09,280.65 L119.23,280.77 L120.37,280.49 L121.51,280.83 L122.65,280.74 L123.79,280.5 L124.93,280.56 L126.07,280.86 L127.21,280.9 L128.35,280.59 L129.49,281.06 L130.63,281 L131.77,280.78 L132.91,280.78 L134.05,281 L135.19,281.08 L136.33,281 L137.47,280.69 L138.61,280.87 L139.75,280.58 L140.89,280.71 L142.03,280.6 L143.17,281.16 L144.31,281.08 L145.45,281.19 L146.59,280.96 L147.73,281.02 L148.87,281.19 L150.01,280.92 L151.15,281.19 L152.29,281.07 L153.43,281.12 L154.57,280.81 L155.71,281.04 L156.85,281.14 L157.99,281.27 L159.13,281.06 L160.27,280.96 L161.41,280.94 L162.55,280.81 L163.69,280.88 L164.83,281.22 L165.97,281.29 L167.11,280.94 L168.25,280.93 L169.39,281.1 L170.53,280.93 L171.67,281.1 L172.81,281.26 L173.95,281.34 L175.09,281.43 L176.23,281.08 L177.37,280.95 L178.51,280.95 L179.65,281.21 L180.79,281.11 L181.93,280.97 L183.07,281.04 L184.21,281.17 L185.35,281.29 L186.49,281.24 L187.63,281.45 L188.77,281.45 L189.91,281.18 L191.05,281.01 L192.19,281.27 L193.33,281.36 L194.47,281.4 L195.61,281.35 L196.75,281.16 L197.89,281.38 L199.03,281.09 L200.17,281.57 L201.31,281.48 L202.45,281.37 L203.59,281.45 L204.73,281.2 L205.87,281.23 L207.01,281.18 L208.15,281.37 L209.29,281.71 L210.43,281.41 L211.57,281.43 L212.71,281.48 L213.85,281.61 L214.99,281.37 L216.13,281.26 L217.27,281.74 L218.41,281.42 L219.55,281.6 L220.69,281.53 L221.83,281.32 L222.97,281.29 L224.11,281.49 L225.25,281.75 L226.39,281.35 L227.53,281.78 L228.67,281.67 L229.81,281.43 L230.95,281.73 L232.09,281.77 L233.23,281.39 L234.37,281.4 L235.51,281.77 L236.65,281.74 L237.79,281.81 L238.93,281.9 L240.07,281.85 L241.21,281.44 L242.35,281.96 L243.49,281.89 L244.63,281.91 L245.77,281.99 L246.91,281.74 L248.05,281.63 L249.19,281.58 L250.33,281.71 L251.47,281.62 L252.61,282.09 L253.75,281.94 L254.89,281.56 L256.03,282.08 L257.17,281.98 L258.31,281.87 L259.45,282 L260.59,281.85 L261.73,282.14 L262.87,282.05 L264.01,281.64 L265.15,282.12 L266.29,281.69 L267.43,282.12 L268.57,281.66 L269.71,281.85 L270.85,281.88 L271.99,282.18 L273.13,282.24 L274.27,281.84 L275.41,282.18 L276.55,282.19 L277.69,281.83 L278.83,281.81 L279.97,282.3 L281.11,281.78 L282.25,282.04 L283.39,282.13 L284.53,282.3 L285.67,282.15 L286.81,281.81 L287.95,282.23 L289.09,282.33 L290.23,282.33 L291.37,282.35 L292.51,282.23 L293.65,281.91 L294.79,282.4 L295.93,282.35 L297.07,281.93 L298.21,281.9 L299.35,281.92 L300.49,282.36 L301.63,282.3 L302.77,281.97 L303.91,282.25 L305.05,282.13 L306.19,282.36 L307.33,282.54 L308.47,282.37 L309.61,282.14 L310.75,282.13 L311.89,282.27 L313.03,282.34 L314.17,282.3 L315.31,282.37 L316.45,282.32 L317.59,282.16 L318.73,282.53 L319.87,282.32 L321.01,282.13 L322.15,282.19 L323.29,282.58" fill="none" stroke="#f6b9bd" stroke-width="2.4" stroke-linejoin="round" stroke-linecap="round" />
<path d="M40.57,311.65 L41.14,311.77 L41.71,312.28 L42.28,312.24 L42.85,312.31 L43.42,312.45 L43.99,311.82 L44.56,312.26 L45.13,311.96 L45.7,312.53 L46.27,312.63 L46.84,312.05 L47.41,312.13 L47.98,312.02 L48.55,312.27 L49.12,312.41 L49.69,312.27 L50.26,312.78 L50.83,312.49 L51.4,312.59 L51.97,312.84 L52.54,312.55 L53.11,312.78 L53.68,312.69 L54.25,312.82 L54.82,312.9 L55.39,312.9 L55.96,312.76 L56.53,312.53 L57.1,312.6 L57.67,312.69 L58.24,312.74 L58.81,313.17 L59.38,312.71 L59.95,313.28 L60.52,313.45 L61.09,313.25 L61.66,313.15 L62.23,313.5 L62.8,313.35 L63.37,313.67 L63.94,313.25 L64.51,313.69 L65.08,313.73 L65.65,313.76 L66.22,313.59 L66.79,313.57 L67.36,313.97 L67.93,314.09 L68.5,314.04 L69.07,314.54 L69.64,314.41 L70.21,314.22 L70.78,314.39 L71.35,315.02 L71.92,314.56 L72.49,315.02 L73.06,314.71 L73.63,315.26 L74.2,315.49 L74.77,315.36 L75.34,315.24 L75.91,315.68 L76.48,315.49 L77.05,315.71 L77.62,316.08 L78.19,316.24 L78.76,316.21 L79.33,316.4 L79.9,316.54 L80.47,316.45 L81.04,316.41 L81.61,316.73 L82.18,317.16 L82.75,317.23 L83.32,317.23 L83.89,317.18 L84.46,317.63 L85.03,317.79 L85.6,317.73 L86.17,317.88 L86.74,318.17 L87.31,317.93 L87.88,317.77 L88.45,318.16 L89.02,318.13 L89.59,318.19 L90.16,318.3 L90.73,318.36 L91.3,318.81 L91.87,318.76 L92.44,319.27 L93.01,318.85 L93.58,319.32 L94.15,319.37 L94.72,319.19 L95.29,319.69 L95.86,319.82 L96.43,319.44 L97,319.66 L97.57,320.1 L98.14,320.2 L98.71,320.04 L99.28,320.35 L99.85,319.83 L100.42,320.36 L100.99,320.36 L101.56,320.35 L102.13,320.33 L102.7,320.45 L103.27,320.38 L103.84,320.42 L104.41,320.65 L104.98,320.96 L105.55,320.39 L106.12,320.67 L106.69,321.17 L107.26,320.98 L107.83,320.82 L108.4,320.72 L108.97,321.45 L109.54,321.55 L110.11,321.29 L110.68,321.39 L111.25,321.12 L111.82,321.24 L112.39,321.66 L112.96,321.66 L113.53,321.61 L114.1,321.46 L114.67,322.02 L115.24,321.95 L115.81,322.23 L116.38,321.91 L116.95,322.41 L117.52,321.83 L118.09,322.19 L118.66,322.22 L119.23,322.64 L119.8,322.6 L120.37,322.5 L120.94,322.29 L121.51,322.58 L122.08,322.83 L122.65,322.4 L123.22,322.69 L123.79,322.85 L124.36,323.15 L124.93,323.15 L125.5,322.79 L126.07,323.4 L126.64,323.19 L127.21,323.19 L127.78,323.45 L128.35,323.22 L128.92,323.18 L129.49,323.29 L130.06,323.44 L130.63,323.89 L131.2,324.06 L131.77,323.86 L132.34,324.01 L132.91,324.16 L133.48,323.75 L134.05,324.28 L134.62,323.91 L135.19,323.9 L135.76,324.55 L136.33,324.05 L136.9,324.49 L137.47,324.68 L138.04,324.77 L138.61,324.94 L139.18,324.68 L139.75,324.83 L140.32,324.56 L140.89,324.7 L141.46,325.37 L142.03,325.25 L142.6,325.38 L143.17,325.66 L143.74,325.73 L144.31,325.84 L144.88,325.66 L145.45,326.03 L146.02,326.32 L146.59,326.36 L147.16,326.33 L147.73,326.36 L148.3,326.71 L148.87,326.51 L149.44,326.98 L150.01,326.78 L150.58,326.95 L151.15,327.38 L151.72,327.09 L152.29,327.47 L152.86,327.49 L153.43,327.57 L154,327.67 L154.57,327.93 L155.14,328.32 L155.71,327.93 L156.28,328 L156.85,328.38 L157.42,328.4 L157.99,328.71 L158.56,328.34 L159.13,328.58 L159.7,328.99 L160.27,328.65 L160.84,328.62 L161.41,329.16 L161.98,328.78 L162.55,329.22 L163.12,329.53 L163.69,329.23 L164.26,329.58 L164.83,329.38 L165.4,329.57 L165.97,329.99 L166.54,329.78 L167.11,329.63 L167.68,329.98 L168.25,330.02 L168.82,329.87 L169.39,330.25 L169.96,330.3 L170.53,330.32 L171.1,330.24 L171.67,330.76 L172.24,330.92 L172.81,330.53 L173.38,330.76 L173.95,331.03 L174.52,330.69 L175.09,330.78 L175.66,331.11 L176.23,330.87 L176.8,331.06 L177.37,331.21 L177.94,331.62 L178.51,331.9 L179.08,331.51 L179.65,331.55 L180.22,331.91 L180.79,331.9 L181.36,331.92 L181.93,332.23 L182.5,332 L183.07,332.18 L183.64,332.39 L184.21,332.67 L184.78,332.43 L185.35,332.68 L185.92,332.48 L186.49,332.96 L187.06,332.88 L187.63,333.11 L188.2,333.04 L188.77,333 L189.34,333.42 L189.91,333.54 L190.48,333.31 L191.05,333.58 L191.62,333.43 L192.19,333.74 L192.76,333.85 L193.33,333.61 L193.9,333.41 L194.47,333.51 L195.04,333.84 L195.61,333.99 L196.18,334.29 L196.75,334.21 L197.32,334.26 L197.89,333.88 L198.46,334.53 L199.03,334.01 L199.6,334.42 L200.17,334.52 L200.74,334.71 L201.31,334.28 L201.88,334.9 L202.45,334.69 L203.02,334.81 L203.59,335.1 L204.16,335.15 L204.73,334.68 L205.3,334.88 L205.87,334.99 L206.44,334.94 L207.01,335.58 L207.58,335.22 L208.15,335.26 L208.72,335.7 L209.29,335.62 L209.86,335.33 L210.43,335.87 L211,335.64 L211.57,336.14 L212.14,335.87 L212.71,336.23 L213.28,336.14 L213.85,336.32 L214.42,336.04 L214.99,336.21 L215.56,336.46 L216.13,336.41 L216.7,336.68 L217.27,336.49 L217.84,336.96 L218.41,336.83 L218.98,336.88 L219.55,337.1 L220.12,337.43 L220.69,337.42 L221.26,337.16 L221.83,337.55 L222.4,337.24 L222.97,337.5 L223.54,337.26 L224.11,337.42 L224.68,337.58 L225.25,337.91 L225.82,338.23 L226.39,337.94 L226.96,337.89 L227.53,337.84 L228.1,338.44 L228.67,338.55 L229.24,338.04 L229.81,338.29 L230.38,338.55 L230.95,338.45 L231.52,338.95 L232.09,338.75 L232.66,338.74 L233.23,338.87 L233.8,339.26 L234.37,339.36 L234.94,339.09 L235.51,338.99 L236.08,339.6 L236.65,339.77 L237.22,339.8 L237.79,339.38 L238.36,339.74 L238.93,339.77 L239.5,339.47 L240.07,339.82 L240.64,340.15 L241.21,339.92 L241.78,340.5 L242.35,340.38 L242.92,340.16 L243.49,340.62 L244.06,340.79 L244.63,340.53 L245.2,340.74 L245.77,340.37 L246.34,341.06 L246.91,340.63 L247.48,341 L248.05,340.77 L248.62,341.1 L249.19,341.01 L249.76,341.32 L250.33,341.46 L250.9,341.37 L251.47,341.19 L252.04,341.58 L252.61,341.73 L253.18,341.67 L253.75,341.97 L254.32,341.88 L254.89,341.77 L255.46,341.85 L256.03,341.89 L256.6,342.17 L257.17,342.43 L257.74,342.5 L258.31,342.35 L258.88,342.52 L259.45,342.32 L260.02,342.61 L260.59,342.32 L261.16,342.51 L261.73,342.53 L262.3,342.55 L262.87,342.77 L263.44,342.91 L264.01,343.06 L264.58,343.3 L265.15,342.85 L265.72,343.11 L266.29,343.44 L266.86,342.9 L267.43,343.19 L268,343.21 L268.57,343.39 L269.14,343.66 L269.71,343.08 L270.28,343.72 L270.85,343.63 L271.42,343.22 L271.99,343.89 L272.56,343.67 L273.13,343.73 L273.7,343.94 L274.27,343.51 L274.84,343.92 L275.41,344.25 L275.98,343.97 L276.55,344.35 L277.12,343.9 L277.69,343.83 L278.26,343.85 L278.83,344.51 L279.4,344.11 L279.97,344.42 L280.54,344.35 L281.11,344.52 L281.68,344.56 L282.25,344.73 L282.82,344.42 L283.39,344.85 L283.96,344.28 L284.53,344.98 L285.1,344.37 L285.67,344.95 L286.24,345.06 L286.81,344.61 L287.38,344.79 L287.95,344.65 L288.52,344.87 L289.09,344.81 L289.66,345.23 L290.23,344.83 L290.8,344.98 L291.37,344.69 L291.94,345.4 L292.51,345.38 L293.08,344.98 L293.65,344.83 L294.22,345.21 L294.79,345.04 L295.36,345.17 L295.93,345.32 L296.5,345.3 L297.07,345.23 L297.64,345.66 L298.21,345.5 L298.78,345.22 L299.35,345.59 L299.92,345.46 L300.49,345.64 L301.06,345.6 L301.63,345.42 L302.2,345.38 L302.77,345.26 L303.34,345.63 L303.91,345.85 L304.48,345.79 L305.05,346.01 L305.62,345.91 L306.19,345.7 L306.76,345.71 L307.33,346 L307.9,346.07 L308.47,346.15 L309.04,346.11 L309.61,345.91 L310.18,346.1 L310.75,345.68 L311.32,345.92 L311.89,346.11 L312.46,346.06 L313.03,346.36 L313.6,345.89 L314.17,345.9 L314.74,346.2 L315.31,345.96 L315.88,346.3 L316.45,346.36 L317.02,346.38 L317.59,346.42 L318.16,346.15 L318.73,346.15 L319.3,346.11 L319.87,346.57 L320.44,346.12 L321.01,346.35 L321.58,346.44 L322.15,346.37 L322.72,346.45 L323.29,346.63 L323.86,346.52 L324.43,346.36" fill="none" stroke="#1f5289" stroke-width="2.1" stroke-linejoin="round" stroke-linecap="round" />
<rect x="40.3" y="273.8" width="284.7" height="100.2" fill="none" stroke="#555" stroke-width="0.9"/>
<line x1="325.0" y1="273.8" x2="325.0" y2="374.0" stroke="#f8b4b8" stroke-width="1"/>
<line x1="97" y1="374" x2="97" y2="372.2" stroke="#555" stroke-width="0.8"/>
<text x="97" y="381.5" font-size="6.3" text-anchor="middle" font-weight="bold" fill="#222" stroke="#222" stroke-width="0.1" >100</text>
<line x1="154" y1="374" x2="154" y2="372.2" stroke="#555" stroke-width="0.8"/>
<text x="154" y="381.5" font-size="6.3" text-anchor="middle" font-weight="bold" fill="#222" stroke="#222" stroke-width="0.1" >200</text>
<line x1="211" y1="374" x2="211" y2="372.2" stroke="#555" stroke-width="0.8"/>
<text x="211" y="381.5" font-size="6.3" text-anchor="middle" font-weight="bold" fill="#222" stroke="#222" stroke-width="0.1" >300</text>
<line x1="268" y1="374" x2="268" y2="372.2" stroke="#555" stroke-width="0.8"/>
<text x="268" y="381.5" font-size="6.3" text-anchor="middle" font-weight="bold" fill="#222" stroke="#222" stroke-width="0.1" >400</text>
<line x1="325" y1="374" x2="325" y2="372.2" stroke="#555" stroke-width="0.8"/>
<text x="325" y="381.5" font-size="6.3" text-anchor="middle" font-weight="bold" fill="#222" stroke="#222" stroke-width="0.1" >500</text>
<line x1="68.5" y1="374" x2="68.5" y2="372.9" stroke="#555" stroke-width="0.6"/>
<line x1="125.5" y1="374" x2="125.5" y2="372.9" stroke="#555" stroke-width="0.6"/>
<line x1="182.5" y1="374" x2="182.5" y2="372.9" stroke="#555" stroke-width="0.6"/>
<line x1="239.5" y1="374" x2="239.5" y2="372.9" stroke="#555" stroke-width="0.6"/>
<line x1="296.5" y1="374" x2="296.5" y2="372.9" stroke="#555" stroke-width="0.6"/>
<line x1="40.3" y1="374" x2="42.1" y2="374" stroke="#555" stroke-width="0.8"/>
<text x="38.3" y="376.27" font-size="6.3" text-anchor="end" font-weight="bold" fill="#222" stroke="#222" stroke-width="0.1" >0</text>
<line x1="40.3" y1="359.74" x2="42.1" y2="359.74" stroke="#555" stroke-width="0.8"/>
<text x="38.3" y="362.01" font-size="6.3" text-anchor="end" font-weight="bold" fill="#222" stroke="#222" stroke-width="0.1" >200</text>
<line x1="40.3" y1="345.49" x2="42.1" y2="345.49" stroke="#555" stroke-width="0.8"/>
<text x="38.3" y="347.75" font-size="6.3" text-anchor="end" font-weight="bold" fill="#222" stroke="#222" stroke-width="0.1" >400</text>
<line x1="40.3" y1="331.23" x2="42.1" y2="331.23" stroke="#555" stroke-width="0.8"/>
<text x="38.3" y="333.5" font-size="6.3" text-anchor="end" font-weight="bold" fill="#222" stroke="#222" stroke-width="0.1" >600</text>
<line x1="40.3" y1="316.97" x2="42.1" y2="316.97" stroke="#555" stroke-width="0.8"/>
<text x="38.3" y="319.24" font-size="6.3" text-anchor="end" font-weight="bold" fill="#222" stroke="#222" stroke-width="0.1" >800</text>
<line x1="40.3" y1="302.71" x2="42.1" y2="302.71" stroke="#555" stroke-width="0.8"/>
<text x="38.3" y="304.98" font-size="6.3" text-anchor="end" font-weight="bold" fill="#222" stroke="#222" stroke-width="0.1" >1000</text>
<line x1="40.3" y1="288.46" x2="42.1" y2="288.46" stroke="#555" stroke-width="0.8"/>
<text x="38.3" y="290.73" font-size="6.3" text-anchor="end" font-weight="bold" fill="#222" stroke="#222" stroke-width="0.1" >1200</text>
<line x1="40.3" y1="274.2" x2="42.1" y2="274.2" stroke="#555" stroke-width="0.8"/>
<text x="38.3" y="276.47" font-size="6.3" text-anchor="end" font-weight="bold" fill="#222" stroke="#222" stroke-width="0.1" >1400</text>
<line x1="325" y1="374" x2="323.2" y2="374" stroke="#f8b4b8" stroke-width="0.8"/>
<text x="327.5" y="376.27" font-size="6.3" text-anchor="start" font-weight="bold" fill="#ff2a2a" stroke="#ff2a2a" stroke-width="0.1" >0</text>
<line x1="325" y1="354.86" x2="323.2" y2="354.86" stroke="#f8b4b8" stroke-width="0.8"/>
<text x="327.5" y="357.13" font-size="6.3" text-anchor="start" font-weight="bold" fill="#ff2a2a" stroke="#ff2a2a" stroke-width="0.1" >20</text>
<line x1="325" y1="335.72" x2="323.2" y2="335.72" stroke="#f8b4b8" stroke-width="0.8"/>
<text x="327.5" y="337.99" font-size="6.3" text-anchor="start" font-weight="bold" fill="#ff2a2a" stroke="#ff2a2a" stroke-width="0.1" >40</text>
<line x1="325" y1="316.58" x2="323.2" y2="316.58" stroke="#f8b4b8" stroke-width="0.8"/>
<text x="327.5" y="318.85" font-size="6.3" text-anchor="start" font-weight="bold" fill="#ff2a2a" stroke="#ff2a2a" stroke-width="0.1" >60</text>
<line x1="325" y1="297.44" x2="323.2" y2="297.44" stroke="#f8b4b8" stroke-width="0.8"/>
<text x="327.5" y="299.71" font-size="6.3" text-anchor="start" font-weight="bold" fill="#ff2a2a" stroke="#ff2a2a" stroke-width="0.1" >80</text>
<line x1="325" y1="278.3" x2="323.2" y2="278.3" stroke="#f8b4b8" stroke-width="0.8"/>
<text x="327.5" y="280.57" font-size="6.3" text-anchor="start" font-weight="bold" fill="#ff2a2a" stroke="#ff2a2a" stroke-width="0.1" >100</text>
<line x1="325" y1="364.43" x2="323.9" y2="364.43" stroke="#f8b4b8" stroke-width="0.6"/>
<line x1="325" y1="345.29" x2="323.9" y2="345.29" stroke="#f8b4b8" stroke-width="0.6"/>
<line x1="325" y1="326.15" x2="323.9" y2="326.15" stroke="#f8b4b8" stroke-width="0.6"/>
<line x1="325" y1="307.01" x2="323.9" y2="307.01" stroke="#f8b4b8" stroke-width="0.6"/>
<line x1="325" y1="287.87" x2="323.9" y2="287.87" stroke="#f8b4b8" stroke-width="0.6"/>
<text transform="translate(19.3,324.2) rotate(-90)" font-size="8.9" text-anchor="middle" font-weight="bold" fill="#222" stroke="#222" stroke-width="0.12">Specific capacity (mAh/g)</text>
<text transform="translate(351,323.5) rotate(-90)" font-size="8.8" text-anchor="middle" font-weight="bold" fill="#ff2a2a" stroke="#ff2a2a" stroke-width="0.12">Coulombic efficiency (%)</text>
<text x="182.5" y="394.8" font-size="8.8" text-anchor="middle" font-weight="bold" fill="#222" stroke="#222" stroke-width="0.1" >Cycle number</text>
<text x="182.5" y="327" font-size="6.8" text-anchor="middle" font-weight="bold" fill="#222" stroke="#222" stroke-width="0.1" >2 C</text>
<text x="320.3" y="369" font-size="6.8" text-anchor="end" font-weight="bold" fill="#222" stroke="#222" stroke-width="0.18">S loading: 2.0 mg/cm<tspan font-size="4.8" dy="-2.6">2</tspan></text>
<path d="M59.5,316 Q56,322 46,321.5" fill="none" stroke="#1f5289" stroke-width="0.7"/><path d="M44.5,321.5 L47.5,320 L47.5,323 Z" fill="#1f5289"/>
<path d="M302.8,285.6 Q307,291.5 317.5,291.8" fill="none" stroke="#f04a4f" stroke-width="0.7"/><path d="M319.4,291.8 L316.4,290.3 L316.4,293.3 Z" fill="#f04a4f"/>
<text x="352.4" y="263.2" font-size="13.5" text-anchor="start" font-weight="normal" fill="#222" stroke="#222" stroke-width="0.12">(h)</text>
<path d="M393.15,279.16 L394.45,279.07 L395.75,279.41 L397.05,279.08 L398.35,279.12 L399.65,279.16 L400.95,279.04 L402.25,279.44 L403.55,279.13 L404.85,279.07 L406.15,279.44 L407.45,279.22 L408.75,279.05 L410.05,279.36 L411.35,279.09 L412.65,279.07 L413.95,279.29 L415.25,279.43 L416.55,279.4 L417.85,279.11 L419.15,279.3 L420.45,279.35 L421.75,279.29 L423.05,279.06 L424.35,279.38 L425.65,279.49 L426.95,279.05 L428.25,279.35 L429.55,279.32 L430.85,279.04 L432.15,279.37 L433.45,279.46 L434.75,279.08 L436.05,279.39 L437.35,279.4 L438.65,279.06 L439.95,279.39 L441.25,279.07 L442.55,279.34 L443.85,279.36 L445.15,279.4 L446.45,279.24 L447.75,279.24 L449.05,279.31 L450.35,279.26 L451.65,279.36 L452.95,279.1 L454.25,279.06 L455.55,279.14 L456.85,279.11 L458.15,279.47 L459.45,279.38 L460.75,279.41 L462.05,279.43 L463.35,279.04 L464.65,279.07 L465.95,279.07 L467.25,279.24 L468.55,279.45 L469.85,279.3 L471.15,279.48 L472.45,279.07 L473.75,279.38 L475.05,279.37 L476.35,279.05 L477.65,279.41 L478.95,279.06 L480.25,279.35 L481.55,279.19 L482.85,279.45 L484.15,279.07 L485.45,279.31 L486.75,279.34 L488.05,279.19 L489.35,279.22 L490.65,279.38 L491.95,279.44 L493.25,279.23 L494.55,279.49 L495.85,279.09 L497.15,279.34 L498.45,279.42 L499.75,279.35 L501.05,279.45 L502.35,279.35 L503.65,279.24 L504.95,279.31 L506.25,279.34 L507.55,279.36 L508.85,279.27 L510.15,279.13 L511.45,279.29 L512.75,279.14 L514.05,279.27 L515.35,279.45 L516.65,279.42 L517.95,279.1 L519.25,279.27 L520.55,279.32 L521.85,279.26" fill="none" stroke="#bccfe2" stroke-width="2.9" stroke-linejoin="round" stroke-linecap="round" />
<path d="M393.15,277.26 L395.75,277.26 L398.35,277.26 L400.95,277.26 L403.55,277.26 L406.15,277.26 L408.75,277.26 L411.35,277.26 L413.95,277.26 L416.55,277.26 L419.15,277.26 L421.75,277.26 L424.35,277.26 L426.95,277.26 L429.55,277.26 L432.15,277.26 L434.75,277.26 L437.35,277.26 L439.95,277.26 L442.55,277.26 L445.15,277.26 L447.75,277.26 L450.35,277.26 L452.95,277.26 L455.55,277.26 L458.15,277.26 L460.75,277.26 L463.35,277.26 L465.95,277.26 L468.55,277.26 L471.15,277.26 L473.75,277.26 L476.35,277.26 L478.95,277.26 L481.55,277.26 L484.15,277.26 L486.75,277.26 L489.35,277.26 L491.95,277.26 L494.55,277.26 L497.15,277.26 L499.75,277.26 L502.35,277.26 L504.95,277.26 L507.55,277.26 L510.15,277.26 L512.75,277.26 L515.35,277.26 L517.95,277.26 L520.55,277.26" fill="none" stroke="#f2a0a4" stroke-width="0.6" stroke-linejoin="round" stroke-linecap="round" />
<path d="M393.15,315.68 L393.8,316.71 L394.45,317.39 L395.1,318.04 L395.75,318.58 L396.4,318.41 L397.05,318.72 L397.7,318.96 L398.35,319.25 L399,319.49 L399.65,319.56 L400.3,320.03 L400.95,319.45 L401.6,320.19 L402.25,319.64 L402.9,320.25 L403.55,319.8 L404.2,320.28 L404.85,320.48 L405.5,320.16 L406.15,319.98 L406.8,320.02 L407.45,320.05 L408.1,320.02 L408.75,320.81 L409.4,320.6 L410.05,320.87 L410.7,320.41 L411.35,320.7 L412,320.52 L412.65,320.53 L413.3,320.42 L413.95,320.73 L414.6,320.62 L415.25,320.99 L415.9,321.46 L416.55,320.92 L417.2,321.66 L417.85,321.77 L418.5,321.28 L419.15,321.82 L419.8,321.62 L420.45,322.23 L421.1,322.19 L421.75,321.89 L422.4,322.53 L423.05,322.26 L423.7,322.02 L424.35,322.7 L425,322.42 L425.65,322.49 L426.3,322.69 L426.95,322.68 L427.6,322.84 L428.25,323.48 L428.9,323.45 L429.55,323.28 L430.2,323.03 L430.85,323.72 L431.5,323.52 L432.15,323.97 L432.8,323.49 L433.45,323.91 L434.1,323.94 L434.75,323.91 L435.4,324.43 L436.05,324.05 L436.7,324.09 L437.35,324.13 L438,324.69 L438.65,324.82 L439.3,324.96 L439.95,324.5 L440.6,324.99 L441.25,325.14 L441.9,325.16 L442.55,325.14 L443.2,325.56 L443.85,325.66 L444.5,325.44 L445.15,325.55 L445.8,326.05 L446.45,326.35 L447.1,325.79 L447.75,326.07 L448.4,326.29 L449.05,326.56 L449.7,326.24 L450.35,326.78 L451,327.07 L451.65,327.28 L452.3,327.2 L452.95,327.12 L453.6,327.43 L454.25,327.09 L454.9,327.44 L455.55,327.71 L456.2,327.67 L456.85,327.84 L457.5,327.94 L458.15,328.16 L458.8,328.26 L459.45,328.36 L460.1,328.17 L460.75,328.76 L461.4,328.37 L462.05,328.83 L462.7,328.48 L463.35,329.17 L464,328.92 L464.65,329.04 L465.3,328.9 L465.95,329.39 L466.6,329.42 L467.25,329.6 L467.9,329.34 L468.55,329.41 L469.2,329.91 L469.85,329.8 L470.5,329.83 L471.15,329.26 L471.8,329.7 L472.45,329.66 L473.1,329.91 L473.75,329.66 L474.4,329.58 L475.05,329.73 L475.7,330.3 L476.35,329.99 L477,329.99 L477.65,330.39 L478.3,329.83 L478.95,330.25 L479.6,330.31 L480.25,330.08 L480.9,330.16 L481.55,330.27 L482.2,330.02 L482.85,330.33 L483.5,330.51 L484.15,330.77 L484.8,330.42 L485.45,330.61 L486.1,330.51 L486.75,330.7 L487.4,331.01 L488.05,331.03 L488.7,330.94 L489.35,331 L490,330.4 L490.65,330.62 L491.3,330.9 L491.95,330.53 L492.6,330.6 L493.25,331.06 L493.9,330.52 L494.55,330.94 L495.2,330.34 L495.85,331.02 L496.5,330.92 L497.15,330.95 L497.8,330.47 L498.45,330.51 L499.1,330.71 L499.75,331.06 L500.4,330.84 L501.05,330.63 L501.7,331.15 L502.35,330.47 L503,330.54 L503.65,330.47 L504.3,330.66 L504.95,330.73 L505.6,330.46 L506.25,331.03 L506.9,331 L507.55,331.15 L508.2,331.11 L508.85,330.71 L509.5,331.35 L510.15,330.91 L510.8,331.27 L511.45,330.97 L512.1,331.15 L512.75,331.29 L513.4,331.25 L514.05,331.97 L514.7,331.88 L515.35,331.88 L516,331.91 L516.65,331.86 L517.3,331.83 L517.95,332.08 L518.6,332.07 L519.25,332.39 L519.9,332.8 L520.55,332.82 L521.2,332.77 L521.85,332.86" fill="none" stroke="#1f5289" stroke-width="2.1" stroke-linejoin="round" stroke-linecap="round" />
<path d="M393.15,338.92 L393.8,338.95 L394.45,338.77 L395.1,339.1 L395.75,338.61 L396.4,339.33 L397.05,338.84 L397.7,339 L398.35,339.25 L399,338.98 L399.65,339.08 L400.3,338.72 L400.95,338.8 L401.6,339.07 L402.25,338.86 L402.9,338.88 L403.55,339.48 L404.2,338.97 L404.85,338.99 L405.5,338.89 L406.15,339.1 L406.8,339.42 L407.45,339.59 L408.1,339.26 L408.75,339.64 L409.4,339.27 L410.05,339.48 L410.7,339.34 L411.35,339.78 L412,339.88 L412.65,339.47 L413.3,339.73 L413.95,340.02 L414.6,339.94 L415.25,340.1 L415.9,340 L416.55,340.16 L417.2,340.41 L417.85,339.92 L418.5,340.06 L419.15,340.23 L419.8,340.67 L420.45,340.8 L421.1,340.44 L421.75,340.43 L422.4,340.63 L423.05,341.04 L423.7,340.7 L424.35,340.92 L425,341.11 L425.65,341 L426.3,341.17 L426.95,341.08 L427.6,341.05 L428.25,340.92 L428.9,341.66 L429.55,341.35 L430.2,341.11 L430.85,341.39 L431.5,341.5 L432.15,341.34 L432.8,342.04 L433.45,341.49 L434.1,341.68 L434.75,341.76 L435.4,342.03 L436.05,341.84 L436.7,342.28 L437.35,342.01 L438,342.28 L438.65,341.8 L439.3,341.95 L439.95,342.27 L440.6,342.09 L441.25,342.44 L441.9,342.38 L442.55,342.72 L443.2,342.22 L443.85,342.35 L444.5,342.4 L445.15,342.99 L445.8,342.46 L446.45,343.16 L447.1,342.77 L447.75,342.88 L448.4,343.27 L449.05,343.04 L449.7,342.72 L450.35,342.98 L451,343.28 L451.65,342.94 L452.3,343.35 L452.95,342.97 L453.6,343.42 L454.25,343.73 L454.9,343.07 L455.55,343.84 L456.2,343.75 L456.85,343.39 L457.5,343.96 L458.15,343.67 L458.8,343.48 L459.45,343.74 L460.1,343.99 L460.75,343.71 L461.4,343.71 L462.05,343.96 L462.7,343.97 L463.35,344.27 L464,344.25 L464.65,343.83 L465.3,343.89 L465.95,344.7 L466.6,344.59 L467.25,344.61 L467.9,344.2 L468.55,344.71 L469.2,344.78 L469.85,344.35 L470.5,344.86 L471.15,344.26 L471.8,344.72 L472.45,344.41 L473.1,344.51 L473.75,345.04 L474.4,344.62 L475.05,344.96 L475.7,345.16 L476.35,345.34 L477,344.86 L477.65,345.01 L478.3,345.26 L478.95,344.88 L479.6,345.43 L480.25,345.27 L480.9,345.6 L481.55,345.43 L482.2,345.05 L482.85,345.4 L483.5,345.71 L484.15,345.69 L484.8,345.41 L485.45,345.74 L486.1,345.3 L486.75,346 L487.4,345.4 L488.05,345.64 L488.7,345.52 L489.35,345.93 L490,346.2 L490.65,346.16 L491.3,345.84 L491.95,346.36 L492.6,346.34 L493.25,345.84 L493.9,345.81 L494.55,345.87 L495.2,345.93 L495.85,346.19 L496.5,345.98 L497.15,346.16 L497.8,346.32 L498.45,346.46 L499.1,346.82 L499.75,346.81 L500.4,346.73 L501.05,346.6 L501.7,346.92 L502.35,346.28 L503,346.64 L503.65,346.55 L504.3,346.47 L504.95,347.04 L505.6,346.56 L506.25,346.54 L506.9,347.13 L507.55,347.29 L508.2,346.8 L508.85,346.77 L509.5,346.88 L510.15,347.23 L510.8,347.12 L511.45,347.55 L512.1,347.5 L512.75,347.39 L513.4,347.18 L514.05,347.74 L514.7,347.11 L515.35,347.87 L516,347.16 L516.65,347.79 L517.3,347.37 L517.95,347.41 L518.6,347.34 L519.25,347.77 L519.9,347.63 L520.55,348 L521.2,347.61 L521.85,348.23" fill="none" stroke="#f04a4f" stroke-width="1.9" stroke-linejoin="round" stroke-linecap="round" />
<rect x="392.8" y="273.8" width="130" height="100.2" fill="none" stroke="#555" stroke-width="0.9"/>
<line x1="522.8" y1="273.8" x2="522.8" y2="374.0" stroke="#ff4a4a" stroke-width="0.9"/>
<line x1="425" y1="374" x2="425" y2="372.2" stroke="#555" stroke-width="0.8"/>
<text x="425" y="381.5" font-size="6.3" text-anchor="middle" font-weight="bold" fill="#222" stroke="#222" stroke-width="0.1" >50</text>
<line x1="457.5" y1="374" x2="457.5" y2="372.2" stroke="#555" stroke-width="0.8"/>
<text x="457.5" y="381.5" font-size="6.3" text-anchor="middle" font-weight="bold" fill="#222" stroke="#222" stroke-width="0.1" >100</text>
<line x1="490" y1="374" x2="490" y2="372.2" stroke="#555" stroke-width="0.8"/>
<text x="490" y="381.5" font-size="6.3" text-anchor="middle" font-weight="bold" fill="#222" stroke="#222" stroke-width="0.1" >150</text>
<line x1="522.5" y1="374" x2="522.5" y2="372.2" stroke="#555" stroke-width="0.8"/>
<text x="522.5" y="381.5" font-size="6.3" text-anchor="middle" font-weight="bold" fill="#222" stroke="#222" stroke-width="0.1" >200</text>
<line x1="408.75" y1="374" x2="408.75" y2="372.9" stroke="#555" stroke-width="0.6"/>
<line x1="441.25" y1="374" x2="441.25" y2="372.9" stroke="#555" stroke-width="0.6"/>
<line x1="473.75" y1="374" x2="473.75" y2="372.9" stroke="#555" stroke-width="0.6"/>
<line x1="506.25" y1="374" x2="506.25" y2="372.9" stroke="#555" stroke-width="0.6"/>
<line x1="392.8" y1="374" x2="394.6" y2="374" stroke="#555" stroke-width="0.8"/>
<text x="390.8" y="376.27" font-size="6.3" text-anchor="end" font-weight="bold" fill="#222" stroke="#222" stroke-width="0.1" >0</text>
<line x1="392.8" y1="354.12" x2="394.6" y2="354.12" stroke="#555" stroke-width="0.8"/>
<text x="390.8" y="356.39" font-size="6.3" text-anchor="end" font-weight="bold" fill="#222" stroke="#222" stroke-width="0.1" >1</text>
<line x1="392.8" y1="334.24" x2="394.6" y2="334.24" stroke="#555" stroke-width="0.8"/>
<text x="390.8" y="336.51" font-size="6.3" text-anchor="end" font-weight="bold" fill="#222" stroke="#222" stroke-width="0.1" >2</text>
<line x1="392.8" y1="314.36" x2="394.6" y2="314.36" stroke="#555" stroke-width="0.8"/>
<text x="390.8" y="316.63" font-size="6.3" text-anchor="end" font-weight="bold" fill="#222" stroke="#222" stroke-width="0.1" >3</text>
<line x1="392.8" y1="294.48" x2="394.6" y2="294.48" stroke="#555" stroke-width="0.8"/>
<text x="390.8" y="296.75" font-size="6.3" text-anchor="end" font-weight="bold" fill="#222" stroke="#222" stroke-width="0.1" >4</text>
<line x1="392.8" y1="274.6" x2="394.6" y2="274.6" stroke="#555" stroke-width="0.8"/>
<text x="390.8" y="276.87" font-size="6.3" text-anchor="end" font-weight="bold" fill="#222" stroke="#222" stroke-width="0.1" >5</text>
<line x1="392.8" y1="364.06" x2="393.9" y2="364.06" stroke="#555" stroke-width="0.6"/>
<line x1="392.8" y1="344.18" x2="393.9" y2="344.18" stroke="#555" stroke-width="0.6"/>
<line x1="392.8" y1="324.3" x2="393.9" y2="324.3" stroke="#555" stroke-width="0.6"/>
<line x1="392.8" y1="304.42" x2="393.9" y2="304.42" stroke="#555" stroke-width="0.6"/>
<line x1="392.8" y1="284.54" x2="393.9" y2="284.54" stroke="#555" stroke-width="0.6"/>
<line x1="522.8" y1="374" x2="521" y2="374" stroke="#ff3030" stroke-width="0.8"/>
<text x="525.3" y="376.27" font-size="6.3" text-anchor="start" font-weight="bold" fill="#ff2a2a" stroke="#ff2a2a" stroke-width="0.1" >0</text>
<line x1="522.8" y1="354.9" x2="521" y2="354.9" stroke="#ff3030" stroke-width="0.8"/>
<text x="525.3" y="357.17" font-size="6.3" text-anchor="start" font-weight="bold" fill="#ff2a2a" stroke="#ff2a2a" stroke-width="0.1" >20</text>
<line x1="522.8" y1="335.8" x2="521" y2="335.8" stroke="#ff3030" stroke-width="0.8"/>
<text x="525.3" y="338.07" font-size="6.3" text-anchor="start" font-weight="bold" fill="#ff2a2a" stroke="#ff2a2a" stroke-width="0.1" >40</text>
<line x1="522.8" y1="316.7" x2="521" y2="316.7" stroke="#ff3030" stroke-width="0.8"/>
<text x="525.3" y="318.97" font-size="6.3" text-anchor="start" font-weight="bold" fill="#ff2a2a" stroke="#ff2a2a" stroke-width="0.1" >60</text>
<line x1="522.8" y1="297.6" x2="521" y2="297.6" stroke="#ff3030" stroke-width="0.8"/>
<text x="525.3" y="299.87" font-size="6.3" text-anchor="start" font-weight="bold" fill="#ff2a2a" stroke="#ff2a2a" stroke-width="0.1" >80</text>
<line x1="522.8" y1="278.5" x2="521" y2="278.5" stroke="#ff3030" stroke-width="0.8"/>
<text x="525.3" y="280.77" font-size="6.3" text-anchor="start" font-weight="bold" fill="#ff2a2a" stroke="#ff2a2a" stroke-width="0.1" >100</text>
<line x1="522.8" y1="364.45" x2="521.7" y2="364.45" stroke="#ff3030" stroke-width="0.6"/>
<line x1="522.8" y1="345.35" x2="521.7" y2="345.35" stroke="#ff3030" stroke-width="0.6"/>
<line x1="522.8" y1="326.25" x2="521.7" y2="326.25" stroke="#ff3030" stroke-width="0.6"/>
<line x1="522.8" y1="307.15" x2="521.7" y2="307.15" stroke="#ff3030" stroke-width="0.6"/>
<line x1="522.8" y1="288.05" x2="521.7" y2="288.05" stroke="#ff3030" stroke-width="0.6"/>
<text transform="translate(382.5,324) rotate(-90)" font-size="8.4" text-anchor="middle" font-weight="bold" fill="#222" stroke="#222" stroke-width="0.2">Areal capacity (mAh/cm<tspan font-size="5.8" dy="-3">2</tspan><tspan dy="3">)</tspan></text>
<text transform="translate(546.5,321.5) rotate(-90)" font-size="8.8" text-anchor="middle" font-weight="bold" fill="#ff2a2a" stroke="#ff2a2a" stroke-width="0.12">Coulombic efficiency (%)</text>
<text x="457.5" y="394.8" font-size="8.8" text-anchor="middle" font-weight="bold" fill="#222" stroke="#222" stroke-width="0.1" >Cycle number</text>
<text x="517.3" y="325.8" font-size="7.0" text-anchor="end" font-weight="bold" fill="#1f5289" stroke="#1f5289" stroke-width="0.15">4 mg/cm<tspan font-size="4.8" dy="-2.7">2</tspan><tspan dy="2.7"> 1 C</tspan></text>
<text x="516.8" y="357.6" font-size="6.95" text-anchor="end" font-weight="bold" fill="#f55a60" stroke="#f55a60" stroke-width="0.15">2 mg/cm<tspan font-size="4.8" dy="-2.7">2</tspan><tspan dy="2.7"> 2 C</tspan></text>
</svg></body></html>
